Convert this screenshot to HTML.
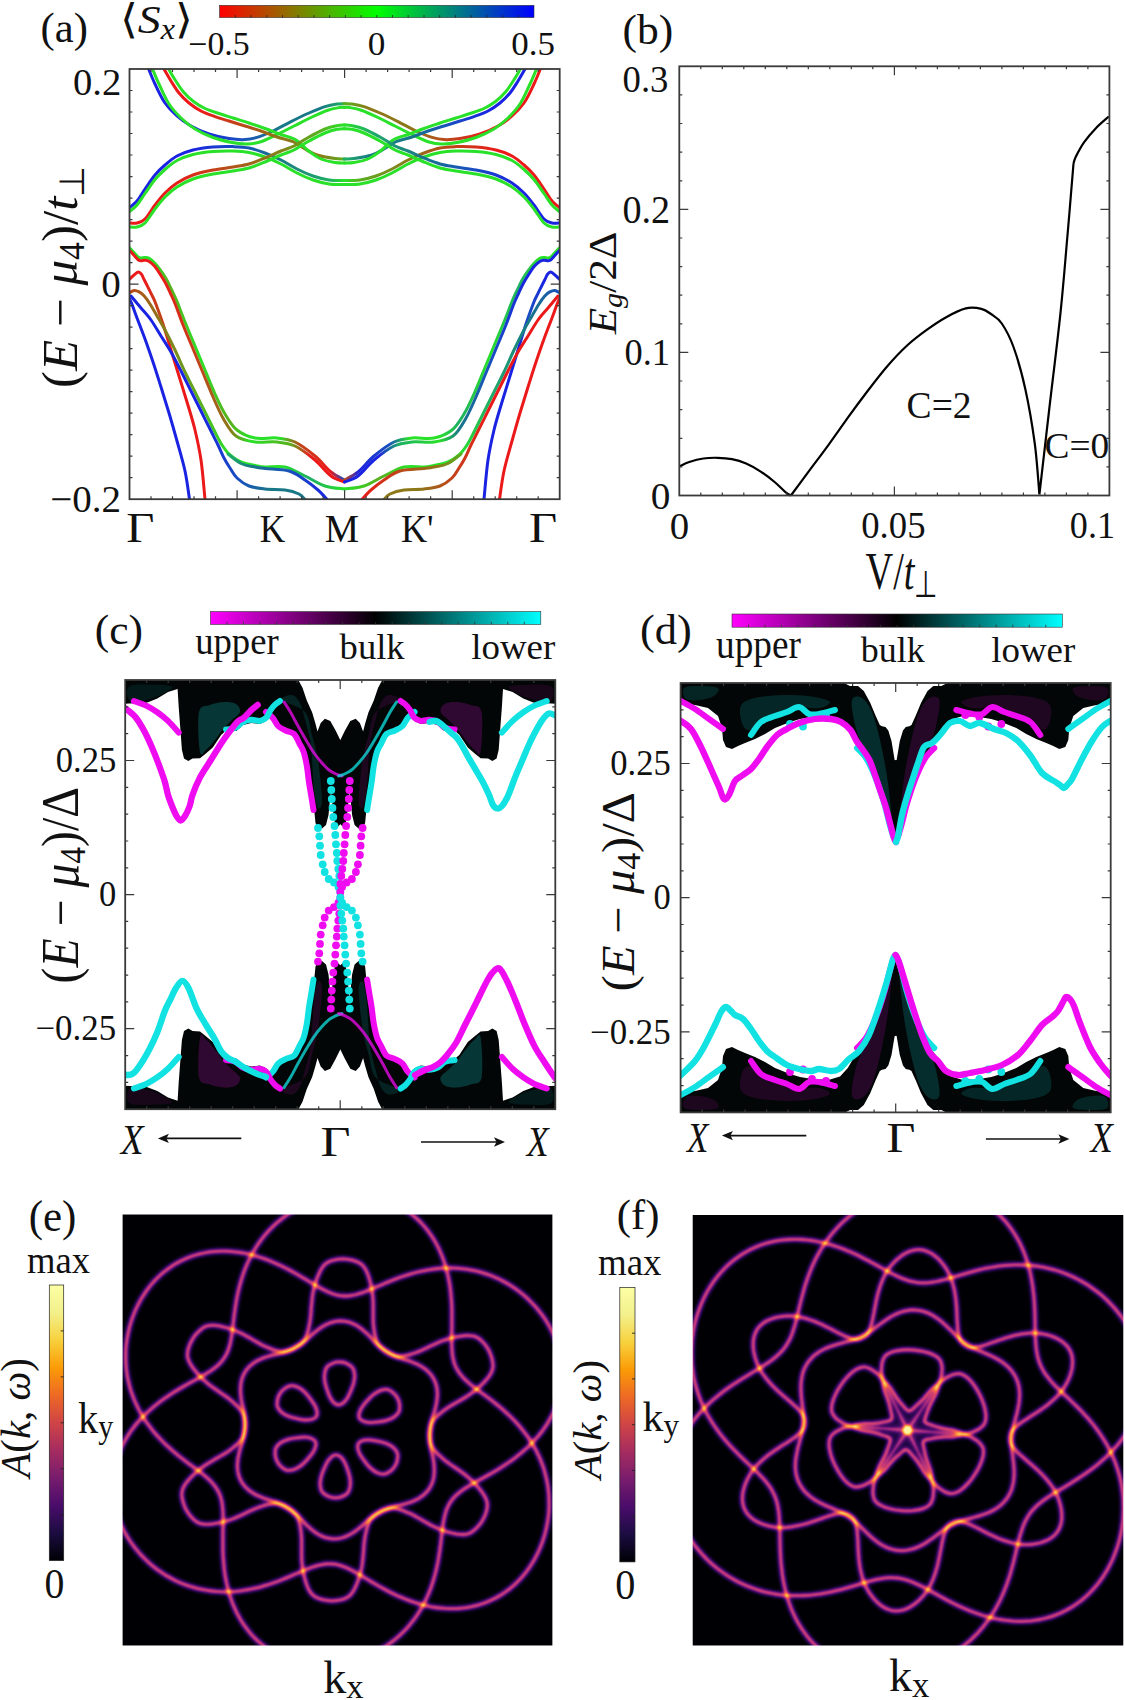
<!DOCTYPE html><html><head><meta charset="utf-8"><style>html,body{margin:0;padding:0;background:#fff;}svg{display:block}</style></head><body><svg width="1125" height="1700" viewBox="0 0 1125 1700" font-family="Liberation Serif, serif">
<defs>
<linearGradient id="cbA" x1="0" x2="1" y1="0" y2="0"><stop offset="0" stop-color="#ff0000"/><stop offset="0.5" stop-color="#00ff00"/><stop offset="1" stop-color="#0000ff"/></linearGradient>
<linearGradient id="cbC" x1="0" x2="1" y1="0" y2="0"><stop offset="0" stop-color="#ff00ff"/><stop offset="0.5" stop-color="#000000"/><stop offset="1" stop-color="#00ffff"/></linearGradient>
<linearGradient id="cbE" x1="0" x2="0" y1="1" y2="0">
<stop offset="0" stop-color="#000004"/><stop offset="0.1" stop-color="#1b0c41"/><stop offset="0.2" stop-color="#4a0c6b"/><stop offset="0.3" stop-color="#781c6d"/><stop offset="0.4" stop-color="#a52c60"/><stop offset="0.5" stop-color="#cf4446"/><stop offset="0.6" stop-color="#ed6925"/><stop offset="0.7" stop-color="#fb9b06"/><stop offset="0.8" stop-color="#f7d13d"/><stop offset="0.9" stop-color="#f3f08c"/><stop offset="1" stop-color="#fcffa4"/></linearGradient>
</defs>
<rect width="1125" height="1700" fill="#fff"/>
<clipPath id="clipA"><rect x="129.5" y="69" width="430" height="430"/></clipPath>
<defs><linearGradient id="ga0" gradientUnits="userSpaceOnUse" x1="147.6" y1="0" x2="346" y2="0"><stop offset="0.012" stop-color="#1923e1"/><stop offset="0.264" stop-color="#1923e1"/><stop offset="0.466" stop-color="#1950be"/><stop offset="0.667" stop-color="#197887"/><stop offset="0.869" stop-color="#197887"/><stop offset="0.990" stop-color="#1eaf64"/></linearGradient><linearGradient id="ga1" gradientUnits="userSpaceOnUse" x1="343.0" y1="0" x2="541.4" y2="0"><stop offset="0.010" stop-color="#5aaf1e"/><stop offset="0.131" stop-color="#8c7819"/><stop offset="0.333" stop-color="#8c7819"/><stop offset="0.534" stop-color="#be4619"/><stop offset="0.736" stop-color="#eb1919"/><stop offset="0.988" stop-color="#eb1919"/></linearGradient><linearGradient id="ga2" gradientUnits="userSpaceOnUse" x1="151.5" y1="0" x2="346" y2="0"><stop offset="0.000" stop-color="#28e128"/><stop offset="0.990" stop-color="#28e128"/></linearGradient><linearGradient id="ga3" gradientUnits="userSpaceOnUse" x1="343.0" y1="0" x2="537.5" y2="0"><stop offset="0.010" stop-color="#28e128"/><stop offset="1.000" stop-color="#28e128"/></linearGradient><linearGradient id="ga4" gradientUnits="userSpaceOnUse" x1="163" y1="0" x2="346" y2="0"><stop offset="0.000" stop-color="#eb1919"/><stop offset="0.202" stop-color="#eb1919"/><stop offset="0.421" stop-color="#be4619"/><stop offset="0.639" stop-color="#8c7819"/><stop offset="0.858" stop-color="#8c7819"/><stop offset="0.989" stop-color="#5aaf1e"/></linearGradient><linearGradient id="ga5" gradientUnits="userSpaceOnUse" x1="343.0" y1="0" x2="526.0" y2="0"><stop offset="0.011" stop-color="#1eaf64"/><stop offset="0.142" stop-color="#197887"/><stop offset="0.361" stop-color="#197887"/><stop offset="0.579" stop-color="#1950be"/><stop offset="0.798" stop-color="#1923e1"/><stop offset="1.000" stop-color="#1923e1"/></linearGradient><linearGradient id="ga6" gradientUnits="userSpaceOnUse" x1="167.5" y1="0" x2="346" y2="0"><stop offset="0.000" stop-color="#28e128"/><stop offset="0.989" stop-color="#28e128"/></linearGradient><linearGradient id="ga7" gradientUnits="userSpaceOnUse" x1="343.0" y1="0" x2="521.5" y2="0"><stop offset="0.011" stop-color="#28e128"/><stop offset="1.000" stop-color="#28e128"/></linearGradient><linearGradient id="ga8" gradientUnits="userSpaceOnUse" x1="128" y1="0" x2="346" y2="0"><stop offset="0.009" stop-color="#1923e1"/><stop offset="0.284" stop-color="#1923e1"/><stop offset="0.514" stop-color="#1950be"/><stop offset="0.697" stop-color="#197887"/><stop offset="0.927" stop-color="#1eaf64"/><stop offset="0.991" stop-color="#28e128"/></linearGradient><linearGradient id="ga9" gradientUnits="userSpaceOnUse" x1="343.0" y1="0" x2="561.0" y2="0"><stop offset="0.009" stop-color="#28e128"/><stop offset="0.073" stop-color="#5aaf1e"/><stop offset="0.303" stop-color="#8c7819"/><stop offset="0.486" stop-color="#be4619"/><stop offset="0.716" stop-color="#eb1919"/><stop offset="0.991" stop-color="#eb1919"/></linearGradient><linearGradient id="ga10" gradientUnits="userSpaceOnUse" x1="128" y1="0" x2="346" y2="0"><stop offset="0.009" stop-color="#28e128"/><stop offset="0.991" stop-color="#28e128"/></linearGradient><linearGradient id="ga11" gradientUnits="userSpaceOnUse" x1="343.0" y1="0" x2="561.0" y2="0"><stop offset="0.009" stop-color="#28e128"/><stop offset="0.991" stop-color="#28e128"/></linearGradient><linearGradient id="ga12" gradientUnits="userSpaceOnUse" x1="128" y1="0" x2="346" y2="0"><stop offset="0.009" stop-color="#eb1919"/><stop offset="0.193" stop-color="#eb1919"/><stop offset="0.422" stop-color="#be4619"/><stop offset="0.651" stop-color="#8c7819"/><stop offset="0.881" stop-color="#5aaf1e"/><stop offset="0.991" stop-color="#28e128"/></linearGradient><linearGradient id="ga13" gradientUnits="userSpaceOnUse" x1="343.0" y1="0" x2="561.0" y2="0"><stop offset="0.009" stop-color="#28e128"/><stop offset="0.119" stop-color="#1eaf64"/><stop offset="0.349" stop-color="#197887"/><stop offset="0.578" stop-color="#1950be"/><stop offset="0.807" stop-color="#1923e1"/><stop offset="0.991" stop-color="#1923e1"/></linearGradient><linearGradient id="ga14" gradientUnits="userSpaceOnUse" x1="128" y1="0" x2="346" y2="0"><stop offset="0.009" stop-color="#28e128"/><stop offset="0.991" stop-color="#28e128"/></linearGradient><linearGradient id="ga15" gradientUnits="userSpaceOnUse" x1="343.0" y1="0" x2="561.0" y2="0"><stop offset="0.009" stop-color="#28e128"/><stop offset="0.991" stop-color="#28e128"/></linearGradient><linearGradient id="ga16" gradientUnits="userSpaceOnUse" x1="128.6" y1="0" x2="345.5" y2="0"><stop offset="0.006" stop-color="#28e128"/><stop offset="0.099" stop-color="#28e128"/><stop offset="0.191" stop-color="#5aaf1e"/><stop offset="0.329" stop-color="#28e128"/><stop offset="0.467" stop-color="#5aaf1e"/><stop offset="0.560" stop-color="#28e128"/><stop offset="0.698" stop-color="#28e128"/><stop offset="0.790" stop-color="#be4619"/><stop offset="0.929" stop-color="#eb1919"/><stop offset="0.993" stop-color="#1950be"/></linearGradient><linearGradient id="ga17" gradientUnits="userSpaceOnUse" x1="343.5" y1="0" x2="560.4" y2="0"><stop offset="0.007" stop-color="#be4619"/><stop offset="0.071" stop-color="#1923e1"/><stop offset="0.210" stop-color="#1950be"/><stop offset="0.302" stop-color="#28e128"/><stop offset="0.440" stop-color="#28e128"/><stop offset="0.533" stop-color="#1eaf64"/><stop offset="0.671" stop-color="#28e128"/><stop offset="0.809" stop-color="#1eaf64"/><stop offset="0.901" stop-color="#28e128"/><stop offset="0.994" stop-color="#28e128"/></linearGradient><linearGradient id="ga18" gradientUnits="userSpaceOnUse" x1="128.6" y1="0" x2="345.5" y2="0"><stop offset="0.006" stop-color="#eb1919"/><stop offset="0.145" stop-color="#eb1919"/><stop offset="0.329" stop-color="#be4619"/><stop offset="0.467" stop-color="#8c7819"/><stop offset="0.560" stop-color="#28e128"/><stop offset="0.744" stop-color="#5aaf1e"/><stop offset="0.836" stop-color="#eb1919"/><stop offset="0.993" stop-color="#eb1919"/></linearGradient><linearGradient id="ga19" gradientUnits="userSpaceOnUse" x1="343.5" y1="0" x2="560.4" y2="0"><stop offset="0.007" stop-color="#1923e1"/><stop offset="0.164" stop-color="#1923e1"/><stop offset="0.256" stop-color="#1eaf64"/><stop offset="0.440" stop-color="#28e128"/><stop offset="0.533" stop-color="#197887"/><stop offset="0.671" stop-color="#1950be"/><stop offset="0.855" stop-color="#1923e1"/><stop offset="0.994" stop-color="#1923e1"/></linearGradient><linearGradient id="ga20" gradientUnits="userSpaceOnUse" x1="128.6" y1="0" x2="206" y2="0"><stop offset="0.018" stop-color="#eb1919"/><stop offset="0.212" stop-color="#eb1919"/><stop offset="0.406" stop-color="#be4619"/><stop offset="0.535" stop-color="#eb1919"/><stop offset="0.987" stop-color="#eb1919"/></linearGradient><linearGradient id="ga21" gradientUnits="userSpaceOnUse" x1="483.0" y1="0" x2="560.4" y2="0"><stop offset="0.013" stop-color="#1923e1"/><stop offset="0.465" stop-color="#1923e1"/><stop offset="0.594" stop-color="#1950be"/><stop offset="0.788" stop-color="#1923e1"/><stop offset="0.982" stop-color="#1923e1"/></linearGradient><linearGradient id="ga22" gradientUnits="userSpaceOnUse" x1="128.6" y1="0" x2="345.5" y2="0"><stop offset="0.006" stop-color="#be4619"/><stop offset="0.145" stop-color="#8c7819"/><stop offset="0.329" stop-color="#5aaf1e"/><stop offset="0.467" stop-color="#28e128"/><stop offset="0.698" stop-color="#28e128"/><stop offset="0.836" stop-color="#1eaf64"/><stop offset="0.993" stop-color="#28e128"/></linearGradient><linearGradient id="ga23" gradientUnits="userSpaceOnUse" x1="343.5" y1="0" x2="560.4" y2="0"><stop offset="0.007" stop-color="#28e128"/><stop offset="0.164" stop-color="#5aaf1e"/><stop offset="0.302" stop-color="#28e128"/><stop offset="0.533" stop-color="#28e128"/><stop offset="0.671" stop-color="#1eaf64"/><stop offset="0.855" stop-color="#197887"/><stop offset="0.994" stop-color="#1950be"/></linearGradient><linearGradient id="ga24" gradientUnits="userSpaceOnUse" x1="130" y1="0" x2="306" y2="0"><stop offset="0.000" stop-color="#1923e1"/><stop offset="0.398" stop-color="#1923e1"/><stop offset="0.625" stop-color="#1950be"/><stop offset="0.795" stop-color="#197887"/><stop offset="0.994" stop-color="#197887"/></linearGradient><linearGradient id="ga25" gradientUnits="userSpaceOnUse" x1="383.0" y1="0" x2="559.0" y2="0"><stop offset="0.006" stop-color="#8c7819"/><stop offset="0.205" stop-color="#8c7819"/><stop offset="0.375" stop-color="#be4619"/><stop offset="0.602" stop-color="#eb1919"/><stop offset="1.000" stop-color="#eb1919"/></linearGradient><linearGradient id="ga26" gradientUnits="userSpaceOnUse" x1="227" y1="0" x2="328" y2="0"><stop offset="0.010" stop-color="#1eaf64"/><stop offset="0.228" stop-color="#197887"/><stop offset="0.624" stop-color="#1950be"/><stop offset="0.990" stop-color="#1923e1"/></linearGradient><linearGradient id="ga27" gradientUnits="userSpaceOnUse" x1="361.0" y1="0" x2="462.0" y2="0"><stop offset="0.010" stop-color="#eb1919"/><stop offset="0.376" stop-color="#be4619"/><stop offset="0.772" stop-color="#8c7819"/><stop offset="0.990" stop-color="#5aaf1e"/></linearGradient><linearGradient id="ga28" gradientUnits="userSpaceOnUse" x1="128.6" y1="0" x2="190.5" y2="0"><stop offset="0.023" stop-color="#1923e1"/><stop offset="0.992" stop-color="#1923e1"/></linearGradient><linearGradient id="ga29" gradientUnits="userSpaceOnUse" x1="498.5" y1="0" x2="560.4" y2="0"><stop offset="0.008" stop-color="#eb1919"/><stop offset="0.977" stop-color="#eb1919"/></linearGradient></defs>
<g clip-path="url(#clipA)" fill="none" stroke-width="3" stroke-linecap="round" stroke-linejoin="round"><path d="M148.6 69.0C149.7 71.5 152.3 78.3 155.0 84.0C157.7 89.7 161.3 97.7 165.0 103.0C168.7 108.3 172.7 112.2 177.0 116.0C181.3 119.8 185.7 123.0 191.0 126.0C196.3 129.0 202.7 131.9 209.0 134.0C215.3 136.1 223.0 137.7 229.0 138.6C235.0 139.5 240.3 139.8 245.0 139.6C249.7 139.4 252.3 138.8 257.0 137.4C261.7 136.0 267.3 133.6 273.0 131.0C278.7 128.4 285.0 124.6 291.0 121.6C297.0 118.6 303.3 115.5 309.0 113.0C314.7 110.5 320.3 108.1 325.0 106.6C329.7 105.1 333.7 104.5 337.0 104.0C340.3 103.5 343.7 103.7 345.0 103.6" stroke="url(#ga0)"/><path d="M540.4 69.0C539.3 71.5 536.7 78.3 534.0 84.0C531.3 89.7 527.7 97.7 524.0 103.0C520.3 108.3 516.3 112.2 512.0 116.0C507.7 119.8 503.3 123.0 498.0 126.0C492.7 129.0 486.3 131.9 480.0 134.0C473.7 136.1 466.0 137.7 460.0 138.6C454.0 139.5 448.7 139.8 444.0 139.6C439.3 139.4 436.7 138.8 432.0 137.4C427.3 136.0 421.7 133.6 416.0 131.0C410.3 128.4 404.0 124.6 398.0 121.6C392.0 118.6 385.7 115.5 380.0 113.0C374.3 110.5 368.7 108.1 364.0 106.6C359.3 105.1 355.3 104.5 352.0 104.0C348.7 103.5 345.3 103.7 344.0 103.6" stroke="url(#ga1)"/><path d="M152.5 69.0C153.6 71.5 156.2 78.2 159.0 84.0C161.8 89.8 165.3 98.3 169.0 104.0C172.7 109.7 176.7 113.8 181.0 118.0C185.3 122.2 189.7 125.8 195.0 129.0C200.3 132.2 206.8 135.2 213.0 137.5C219.2 139.8 226.3 141.4 232.0 142.5C237.7 143.6 242.3 144.1 247.0 144.0C251.7 143.9 255.2 143.5 260.0 142.0C264.8 140.5 270.3 137.7 276.0 135.0C281.7 132.3 288.2 128.9 294.0 126.0C299.8 123.1 305.5 120.1 311.0 117.5C316.5 114.9 322.3 112.2 327.0 110.5C331.7 108.8 336.0 108.1 339.0 107.6C342.0 107.1 344.0 107.4 345.0 107.4" stroke="url(#ga2)"/><path d="M536.5 69.0C535.4 71.5 532.8 78.2 530.0 84.0C527.2 89.8 523.7 98.3 520.0 104.0C516.3 109.7 512.3 113.8 508.0 118.0C503.7 122.2 499.3 125.8 494.0 129.0C488.7 132.2 482.2 135.2 476.0 137.5C469.8 139.8 462.7 141.4 457.0 142.5C451.3 143.6 446.7 144.1 442.0 144.0C437.3 143.9 433.8 143.5 429.0 142.0C424.2 140.5 418.7 137.7 413.0 135.0C407.3 132.3 400.8 128.9 395.0 126.0C389.2 123.1 383.5 120.1 378.0 117.5C372.5 114.9 366.7 112.2 362.0 110.5C357.3 108.8 353.0 108.1 350.0 107.6C347.0 107.1 345.0 107.4 344.0 107.4" stroke="url(#ga3)"/><path d="M164.0 69.0C165.2 71.0 168.5 77.0 171.0 81.0C173.5 85.0 176.0 89.3 179.0 93.0C182.0 96.7 185.3 100.0 189.0 103.0C192.7 106.0 196.7 108.7 201.0 111.0C205.3 113.3 210.3 114.9 215.0 116.6C219.7 118.3 224.0 119.4 229.0 121.0C234.0 122.6 239.7 124.3 245.0 126.0C250.3 127.7 255.7 129.2 261.0 131.0C266.3 132.8 271.7 135.2 277.0 137.0C282.3 138.8 288.3 139.6 293.0 141.6C297.7 143.6 301.0 146.8 305.0 149.0C309.0 151.2 312.0 153.4 317.0 155.0C322.0 156.6 330.3 157.9 335.0 158.6C339.7 159.3 343.3 158.9 345.0 159.0" stroke="url(#ga4)"/><path d="M525.0 69.0C523.8 71.0 520.5 77.0 518.0 81.0C515.5 85.0 513.0 89.3 510.0 93.0C507.0 96.7 503.7 100.0 500.0 103.0C496.3 106.0 492.3 108.7 488.0 111.0C483.7 113.3 478.7 114.9 474.0 116.6C469.3 118.3 465.0 119.4 460.0 121.0C455.0 122.6 449.3 124.3 444.0 126.0C438.7 127.7 433.3 129.2 428.0 131.0C422.7 132.8 417.3 135.2 412.0 137.0C406.7 138.8 400.7 139.6 396.0 141.6C391.3 143.6 388.0 146.8 384.0 149.0C380.0 151.2 377.0 153.4 372.0 155.0C367.0 156.6 358.7 157.9 354.0 158.6C349.3 159.3 345.7 158.9 344.0 159.0" stroke="url(#ga5)"/><path d="M168.5 69.0C169.7 70.9 173.0 76.7 175.5 80.5C178.0 84.3 180.5 88.5 183.5 92.0C186.5 95.5 189.9 98.8 193.5 101.5C197.1 104.2 200.8 106.5 205.0 108.5C209.2 110.5 214.3 111.9 219.0 113.5C223.7 115.1 228.0 116.4 233.0 118.0C238.0 119.6 243.7 121.2 249.0 123.0C254.3 124.8 259.7 126.6 265.0 128.5C270.3 130.4 275.8 132.6 281.0 134.5C286.2 136.4 291.5 137.3 296.0 140.0C300.5 142.7 304.0 147.4 308.0 150.5C312.0 153.6 315.5 156.5 320.0 158.5C324.5 160.5 330.8 161.8 335.0 162.5C339.2 163.2 343.3 162.9 345.0 163.0" stroke="url(#ga6)"/><path d="M520.5 69.0C519.3 70.9 516.0 76.7 513.5 80.5C511.0 84.3 508.5 88.5 505.5 92.0C502.5 95.5 499.1 98.8 495.5 101.5C491.9 104.2 488.2 106.5 484.0 108.5C479.8 110.5 474.7 111.9 470.0 113.5C465.3 115.1 461.0 116.4 456.0 118.0C451.0 119.6 445.3 121.2 440.0 123.0C434.7 124.8 429.3 126.6 424.0 128.5C418.7 130.4 413.2 132.6 408.0 134.5C402.8 136.4 397.5 137.3 393.0 140.0C388.5 142.7 385.0 147.4 381.0 150.5C377.0 153.6 373.5 156.5 369.0 158.5C364.5 160.5 358.2 161.8 354.0 162.5C349.8 163.2 345.7 162.9 344.0 163.0" stroke="url(#ga7)"/><path d="M129.0 208.0C130.3 206.8 134.3 204.2 137.0 201.0C139.7 197.8 142.0 193.3 145.0 189.0C148.0 184.7 151.7 179.0 155.0 175.0C158.3 171.0 161.3 168.2 165.0 165.0C168.7 161.8 172.3 158.5 177.0 156.0C181.7 153.5 187.0 151.5 193.0 150.0C199.0 148.5 206.3 147.6 213.0 147.0C219.7 146.4 227.0 146.4 233.0 146.6C239.0 146.8 243.7 146.9 249.0 148.0C254.3 149.1 259.7 151.0 265.0 153.0C270.3 155.0 275.7 157.3 281.0 160.0C286.3 162.7 291.7 166.3 297.0 169.0C302.3 171.7 307.7 174.2 313.0 176.0C318.3 177.8 323.7 179.2 329.0 180.0C334.3 180.8 342.3 180.5 345.0 180.6" stroke="url(#ga8)"/><path d="M560.0 208.0C558.7 206.8 554.7 204.2 552.0 201.0C549.3 197.8 547.0 193.3 544.0 189.0C541.0 184.7 537.3 179.0 534.0 175.0C530.7 171.0 527.7 168.2 524.0 165.0C520.3 161.8 516.7 158.5 512.0 156.0C507.3 153.5 502.0 151.5 496.0 150.0C490.0 148.5 482.7 147.6 476.0 147.0C469.3 146.4 462.0 146.4 456.0 146.6C450.0 146.8 445.3 146.9 440.0 148.0C434.7 149.1 429.3 151.0 424.0 153.0C418.7 155.0 413.3 157.3 408.0 160.0C402.7 162.7 397.3 166.3 392.0 169.0C386.7 171.7 381.3 174.2 376.0 176.0C370.7 177.8 365.3 179.2 360.0 180.0C354.7 180.8 346.7 180.5 344.0 180.6" stroke="url(#ga9)"/><path d="M129.0 212.0C130.3 210.8 134.3 208.1 137.0 205.0C139.7 201.9 142.0 197.8 145.0 193.5C148.0 189.2 151.7 183.5 155.0 179.5C158.3 175.5 161.3 172.7 165.0 169.5C168.7 166.3 172.3 163.0 177.0 160.5C181.7 158.0 187.0 156.0 193.0 154.5C199.0 153.0 206.3 152.1 213.0 151.5C219.7 150.9 227.0 150.8 233.0 151.0C239.0 151.2 243.7 151.5 249.0 152.5C254.3 153.5 259.7 155.1 265.0 157.0C270.3 158.9 275.7 161.3 281.0 164.0C286.3 166.7 291.7 170.3 297.0 173.0C302.3 175.7 307.7 178.2 313.0 180.0C318.3 181.8 323.7 183.2 329.0 184.0C334.3 184.8 342.3 184.4 345.0 184.5" stroke="url(#ga10)"/><path d="M560.0 212.0C558.7 210.8 554.7 208.1 552.0 205.0C549.3 201.9 547.0 197.8 544.0 193.5C541.0 189.2 537.3 183.5 534.0 179.5C530.7 175.5 527.7 172.7 524.0 169.5C520.3 166.3 516.7 163.0 512.0 160.5C507.3 158.0 502.0 156.0 496.0 154.5C490.0 153.0 482.7 152.1 476.0 151.5C469.3 150.9 462.0 150.8 456.0 151.0C450.0 151.2 445.3 151.5 440.0 152.5C434.7 153.5 429.3 155.1 424.0 157.0C418.7 158.9 413.3 161.3 408.0 164.0C402.7 166.7 397.3 170.3 392.0 173.0C386.7 175.7 381.3 178.2 376.0 180.0C370.7 181.8 365.3 183.2 360.0 184.0C354.7 184.8 346.7 184.4 344.0 184.5" stroke="url(#ga11)"/><path d="M129.0 223.0C130.3 223.0 134.3 223.7 137.0 223.0C139.7 222.3 142.0 222.0 145.0 219.0C148.0 216.0 151.7 209.3 155.0 205.0C158.3 200.7 161.3 196.7 165.0 193.0C168.7 189.3 172.3 186.0 177.0 183.0C181.7 180.0 187.0 177.2 193.0 175.0C199.0 172.8 206.3 171.3 213.0 170.0C219.7 168.7 227.0 168.0 233.0 167.0C239.0 166.0 243.7 165.5 249.0 164.0C254.3 162.5 259.7 160.2 265.0 158.0C270.3 155.8 276.2 153.0 281.0 151.0C285.8 149.0 289.3 148.3 294.0 146.0C298.7 143.7 303.8 139.8 309.0 137.0C314.2 134.2 320.3 130.9 325.0 129.0C329.7 127.1 333.7 126.3 337.0 125.6C340.3 124.9 343.7 125.1 345.0 125.0" stroke="url(#ga12)"/><path d="M560.0 223.0C558.7 223.0 554.7 223.7 552.0 223.0C549.3 222.3 547.0 222.0 544.0 219.0C541.0 216.0 537.3 209.3 534.0 205.0C530.7 200.7 527.7 196.7 524.0 193.0C520.3 189.3 516.7 186.0 512.0 183.0C507.3 180.0 502.0 177.2 496.0 175.0C490.0 172.8 482.7 171.3 476.0 170.0C469.3 168.7 462.0 168.0 456.0 167.0C450.0 166.0 445.3 165.5 440.0 164.0C434.7 162.5 429.3 160.2 424.0 158.0C418.7 155.8 412.8 153.0 408.0 151.0C403.2 149.0 399.7 148.3 395.0 146.0C390.3 143.7 385.2 139.8 380.0 137.0C374.8 134.2 368.7 130.9 364.0 129.0C359.3 127.1 355.3 126.3 352.0 125.6C348.7 124.9 345.3 125.1 344.0 125.0" stroke="url(#ga13)"/><path d="M129.0 227.0C130.3 227.0 134.3 227.7 137.0 227.0C139.7 226.3 142.0 226.0 145.0 223.0C148.0 220.0 151.7 213.3 155.0 209.0C158.3 204.7 161.3 200.7 165.0 197.0C168.7 193.3 172.3 190.0 177.0 187.0C181.7 184.0 187.0 181.2 193.0 179.0C199.0 176.8 206.3 175.3 213.0 174.0C219.7 172.7 227.0 172.0 233.0 171.0C239.0 170.0 243.7 169.5 249.0 168.0C254.3 166.5 259.7 164.2 265.0 162.0C270.3 159.8 276.2 157.0 281.0 155.0C285.8 153.0 289.3 152.3 294.0 150.0C298.7 147.7 303.8 143.8 309.0 141.0C314.2 138.2 320.3 134.9 325.0 133.0C329.7 131.1 333.7 130.0 337.0 129.3C340.3 128.6 343.7 128.8 345.0 128.7" stroke="url(#ga14)"/><path d="M560.0 227.0C558.7 227.0 554.7 227.7 552.0 227.0C549.3 226.3 547.0 226.0 544.0 223.0C541.0 220.0 537.3 213.3 534.0 209.0C530.7 204.7 527.7 200.7 524.0 197.0C520.3 193.3 516.7 190.0 512.0 187.0C507.3 184.0 502.0 181.2 496.0 179.0C490.0 176.8 482.7 175.3 476.0 174.0C469.3 172.7 462.0 172.0 456.0 171.0C450.0 170.0 445.3 169.5 440.0 168.0C434.7 166.5 429.3 164.2 424.0 162.0C418.7 159.8 412.8 157.0 408.0 155.0C403.2 153.0 399.7 152.3 395.0 150.0C390.3 147.7 385.2 143.8 380.0 141.0C374.8 138.2 368.7 134.9 364.0 133.0C359.3 131.1 355.3 130.0 352.0 129.3C348.7 128.6 345.3 128.8 344.0 128.7" stroke="url(#ga15)"/><path d="M129.6 247.8C130.4 248.6 132.6 251.2 134.2 252.8C135.8 254.5 137.4 256.9 139.2 257.7C141.0 258.5 143.2 257.3 144.9 257.4C146.6 257.5 147.5 257.4 149.2 258.4C150.9 259.4 153.0 261.4 154.9 263.4C156.8 265.4 158.7 267.9 160.6 270.5C162.5 273.1 164.5 276.0 166.3 279.1C168.1 282.2 169.5 285.6 171.2 289.0C172.8 292.4 173.9 294.2 176.2 299.7C178.5 305.2 181.9 314.3 185.0 322.0C188.1 329.7 191.7 338.0 195.0 346.0C198.3 354.0 201.7 362.0 205.0 370.0C208.3 378.0 211.7 386.7 215.0 394.0C218.3 401.3 221.3 408.0 225.0 414.0C228.7 420.0 232.0 426.0 237.0 430.0C242.0 434.0 248.3 436.7 255.0 438.0C261.7 439.3 270.3 437.3 277.0 438.0C283.7 438.7 288.7 439.0 295.0 442.0C301.3 445.0 309.0 451.0 315.0 456.0C321.0 461.0 326.1 468.0 331.0 472.0C335.9 476.0 342.2 478.7 344.5 480.0" stroke="url(#ga16)"/><path d="M559.4 247.8C558.6 248.6 556.4 251.2 554.8 252.8C553.2 254.5 551.6 256.9 549.8 257.7C548.0 258.5 545.8 257.3 544.1 257.4C542.4 257.5 541.5 257.4 539.8 258.4C538.1 259.4 536.0 261.4 534.1 263.4C532.2 265.4 530.3 267.9 528.4 270.5C526.5 273.1 524.5 276.0 522.7 279.1C520.9 282.2 519.4 285.6 517.8 289.0C516.1 292.4 515.1 294.2 512.8 299.7C510.5 305.2 507.1 314.3 504.0 322.0C500.9 329.7 497.3 338.0 494.0 346.0C490.7 354.0 487.3 362.0 484.0 370.0C480.7 378.0 477.3 386.7 474.0 394.0C470.7 401.3 467.7 408.0 464.0 414.0C460.3 420.0 457.0 426.0 452.0 430.0C447.0 434.0 440.7 436.7 434.0 438.0C427.3 439.3 418.7 437.3 412.0 438.0C405.3 438.7 400.3 439.0 394.0 442.0C387.7 445.0 380.0 451.0 374.0 456.0C368.0 461.0 362.9 468.0 358.0 472.0C353.1 476.0 346.8 478.7 344.5 480.0" stroke="url(#ga17)"/><path d="M129.6 250.5C130.4 251.3 132.6 253.8 134.2 255.5C135.8 257.1 137.4 259.6 139.2 260.4C141.0 261.2 143.2 260.1 144.9 260.3C146.6 260.5 147.5 260.5 149.2 261.5C150.9 262.5 153.1 264.4 154.9 266.5C156.7 268.6 158.2 271.2 160.0 274.0C161.8 276.8 163.8 279.8 165.5 283.0C167.2 286.2 168.7 289.6 170.3 293.0C171.9 296.4 172.8 298.0 175.0 303.5C177.2 309.0 180.4 318.2 183.5 326.0C186.6 333.8 190.2 342.0 193.5 350.0C196.8 358.0 200.2 366.0 203.5 374.0C206.8 382.0 210.2 390.5 213.5 398.0C216.8 405.5 219.8 412.7 223.5 419.0C227.2 425.3 230.8 432.2 236.0 436.0C241.2 439.8 248.2 441.0 255.0 442.0C261.8 443.0 270.3 441.3 277.0 442.0C283.7 442.7 288.7 443.0 295.0 446.0C301.3 449.0 309.0 455.0 315.0 460.0C321.0 465.0 326.1 472.3 331.0 476.0C335.9 479.7 342.2 481.0 344.5 482.0" stroke="url(#ga18)"/><path d="M559.4 250.5C558.6 251.3 556.4 253.8 554.8 255.5C553.2 257.1 551.6 259.6 549.8 260.4C548.0 261.2 545.8 260.1 544.1 260.3C542.4 260.5 541.5 260.5 539.8 261.5C538.1 262.5 535.9 264.4 534.1 266.5C532.3 268.6 530.8 271.2 529.0 274.0C527.2 276.8 525.2 279.8 523.5 283.0C521.8 286.2 520.3 289.6 518.7 293.0C517.1 296.4 516.2 298.0 514.0 303.5C511.8 309.0 508.6 318.2 505.5 326.0C502.4 333.8 498.8 342.0 495.5 350.0C492.2 358.0 488.8 366.0 485.5 374.0C482.2 382.0 478.8 390.5 475.5 398.0C472.2 405.5 469.2 412.7 465.5 419.0C461.8 425.3 458.2 432.2 453.0 436.0C447.8 439.8 440.8 441.0 434.0 442.0C427.2 443.0 418.7 441.3 412.0 442.0C405.3 442.7 400.3 443.0 394.0 446.0C387.7 449.0 380.0 455.0 374.0 460.0C368.0 465.0 362.9 472.3 358.0 476.0C353.1 479.7 346.8 481.0 344.5 482.0" stroke="url(#ga19)"/><path d="M129.6 279.1C130.4 278.4 132.8 276.0 134.2 274.8C135.6 273.6 137.0 272.1 138.2 272.0C139.4 271.9 140.4 272.8 141.4 274.1C142.4 275.4 143.1 277.7 144.2 279.8C145.3 281.9 146.5 284.3 147.8 286.9C149.1 289.5 150.7 292.7 152.0 295.4C153.3 298.1 153.8 298.5 155.6 303.3C157.4 308.1 160.4 316.2 163.0 324.0C165.6 331.8 168.3 341.3 171.0 350.0C173.7 358.7 176.3 367.3 179.0 376.0C181.7 384.7 184.3 393.0 187.0 402.0C189.7 411.0 192.7 420.3 195.0 430.0C197.3 439.7 199.3 448.5 201.0 460.0C202.7 471.5 204.3 492.5 205.0 499.0" stroke="url(#ga20)"/><path d="M559.4 279.1C558.6 278.4 556.2 276.0 554.8 274.8C553.4 273.6 552.0 272.1 550.8 272.0C549.6 271.9 548.6 272.8 547.6 274.1C546.6 275.4 545.9 277.7 544.8 279.8C543.7 281.9 542.5 284.3 541.2 286.9C539.9 289.5 538.3 292.7 537.0 295.4C535.7 298.1 535.2 298.5 533.4 303.3C531.6 308.1 528.6 316.2 526.0 324.0C523.4 331.8 520.7 341.3 518.0 350.0C515.3 358.7 512.7 367.3 510.0 376.0C507.3 384.7 504.7 393.0 502.0 402.0C499.3 411.0 496.3 420.3 494.0 430.0C491.7 439.7 489.7 448.5 488.0 460.0C486.3 471.5 484.7 492.5 484.0 499.0" stroke="url(#ga21)"/><path d="M129.6 292.6C130.4 292.2 132.6 290.6 134.2 290.5C135.8 290.4 137.5 291.0 139.2 291.9C140.9 292.8 142.4 294.1 144.2 296.1C146.0 298.1 147.9 300.7 150.0 304.0C152.1 307.3 154.5 311.7 157.0 316.0C159.5 320.3 162.0 324.3 165.0 330.0C168.0 335.7 171.7 343.0 175.0 350.0C178.3 357.0 182.0 365.7 185.0 372.0C188.0 378.3 190.5 383.0 193.0 388.0C195.5 393.0 197.5 397.0 200.0 402.0C202.5 407.0 205.5 413.0 208.0 418.0C210.5 423.0 212.7 427.5 215.0 432.0C217.3 436.5 219.5 441.2 222.0 445.0C224.5 448.8 226.8 452.2 230.0 455.0C233.2 457.8 236.8 460.2 241.0 462.0C245.2 463.8 251.0 464.7 255.0 465.5C259.0 466.3 260.0 466.8 265.0 467.0C270.0 467.2 278.3 465.5 285.0 467.0C291.7 468.5 298.3 472.8 305.0 476.0C311.7 479.2 318.4 483.8 325.0 486.0C331.6 488.2 341.2 488.5 344.5 489.0" stroke="url(#ga22)"/><path d="M559.4 292.6C558.6 292.2 556.4 290.6 554.8 290.5C553.2 290.4 551.5 291.0 549.8 291.9C548.1 292.8 546.6 294.1 544.8 296.1C543.0 298.1 541.1 300.7 539.0 304.0C536.9 307.3 534.5 311.7 532.0 316.0C529.5 320.3 527.0 324.3 524.0 330.0C521.0 335.7 517.3 343.0 514.0 350.0C510.7 357.0 507.0 365.7 504.0 372.0C501.0 378.3 498.5 383.0 496.0 388.0C493.5 393.0 491.5 397.0 489.0 402.0C486.5 407.0 483.5 413.0 481.0 418.0C478.5 423.0 476.3 427.5 474.0 432.0C471.7 436.5 469.5 441.2 467.0 445.0C464.5 448.8 462.2 452.2 459.0 455.0C455.8 457.8 452.2 460.2 448.0 462.0C443.8 463.8 438.0 464.7 434.0 465.5C430.0 466.3 429.0 466.8 424.0 467.0C419.0 467.2 410.7 465.5 404.0 467.0C397.3 468.5 390.7 472.8 384.0 476.0C377.3 479.2 370.6 483.8 364.0 486.0C357.4 488.2 347.8 488.5 344.5 489.0" stroke="url(#ga23)"/><path d="M131.0 296.0C131.8 297.0 134.3 300.0 136.0 302.0C137.7 304.0 138.5 305.0 141.0 308.0C143.5 311.0 147.7 315.3 151.0 320.0C154.3 324.7 157.7 330.7 161.0 336.0C164.3 341.3 167.7 346.2 171.0 352.0C174.3 357.8 177.7 364.5 181.0 371.0C184.3 377.5 187.7 384.3 191.0 391.0C194.3 397.7 197.7 404.3 201.0 411.0C204.3 417.7 208.2 425.3 211.0 431.0C213.8 436.7 215.8 440.5 218.0 445.0C220.2 449.5 222.0 454.2 224.0 458.0C226.0 461.8 227.8 464.7 230.0 468.0C232.2 471.3 233.8 475.0 237.0 478.0C240.2 481.0 244.3 484.2 249.0 486.0C253.7 487.8 259.0 488.3 265.0 489.0C271.0 489.7 279.3 489.2 285.0 490.0C290.7 490.8 295.7 492.4 299.0 494.0C302.3 495.6 304.0 498.6 305.0 499.5" stroke="url(#ga24)"/><path d="M558.0 296.0C557.2 297.0 554.7 300.0 553.0 302.0C551.3 304.0 550.5 305.0 548.0 308.0C545.5 311.0 541.3 315.3 538.0 320.0C534.7 324.7 531.3 330.7 528.0 336.0C524.7 341.3 521.3 346.2 518.0 352.0C514.7 357.8 511.3 364.5 508.0 371.0C504.7 377.5 501.3 384.3 498.0 391.0C494.7 397.7 491.3 404.3 488.0 411.0C484.7 417.7 480.8 425.3 478.0 431.0C475.2 436.7 473.2 440.5 471.0 445.0C468.8 449.5 467.0 454.2 465.0 458.0C463.0 461.8 461.2 464.7 459.0 468.0C456.8 471.3 455.2 475.0 452.0 478.0C448.8 481.0 444.7 484.2 440.0 486.0C435.3 487.8 430.0 488.3 424.0 489.0C418.0 489.7 409.7 489.2 404.0 490.0C398.3 490.8 393.3 492.4 390.0 494.0C386.7 495.6 385.0 498.6 384.0 499.5" stroke="url(#ga25)"/><path d="M228.0 454.0C230.2 455.6 236.5 461.3 241.0 463.5C245.5 465.7 251.0 466.2 255.0 467.0C259.0 467.8 259.3 467.8 265.0 468.5C270.7 469.2 282.3 469.1 289.0 471.0C295.7 472.9 300.2 476.8 305.0 480.0C309.8 483.2 314.3 486.8 318.0 490.0C321.7 493.2 325.5 497.9 327.0 499.5" stroke="url(#ga26)"/><path d="M461.0 454.0C458.8 455.6 452.5 461.3 448.0 463.5C443.5 465.7 438.0 466.2 434.0 467.0C430.0 467.8 429.7 467.8 424.0 468.5C418.3 469.2 406.7 469.1 400.0 471.0C393.3 472.9 388.8 476.8 384.0 480.0C379.2 483.2 374.7 486.8 371.0 490.0C367.3 493.2 363.5 497.9 362.0 499.5" stroke="url(#ga27)"/><path d="M129.6 299.0C130.2 300.3 131.8 303.8 133.0 307.0C134.2 310.2 135.0 312.7 137.0 318.0C139.0 323.3 142.3 331.7 145.0 339.0C147.7 346.3 150.3 354.0 153.0 362.0C155.7 370.0 158.3 378.5 161.0 387.0C163.7 395.5 166.3 404.0 169.0 413.0C171.7 422.0 174.3 431.3 177.0 441.0C179.7 450.7 182.9 461.2 185.0 471.0C187.1 480.8 188.8 494.8 189.5 499.5" stroke="url(#ga28)"/><path d="M559.4 299.0C558.8 300.3 557.2 303.8 556.0 307.0C554.8 310.2 554.0 312.7 552.0 318.0C550.0 323.3 546.7 331.7 544.0 339.0C541.3 346.3 538.7 354.0 536.0 362.0C533.3 370.0 530.7 378.5 528.0 387.0C525.3 395.5 522.7 404.0 520.0 413.0C517.3 422.0 514.7 431.3 512.0 441.0C509.3 450.7 506.1 461.2 504.0 471.0C501.9 480.8 500.2 494.8 499.5 499.5" stroke="url(#ga29)"/></g>
<rect x="219.6" y="5.3" width="314.4" height="12.3" fill="url(#cbA)" stroke="#333" stroke-width="0.6"/>
<path d="M235.3 17.6v-2.5M251.0 17.6v-2.5M266.8 17.6v-2.5M282.5 17.6v-2.5M298.2 17.6v-2.5M313.9 17.6v-2.5M329.6 17.6v-2.5M345.4 17.6v-2.5M361.1 17.6v-2.5M376.8 17.6v-2.5M392.5 17.6v-2.5M408.2 17.6v-2.5M424.0 17.6v-2.5M439.7 17.6v-2.5M455.4 17.6v-2.5M471.1 17.6v-2.5M486.8 17.6v-2.5M502.6 17.6v-2.5M518.3 17.6v-2.5" stroke="#222" stroke-width="0.8"/>
<path d="M679.6 466.3C681.2 465.6 685.2 463.3 689.2 462.0C693.2 460.7 698.6 459.2 703.4 458.5C708.1 457.8 713.0 457.7 717.7 457.8C722.5 457.9 727.2 458.2 731.9 459.2C736.6 460.1 741.4 461.5 746.1 463.5C750.8 465.5 755.5 468.2 760.3 471.3C765.0 474.4 770.3 478.4 774.6 482.0C778.9 485.6 783.3 490.4 786.0 492.6C788.7 494.9 790.1 495.0 790.9 495.5M790.9 495.5C794.0 491.4 803.0 479.2 809.3 470.7C815.6 462.2 822.4 453.3 828.9 444.3C835.4 435.3 841.9 425.9 848.4 416.9C854.9 407.9 861.5 399.0 868.0 390.5C874.5 382.0 881.0 373.5 887.5 366.0C894.0 358.5 900.6 351.5 907.1 345.5C913.6 339.5 920.2 334.6 926.7 329.9C933.2 325.2 939.7 320.8 946.2 317.2C952.7 313.6 959.9 309.8 965.8 308.4C971.7 307.0 977.2 307.9 981.4 308.9C985.6 309.9 987.8 311.8 991.2 314.2C994.6 316.6 998.1 318.0 1001.8 323.5C1005.5 329.0 1009.6 336.1 1013.5 347.0C1017.4 357.9 1021.8 373.0 1025.3 389.0C1028.8 405.0 1032.3 425.4 1034.7 443.0C1037.1 460.6 1038.6 485.9 1039.4 494.5M1039.4 494.5C1041.0 480.9 1045.3 443.4 1048.8 413.0C1052.3 382.6 1057.5 341.6 1060.6 311.8C1063.7 282.0 1065.4 258.7 1067.6 234.0C1069.8 209.3 1072.5 175.2 1073.5 163.5M1073.5 163.5C1073.9 162.3 1074.2 160.0 1075.9 156.5C1077.7 153.0 1080.7 147.1 1084.0 142.4C1087.3 137.7 1091.8 132.5 1095.9 128.2C1100.0 123.9 1106.7 118.5 1108.8 116.5" fill="none" stroke="#000" stroke-width="2.2" stroke-linejoin="round"/>
<clipPath id="clipC"><rect x="125.2" y="680" width="430.1" height="429.2"/></clipPath><g clip-path="url(#clipC)">
<path d="M125.0 680.0L298.3 680.0L302.5 687.8L306.8 700.6L312.1 712.3L315.3 723.0L317.5 731.5L320.7 723.0L324.9 718.7L330.3 720.9L335.6 730.5L340.5 740.5L342.0 741.0L342.0 824.0L340.5 824.0L338.0 826.5L335.0 824.0L333.5 815.0L332.0 800.0L331.0 792.0L330.0 800.0L328.5 815.0L326.0 825.0L322.0 828.5L318.0 828.0L315.5 823.0L314.0 808.0L311.0 795.0L308.9 781.7L306.8 765.7L303.6 751.8L299.3 743.3L294.0 735.8L285.5 730.5L276.9 724.1L270.5 714.0L266.3 721.0L259.9 724.0L251.3 723.0L242.8 725.0L236.4 731.0L226.7 730.0L221.3 734.7L212.8 747.5L205.3 753.9L200.0 758.2L192.5 758.5L188.3 761.0L184.0 758.5L181.9 749.7L180.3 728.3L178.7 707.0L177.6 688.9L168.0 692.1L157.3 698.5L146.7 702.7L133.9 703.3L125.0 703.8Z" fill="#030606"/>
<path d="M555.6 680.0L382.3 680.0L378.1 687.8L373.8 700.6L368.5 712.3L365.3 723.0L363.1 731.5L359.9 723.0L355.7 718.7L350.3 720.9L345.0 730.5L340.1 740.5L338.6 741.0L338.6 824.0L340.1 824.0L342.6 826.5L345.6 824.0L347.1 815.0L348.6 800.0L349.6 792.0L350.6 800.0L352.1 815.0L354.6 825.0L358.6 828.5L362.6 828.0L365.1 823.0L366.6 808.0L369.6 795.0L371.7 781.7L373.8 765.7L377.0 751.8L381.3 743.3L386.6 735.8L395.1 730.5L403.7 724.1L410.1 714.0L414.3 721.0L420.7 724.0L429.3 723.0L437.8 725.0L444.2 731.0L453.9 730.0L459.3 734.7L467.8 747.5L475.3 753.9L480.6 758.2L488.1 758.5L492.3 761.0L496.6 758.5L498.7 749.7L500.3 728.3L501.9 707.0L503.0 688.9L512.6 692.1L523.3 698.5L533.9 702.7L546.7 703.3L555.6 703.8Z" fill="#030606"/>
<path d="M125.0 1109.6L298.3 1109.6L302.5 1101.8L306.8 1089.0L312.1 1077.3L315.3 1066.6L317.5 1058.1L320.7 1066.6L324.9 1070.9L330.3 1068.7L335.6 1059.1L340.5 1049.1L342.0 1048.6L342.0 965.6L340.5 965.6L338.0 963.1L335.0 965.6L333.5 974.6L332.0 989.6L331.0 997.6L330.0 989.6L328.5 974.6L326.0 964.6L322.0 961.1L318.0 961.6L315.5 966.6L314.0 981.6L311.0 994.6L308.9 1007.9L306.8 1023.9L303.6 1037.8L299.3 1046.3L294.0 1053.8L285.5 1059.1L276.9 1065.5L270.5 1075.6L266.3 1068.6L259.9 1065.6L251.3 1066.6L242.8 1064.6L236.4 1058.6L226.7 1059.6L221.3 1054.9L212.8 1042.1L205.3 1035.7L200.0 1031.4L192.5 1031.1L188.3 1028.6L184.0 1031.1L181.9 1039.9L180.3 1061.3L178.7 1082.6L177.6 1100.7L168.0 1097.5L157.3 1091.1L146.7 1086.9L133.9 1086.3L125.0 1085.8Z" fill="#030606"/>
<path d="M555.6 1109.6L382.3 1109.6L378.1 1101.8L373.8 1089.0L368.5 1077.3L365.3 1066.6L363.1 1058.1L359.9 1066.6L355.7 1070.9L350.3 1068.7L345.0 1059.1L340.1 1049.1L338.6 1048.6L338.6 965.6L340.1 965.6L342.6 963.1L345.6 965.6L347.1 974.6L348.6 989.6L349.6 997.6L350.6 989.6L352.1 974.6L354.6 964.6L358.6 961.1L362.6 961.6L365.1 966.6L366.6 981.6L369.6 994.6L371.7 1007.9L373.8 1023.9L377.0 1037.8L381.3 1046.3L386.6 1053.8L395.1 1059.1L403.7 1065.5L410.1 1075.6L414.3 1068.6L420.7 1065.6L429.3 1066.6L437.8 1064.6L444.2 1058.6L453.9 1059.6L459.3 1054.9L467.8 1042.1L475.3 1035.7L480.6 1031.4L488.1 1031.1L492.3 1028.6L496.6 1031.1L498.7 1039.9L500.3 1061.3L501.9 1082.6L503.0 1100.7L512.6 1097.5L523.3 1091.1L533.9 1086.9L546.7 1086.3L555.6 1085.8Z" fill="#030606"/>
<path d="M199.0 712.0C200.7 704.2 205.8 706.7 210.0 705.0C214.2 703.3 219.7 702.2 224.0 702.0C228.3 701.8 233.3 702.3 236.0 704.0C238.7 705.7 240.7 709.3 240.0 712.0C239.3 714.7 234.7 717.3 232.0 720.0C229.3 722.7 226.8 724.7 224.0 728.0C221.2 731.3 218.0 736.3 215.0 740.0C212.0 743.7 208.5 748.0 206.0 750.0C203.5 752.0 201.2 758.3 200.0 752.0C198.8 745.7 197.3 719.8 199.0 712.0Z" fill="#0b6666" fill-opacity="0.5"/>
<path d="M130.0 686.0C135.0 683.3 153.0 684.8 160.0 685.0C167.0 685.2 171.0 685.8 172.0 687.0C173.0 688.2 169.7 690.0 166.0 692.0C162.3 694.0 156.0 697.5 150.0 699.0C144.0 700.5 133.3 703.2 130.0 701.0C126.7 698.8 125.0 688.7 130.0 686.0Z" fill="#0b6666" fill-opacity="0.22"/>
<path d="M282.0 700.0C279.8 697.2 289.0 694.5 292.0 695.0C295.0 695.5 297.8 698.8 300.0 703.0C302.2 707.2 303.3 713.8 305.0 720.0C306.7 726.2 308.8 733.3 310.0 740.0C311.2 746.7 311.3 751.7 312.0 760.0C312.7 768.3 313.0 782.0 314.0 790.0C315.0 798.0 316.7 806.3 318.0 808.0C319.3 809.7 322.0 808.0 322.0 800.0C322.0 792.0 319.7 770.8 318.0 760.0C316.3 749.2 314.2 743.0 312.0 735.0C309.8 727.0 310.0 717.8 305.0 712.0C300.0 706.2 284.2 702.8 282.0 700.0Z" fill="#0b6666" fill-opacity="0.3"/>
<path d="M481.6 712.0C479.9 704.2 474.8 706.7 470.6 705.0C466.4 703.3 460.9 702.2 456.6 702.0C452.3 701.8 447.3 702.3 444.6 704.0C441.9 705.7 439.9 709.3 440.6 712.0C441.3 714.7 445.9 717.3 448.6 720.0C451.3 722.7 453.8 724.7 456.6 728.0C459.4 731.3 462.6 736.3 465.6 740.0C468.6 743.7 472.1 748.0 474.6 750.0C477.1 752.0 479.4 758.3 480.6 752.0C481.8 745.7 483.3 719.8 481.6 712.0Z" fill="#5e0c5e" fill-opacity="0.5"/>
<path d="M550.6 686.0C545.6 683.3 527.6 684.8 520.6 685.0C513.6 685.2 509.6 685.8 508.6 687.0C507.6 688.2 510.9 690.0 514.6 692.0C518.3 694.0 524.6 697.5 530.6 699.0C536.6 700.5 547.3 703.2 550.6 701.0C553.9 698.8 555.6 688.7 550.6 686.0Z" fill="#5e0c5e" fill-opacity="0.22"/>
<path d="M398.6 700.0C400.8 697.2 391.6 694.5 388.6 695.0C385.6 695.5 382.8 698.8 380.6 703.0C378.4 707.2 377.3 713.8 375.6 720.0C373.9 726.2 371.8 733.3 370.6 740.0C369.4 746.7 369.3 751.7 368.6 760.0C367.9 768.3 367.6 782.0 366.6 790.0C365.6 798.0 363.9 806.3 362.6 808.0C361.3 809.7 358.6 808.0 358.6 800.0C358.6 792.0 360.9 770.8 362.6 760.0C364.3 749.2 366.4 743.0 368.6 735.0C370.8 727.0 370.6 717.8 375.6 712.0C380.6 706.2 396.4 702.8 398.6 700.0Z" fill="#5e0c5e" fill-opacity="0.3"/>
<path d="M199.0 1077.6C200.7 1085.4 205.8 1082.9 210.0 1084.6C214.2 1086.3 219.7 1087.4 224.0 1087.6C228.3 1087.8 233.3 1087.3 236.0 1085.6C238.7 1083.9 240.7 1080.3 240.0 1077.6C239.3 1074.9 234.7 1072.3 232.0 1069.6C229.3 1066.9 226.8 1064.9 224.0 1061.6C221.2 1058.3 218.0 1053.3 215.0 1049.6C212.0 1045.9 208.5 1041.6 206.0 1039.6C203.5 1037.6 201.2 1031.3 200.0 1037.6C198.8 1043.9 197.3 1069.8 199.0 1077.6Z" fill="#5e0c5e" fill-opacity="0.5"/>
<path d="M130.0 1103.6C135.0 1106.3 153.0 1104.8 160.0 1104.6C167.0 1104.4 171.0 1103.8 172.0 1102.6C173.0 1101.4 169.7 1099.6 166.0 1097.6C162.3 1095.6 156.0 1092.1 150.0 1090.6C144.0 1089.1 133.3 1086.4 130.0 1088.6C126.7 1090.8 125.0 1100.9 130.0 1103.6Z" fill="#5e0c5e" fill-opacity="0.22"/>
<path d="M282.0 1089.6C279.8 1092.4 289.0 1095.1 292.0 1094.6C295.0 1094.1 297.8 1090.8 300.0 1086.6C302.2 1082.4 303.3 1075.8 305.0 1069.6C306.7 1063.4 308.8 1056.3 310.0 1049.6C311.2 1042.9 311.3 1037.9 312.0 1029.6C312.7 1021.3 313.0 1007.6 314.0 999.6C315.0 991.6 316.7 983.3 318.0 981.6C319.3 979.9 322.0 981.6 322.0 989.6C322.0 997.6 319.7 1018.8 318.0 1029.6C316.3 1040.4 314.2 1046.6 312.0 1054.6C309.8 1062.6 310.0 1071.8 305.0 1077.6C300.0 1083.4 284.2 1086.8 282.0 1089.6Z" fill="#5e0c5e" fill-opacity="0.3"/>
<path d="M481.6 1077.6C479.9 1085.4 474.8 1082.9 470.6 1084.6C466.4 1086.3 460.9 1087.4 456.6 1087.6C452.3 1087.8 447.3 1087.3 444.6 1085.6C441.9 1083.9 439.9 1080.3 440.6 1077.6C441.3 1074.9 445.9 1072.3 448.6 1069.6C451.3 1066.9 453.8 1064.9 456.6 1061.6C459.4 1058.3 462.6 1053.3 465.6 1049.6C468.6 1045.9 472.1 1041.6 474.6 1039.6C477.1 1037.6 479.4 1031.3 480.6 1037.6C481.8 1043.9 483.3 1069.8 481.6 1077.6Z" fill="#0b6666" fill-opacity="0.5"/>
<path d="M550.6 1103.6C545.6 1106.3 527.6 1104.8 520.6 1104.6C513.6 1104.4 509.6 1103.8 508.6 1102.6C507.6 1101.4 510.9 1099.6 514.6 1097.6C518.3 1095.6 524.6 1092.1 530.6 1090.6C536.6 1089.1 547.3 1086.4 550.6 1088.6C553.9 1090.8 555.6 1100.9 550.6 1103.6Z" fill="#0b6666" fill-opacity="0.22"/>
<path d="M398.6 1089.6C400.8 1092.4 391.6 1095.1 388.6 1094.6C385.6 1094.1 382.8 1090.8 380.6 1086.6C378.4 1082.4 377.3 1075.8 375.6 1069.6C373.9 1063.4 371.8 1056.3 370.6 1049.6C369.4 1042.9 369.3 1037.9 368.6 1029.6C367.9 1021.3 367.6 1007.6 366.6 999.6C365.6 991.6 363.9 983.3 362.6 981.6C361.3 979.9 358.6 981.6 358.6 989.6C358.6 997.6 360.9 1018.8 362.6 1029.6C364.3 1040.4 366.4 1046.6 368.6 1054.6C370.8 1062.6 370.6 1071.8 375.6 1077.6C380.6 1083.4 396.4 1086.8 398.6 1089.6Z" fill="#0b6666" fill-opacity="0.3"/>
<path d="M133.9 701.1C136.0 701.9 142.8 704.0 146.7 705.9C150.6 707.8 153.8 709.8 157.3 712.3C160.9 714.8 164.4 717.5 168.0 720.9C171.6 724.3 176.9 730.6 178.7 732.6" fill="none" stroke="#f00cf0" stroke-width="6" stroke-linecap="round" stroke-linejoin="round"/>
<path d="M266.0 712.0C267.1 713.0 270.7 715.4 272.7 717.7C274.7 720.0 276.0 723.9 278.1 726.0C280.2 728.1 282.8 729.2 285.5 730.5C288.2 731.8 291.8 731.9 294.1 734.0C296.4 736.1 297.7 740.3 299.3 743.3C300.9 746.3 302.4 748.1 303.6 751.8C304.9 755.5 305.9 760.7 306.8 765.7C307.7 770.7 308.2 776.8 308.9 781.7C309.6 786.6 310.3 790.3 311.1 795.0C311.9 799.7 313.1 807.5 313.5 810.0" fill="none" stroke="#f00cf0" stroke-width="6" stroke-linecap="round" stroke-linejoin="round"/>
<path d="M226.0 729.5C226.8 729.4 229.3 729.4 231.0 729.0C232.7 728.6 234.4 728.5 236.4 727.3C238.4 726.1 240.3 723.2 242.8 722.0C245.3 720.8 248.5 720.0 251.3 719.8C254.2 719.6 257.4 721.2 259.9 720.9C262.4 720.5 264.5 719.5 266.3 717.7C268.1 715.9 269.1 712.3 270.5 710.2C271.9 708.1 273.2 706.4 274.8 704.9C276.4 703.4 279.1 701.6 280.0 701.0" fill="none" stroke="#12e2e2" stroke-width="6" stroke-linecap="round" stroke-linejoin="round"/>
<circle cx="318.0" cy="828.0" r="3.9" fill="#12e2e2"/>
<circle cx="319.3" cy="836.3" r="3.9" fill="#12e2e2"/>
<circle cx="320.0" cy="845.7" r="3.9" fill="#12e2e2"/>
<circle cx="320.7" cy="855.0" r="3.9" fill="#12e2e2"/>
<circle cx="322.7" cy="864.3" r="3.9" fill="#12e2e2"/>
<circle cx="324.7" cy="872.0" r="3.9" fill="#12e2e2"/>
<circle cx="328.7" cy="879.0" r="3.9" fill="#12e2e2"/>
<circle cx="334.0" cy="882.5" r="3.9" fill="#12e2e2"/>
<circle cx="338.5" cy="887.0" r="3.9" fill="#12e2e2"/>
<circle cx="340.3" cy="892.0" r="3.9" fill="#12e2e2"/>
<circle cx="330.8" cy="781.0" r="3.9" fill="#12e2e2"/>
<circle cx="331.3" cy="790.0" r="3.9" fill="#12e2e2"/>
<circle cx="331.8" cy="799.0" r="3.9" fill="#12e2e2"/>
<circle cx="332.5" cy="808.0" r="3.9" fill="#12e2e2"/>
<circle cx="333.3" cy="817.0" r="3.9" fill="#12e2e2"/>
<circle cx="334.5" cy="826.0" r="3.9" fill="#12e2e2"/>
<circle cx="335.3" cy="835.0" r="3.9" fill="#12e2e2"/>
<circle cx="336.0" cy="844.3" r="3.9" fill="#12e2e2"/>
<circle cx="336.8" cy="853.0" r="3.9" fill="#12e2e2"/>
<circle cx="337.3" cy="861.0" r="3.9" fill="#12e2e2"/>
<circle cx="338.3" cy="869.0" r="3.9" fill="#12e2e2"/>
<circle cx="339.3" cy="876.0" r="3.9" fill="#12e2e2"/>
<circle cx="340.2" cy="884.0" r="3.9" fill="#12e2e2"/>
<path d="M546.7 701.1C544.6 701.9 537.8 704.0 533.9 705.9C530.0 707.8 526.8 709.8 523.3 712.3C519.8 714.8 516.2 717.5 512.6 720.9C509.0 724.3 503.7 730.6 501.9 732.6" fill="none" stroke="#12e2e2" stroke-width="6" stroke-linecap="round" stroke-linejoin="round"/>
<path d="M414.6 712.0C413.5 713.0 409.9 715.4 407.9 717.7C405.9 720.0 404.6 723.9 402.5 726.0C400.4 728.1 397.8 729.2 395.1 730.5C392.4 731.8 388.8 731.9 386.5 734.0C384.2 736.1 382.9 740.3 381.3 743.3C379.7 746.3 378.2 748.1 377.0 751.8C375.8 755.5 374.7 760.7 373.8 765.7C372.9 770.7 372.4 776.8 371.7 781.7C371.0 786.6 370.3 790.3 369.5 795.0C368.7 799.7 367.5 807.5 367.1 810.0" fill="none" stroke="#12e2e2" stroke-width="6" stroke-linecap="round" stroke-linejoin="round"/>
<path d="M454.6 729.5C453.8 729.4 451.3 729.4 449.6 729.0C447.9 728.6 446.2 728.5 444.2 727.3C442.2 726.1 440.3 723.2 437.8 722.0C435.3 720.8 432.1 720.0 429.3 719.8C426.5 719.6 423.2 721.2 420.7 720.9C418.2 720.5 416.1 719.5 414.3 717.7C412.5 715.9 411.5 712.3 410.1 710.2C408.7 708.1 407.4 706.4 405.8 704.9C404.2 703.4 401.5 701.6 400.6 701.0" fill="none" stroke="#f00cf0" stroke-width="6" stroke-linecap="round" stroke-linejoin="round"/>
<circle cx="362.6" cy="828.0" r="3.9" fill="#f00cf0"/>
<circle cx="361.3" cy="836.3" r="3.9" fill="#f00cf0"/>
<circle cx="360.6" cy="845.7" r="3.9" fill="#f00cf0"/>
<circle cx="359.9" cy="855.0" r="3.9" fill="#f00cf0"/>
<circle cx="357.9" cy="864.3" r="3.9" fill="#f00cf0"/>
<circle cx="355.9" cy="872.0" r="3.9" fill="#f00cf0"/>
<circle cx="351.9" cy="879.0" r="3.9" fill="#f00cf0"/>
<circle cx="346.6" cy="882.5" r="3.9" fill="#f00cf0"/>
<circle cx="342.1" cy="887.0" r="3.9" fill="#f00cf0"/>
<circle cx="340.3" cy="892.0" r="3.9" fill="#f00cf0"/>
<circle cx="349.8" cy="781.0" r="3.9" fill="#f00cf0"/>
<circle cx="349.3" cy="790.0" r="3.9" fill="#f00cf0"/>
<circle cx="348.8" cy="799.0" r="3.9" fill="#f00cf0"/>
<circle cx="348.1" cy="808.0" r="3.9" fill="#f00cf0"/>
<circle cx="347.3" cy="817.0" r="3.9" fill="#f00cf0"/>
<circle cx="346.1" cy="826.0" r="3.9" fill="#f00cf0"/>
<circle cx="345.3" cy="835.0" r="3.9" fill="#f00cf0"/>
<circle cx="344.6" cy="844.3" r="3.9" fill="#f00cf0"/>
<circle cx="343.8" cy="853.0" r="3.9" fill="#f00cf0"/>
<circle cx="343.3" cy="861.0" r="3.9" fill="#f00cf0"/>
<circle cx="342.3" cy="869.0" r="3.9" fill="#f00cf0"/>
<circle cx="341.3" cy="876.0" r="3.9" fill="#f00cf0"/>
<circle cx="340.4" cy="884.0" r="3.9" fill="#f00cf0"/>
<path d="M133.9 1088.5C136.0 1087.7 142.8 1085.6 146.7 1083.7C150.6 1081.8 153.8 1079.8 157.3 1077.3C160.9 1074.8 164.4 1072.1 168.0 1068.7C171.6 1065.3 176.9 1059.0 178.7 1057.0" fill="none" stroke="#12e2e2" stroke-width="6" stroke-linecap="round" stroke-linejoin="round"/>
<path d="M266.0 1077.6C267.1 1076.6 270.7 1074.2 272.7 1071.9C274.7 1069.6 276.0 1065.7 278.1 1063.6C280.2 1061.5 282.8 1060.4 285.5 1059.1C288.2 1057.8 291.8 1057.7 294.1 1055.6C296.4 1053.5 297.7 1049.3 299.3 1046.3C300.9 1043.3 302.4 1041.5 303.6 1037.8C304.9 1034.1 305.9 1028.9 306.8 1023.9C307.7 1018.9 308.2 1012.8 308.9 1007.9C309.6 1003.0 310.3 999.3 311.1 994.6C311.9 989.9 313.1 982.1 313.5 979.6" fill="none" stroke="#12e2e2" stroke-width="6" stroke-linecap="round" stroke-linejoin="round"/>
<path d="M226.0 1060.1C226.8 1060.2 229.3 1060.2 231.0 1060.6C232.7 1061.0 234.4 1061.1 236.4 1062.3C238.4 1063.5 240.3 1066.3 242.8 1067.6C245.3 1068.8 248.5 1069.6 251.3 1069.8C254.2 1070.0 257.4 1068.3 259.9 1068.7C262.4 1069.0 264.5 1070.1 266.3 1071.9C268.1 1073.7 269.1 1077.3 270.5 1079.4C271.9 1081.5 273.2 1083.2 274.8 1084.7C276.4 1086.2 279.1 1087.9 280.0 1088.6" fill="none" stroke="#f00cf0" stroke-width="6" stroke-linecap="round" stroke-linejoin="round"/>
<circle cx="318.0" cy="961.6" r="3.9" fill="#f00cf0"/>
<circle cx="319.3" cy="953.3" r="3.9" fill="#f00cf0"/>
<circle cx="320.0" cy="943.9" r="3.9" fill="#f00cf0"/>
<circle cx="320.7" cy="934.6" r="3.9" fill="#f00cf0"/>
<circle cx="322.7" cy="925.3" r="3.9" fill="#f00cf0"/>
<circle cx="324.7" cy="917.6" r="3.9" fill="#f00cf0"/>
<circle cx="328.7" cy="910.6" r="3.9" fill="#f00cf0"/>
<circle cx="334.0" cy="907.1" r="3.9" fill="#f00cf0"/>
<circle cx="338.5" cy="902.6" r="3.9" fill="#f00cf0"/>
<circle cx="340.3" cy="897.6" r="3.9" fill="#f00cf0"/>
<circle cx="330.8" cy="1008.6" r="3.9" fill="#f00cf0"/>
<circle cx="331.3" cy="999.6" r="3.9" fill="#f00cf0"/>
<circle cx="331.8" cy="990.6" r="3.9" fill="#f00cf0"/>
<circle cx="332.5" cy="981.6" r="3.9" fill="#f00cf0"/>
<circle cx="333.3" cy="972.6" r="3.9" fill="#f00cf0"/>
<circle cx="334.5" cy="963.6" r="3.9" fill="#f00cf0"/>
<circle cx="335.3" cy="954.6" r="3.9" fill="#f00cf0"/>
<circle cx="336.0" cy="945.3" r="3.9" fill="#f00cf0"/>
<circle cx="336.8" cy="936.6" r="3.9" fill="#f00cf0"/>
<circle cx="337.3" cy="928.6" r="3.9" fill="#f00cf0"/>
<circle cx="338.3" cy="920.6" r="3.9" fill="#f00cf0"/>
<circle cx="339.3" cy="913.6" r="3.9" fill="#f00cf0"/>
<circle cx="340.2" cy="905.6" r="3.9" fill="#f00cf0"/>
<path d="M546.7 1088.5C544.6 1087.7 537.8 1085.6 533.9 1083.7C530.0 1081.8 526.8 1079.8 523.3 1077.3C519.8 1074.8 516.2 1072.1 512.6 1068.7C509.0 1065.3 503.7 1059.0 501.9 1057.0" fill="none" stroke="#f00cf0" stroke-width="6" stroke-linecap="round" stroke-linejoin="round"/>
<path d="M414.6 1077.6C413.5 1076.6 409.9 1074.2 407.9 1071.9C405.9 1069.6 404.6 1065.7 402.5 1063.6C400.4 1061.5 397.8 1060.4 395.1 1059.1C392.4 1057.8 388.8 1057.7 386.5 1055.6C384.2 1053.5 382.9 1049.3 381.3 1046.3C379.7 1043.3 378.2 1041.5 377.0 1037.8C375.8 1034.1 374.7 1028.9 373.8 1023.9C372.9 1018.9 372.4 1012.8 371.7 1007.9C371.0 1003.0 370.3 999.3 369.5 994.6C368.7 989.9 367.5 982.1 367.1 979.6" fill="none" stroke="#f00cf0" stroke-width="6" stroke-linecap="round" stroke-linejoin="round"/>
<path d="M454.6 1060.1C453.8 1060.2 451.3 1060.2 449.6 1060.6C447.9 1061.0 446.2 1061.1 444.2 1062.3C442.2 1063.5 440.3 1066.3 437.8 1067.6C435.3 1068.8 432.1 1069.6 429.3 1069.8C426.5 1070.0 423.2 1068.3 420.7 1068.7C418.2 1069.0 416.1 1070.1 414.3 1071.9C412.5 1073.7 411.5 1077.3 410.1 1079.4C408.7 1081.5 407.4 1083.2 405.8 1084.7C404.2 1086.2 401.5 1087.9 400.6 1088.6" fill="none" stroke="#12e2e2" stroke-width="6" stroke-linecap="round" stroke-linejoin="round"/>
<circle cx="362.6" cy="961.6" r="3.9" fill="#12e2e2"/>
<circle cx="361.3" cy="953.3" r="3.9" fill="#12e2e2"/>
<circle cx="360.6" cy="943.9" r="3.9" fill="#12e2e2"/>
<circle cx="359.9" cy="934.6" r="3.9" fill="#12e2e2"/>
<circle cx="357.9" cy="925.3" r="3.9" fill="#12e2e2"/>
<circle cx="355.9" cy="917.6" r="3.9" fill="#12e2e2"/>
<circle cx="351.9" cy="910.6" r="3.9" fill="#12e2e2"/>
<circle cx="346.6" cy="907.1" r="3.9" fill="#12e2e2"/>
<circle cx="342.1" cy="902.6" r="3.9" fill="#12e2e2"/>
<circle cx="340.3" cy="897.6" r="3.9" fill="#12e2e2"/>
<circle cx="349.8" cy="1008.6" r="3.9" fill="#12e2e2"/>
<circle cx="349.3" cy="999.6" r="3.9" fill="#12e2e2"/>
<circle cx="348.8" cy="990.6" r="3.9" fill="#12e2e2"/>
<circle cx="348.1" cy="981.6" r="3.9" fill="#12e2e2"/>
<circle cx="347.3" cy="972.6" r="3.9" fill="#12e2e2"/>
<circle cx="346.1" cy="963.6" r="3.9" fill="#12e2e2"/>
<circle cx="345.3" cy="954.6" r="3.9" fill="#12e2e2"/>
<circle cx="344.6" cy="945.3" r="3.9" fill="#12e2e2"/>
<circle cx="343.8" cy="936.6" r="3.9" fill="#12e2e2"/>
<circle cx="343.3" cy="928.6" r="3.9" fill="#12e2e2"/>
<circle cx="342.3" cy="920.6" r="3.9" fill="#12e2e2"/>
<circle cx="341.3" cy="913.6" r="3.9" fill="#12e2e2"/>
<circle cx="340.4" cy="905.6" r="3.9" fill="#12e2e2"/>
<path d="M284.0 702.0C285.2 703.8 288.7 709.0 291.0 713.0C293.3 717.0 295.5 721.5 298.0 726.0C300.5 730.5 303.3 735.5 306.0 740.0C308.7 744.5 311.3 749.2 314.0 753.0C316.7 756.8 319.5 760.2 322.0 763.0C324.5 765.8 326.7 768.2 329.0 770.0C331.3 771.8 333.8 773.0 336.0 774.0C338.2 775.0 341.0 775.7 342.0 776.0" fill="none" stroke="#f00cf0" stroke-width="3" stroke-opacity="0.75" stroke-linecap="round"/>
<path d="M396.6 702.0C395.4 703.8 391.9 709.0 389.6 713.0C387.3 717.0 385.1 721.5 382.6 726.0C380.1 730.5 377.3 735.5 374.6 740.0C371.9 744.5 369.3 749.2 366.6 753.0C363.9 756.8 361.1 760.2 358.6 763.0C356.1 765.8 353.9 768.2 351.6 770.0C349.3 771.8 346.8 773.0 344.6 774.0C342.4 775.0 339.6 775.7 338.6 776.0" fill="none" stroke="#12e2e2" stroke-width="3" stroke-opacity="0.75" stroke-linecap="round"/>
<path d="M284.0 1087.6C285.2 1085.8 288.7 1080.6 291.0 1076.6C293.3 1072.6 295.5 1068.1 298.0 1063.6C300.5 1059.1 303.3 1054.1 306.0 1049.6C308.7 1045.1 311.3 1040.4 314.0 1036.6C316.7 1032.8 319.5 1029.4 322.0 1026.6C324.5 1023.8 326.7 1021.4 329.0 1019.6C331.3 1017.8 333.8 1016.6 336.0 1015.6C338.2 1014.6 341.0 1013.9 342.0 1013.6" fill="none" stroke="#12e2e2" stroke-width="3" stroke-opacity="0.75" stroke-linecap="round"/>
<path d="M396.6 1087.6C395.4 1085.8 391.9 1080.6 389.6 1076.6C387.3 1072.6 385.1 1068.1 382.6 1063.6C380.1 1059.1 377.3 1054.1 374.6 1049.6C371.9 1045.1 369.3 1040.4 366.6 1036.6C363.9 1032.8 361.1 1029.4 358.6 1026.6C356.1 1023.8 353.9 1021.4 351.6 1019.6C349.3 1017.8 346.8 1016.6 344.6 1015.6C342.4 1014.6 339.6 1013.9 338.6 1013.6" fill="none" stroke="#f00cf0" stroke-width="3" stroke-opacity="0.75" stroke-linecap="round"/>
<path d="M124.0 707.5C124.4 707.8 124.4 707.4 126.4 709.1C128.4 710.8 133.0 714.0 136.0 717.7C139.0 721.4 141.8 726.5 144.5 731.5C147.2 736.5 149.7 742.2 152.0 747.5C154.3 752.8 156.3 757.8 158.4 763.5C160.5 769.2 163.2 776.5 164.8 781.7C166.4 787.0 166.8 791.0 168.0 795.0C169.2 799.0 170.6 802.5 172.0 806.0C173.4 809.5 175.1 813.6 176.5 816.0C177.9 818.4 179.2 820.5 180.6 820.5C182.0 820.5 183.5 818.3 185.0 816.0C186.5 813.7 188.2 810.0 189.5 806.5C190.8 803.0 190.8 799.9 192.5 795.0C194.2 790.1 197.0 783.2 200.0 777.4C203.0 771.6 207.1 766.0 210.7 760.3C214.2 754.6 218.3 747.9 221.3 743.3C224.3 738.7 226.1 736.2 228.8 732.6C231.5 729.0 234.8 724.4 237.3 721.9C239.8 719.4 241.6 719.7 243.9 717.7C246.2 715.8 249.0 712.3 251.3 710.2C253.6 708.1 256.6 705.8 257.7 704.9" fill="none" stroke="#f00cf0" stroke-width="6.3" stroke-linecap="round" stroke-linejoin="round"/>
<path d="M557.0 715.0C556.8 715.1 557.1 715.8 555.7 715.5C554.3 715.2 551.0 712.7 548.8 713.4C546.6 714.1 544.5 716.9 542.4 719.8C540.3 722.6 538.1 726.6 536.0 730.5C533.9 734.4 531.7 738.7 529.6 743.3C527.5 747.9 525.3 753.2 523.2 758.2C521.1 763.2 518.8 768.3 516.8 773.1C514.8 777.9 513.1 782.9 511.5 787.0C509.9 791.1 508.6 794.8 507.0 798.0C505.4 801.2 503.6 804.2 502.0 806.0C500.4 807.8 499.0 808.7 497.5 808.5C496.0 808.3 494.4 807.2 493.0 805.0C491.6 802.8 490.8 798.9 489.1 795.0C487.4 791.1 485.0 786.1 482.7 781.7C480.4 777.4 477.7 773.2 475.2 768.9C472.7 764.6 470.0 760.2 467.7 756.1C465.4 752.0 463.2 747.5 461.3 744.3C459.4 741.1 457.7 738.8 456.0 736.9C454.3 735.0 453.2 734.6 450.9 732.6C448.6 730.6 444.9 727.1 442.4 725.1C439.9 723.1 438.1 721.4 436.0 720.9C433.9 720.4 430.7 721.7 429.6 721.9" fill="none" stroke="#12e2e2" stroke-width="6.3" stroke-linecap="round" stroke-linejoin="round"/>
<path d="M123.0 1073.0C123.8 1073.3 125.7 1075.0 127.5 1075.0C129.3 1075.0 131.6 1074.9 133.9 1072.9C136.2 1071.0 138.6 1067.4 141.3 1063.3C144.0 1059.2 147.2 1053.5 149.9 1048.3C152.6 1043.1 154.8 1038.5 157.3 1032.3C159.8 1026.1 162.7 1016.4 164.8 1011.0C166.9 1005.6 168.2 1003.8 170.1 1000.0C172.0 996.2 173.9 991.2 176.0 988.0C178.1 984.8 180.3 980.8 182.4 980.8C184.5 980.8 186.1 983.3 188.5 988.0C190.9 992.7 194.0 1002.9 196.8 1008.9C199.6 1014.9 202.5 1019.0 205.3 1023.8C208.2 1028.6 211.2 1033.1 213.9 1037.7C216.6 1042.3 219.0 1048.1 221.3 1051.5C223.7 1054.9 225.6 1056.2 228.0 1058.0C230.4 1059.8 233.2 1060.3 236.0 1062.0C238.8 1063.7 241.6 1066.0 245.1 1068.0C248.6 1070.0 253.4 1072.3 256.9 1073.8C260.4 1075.3 264.5 1076.5 266.0 1077.0" fill="none" stroke="#12e2e2" stroke-width="6.3" stroke-linecap="round" stroke-linejoin="round"/>
<path d="M557.0 1079.0C556.6 1078.8 556.9 1080.4 554.9 1077.7C552.9 1075.0 548.4 1068.2 545.0 1063.0C541.6 1057.8 537.9 1052.7 534.6 1046.4C531.3 1040.1 528.3 1032.8 525.0 1025.0C521.7 1017.2 518.0 1006.8 515.0 999.5C512.0 992.2 509.6 986.2 507.0 981.0C504.4 975.8 501.7 970.0 499.4 968.5C497.1 967.0 495.0 970.1 493.0 972.0C491.0 973.9 489.8 976.2 487.6 980.0C485.4 983.8 482.6 989.8 480.0 995.0C477.4 1000.2 474.7 1005.9 472.0 1011.2C469.3 1016.5 466.6 1021.8 464.0 1027.0C461.4 1032.2 459.0 1038.0 456.3 1042.5C453.6 1047.0 450.6 1050.8 448.0 1054.0C445.4 1057.2 443.2 1059.8 440.7 1062.0C438.2 1064.2 435.6 1065.7 433.0 1067.0C430.4 1068.3 428.0 1068.7 425.0 1070.0C422.0 1071.3 416.7 1074.2 415.0 1075.0" fill="none" stroke="#f00cf0" stroke-width="6.3" stroke-linecap="round" stroke-linejoin="round"/>
</g>
<rect x="210.5" y="611.6" width="330.3" height="12.8" fill="url(#cbC)" stroke="#333" stroke-width="0.6"/>
<path d="M227.0 624.4v-2.5M243.5 624.4v-2.5M260.0 624.4v-2.5M276.6 624.4v-2.5M293.1 624.4v-2.5M309.6 624.4v-2.5M326.1 624.4v-2.5M342.6 624.4v-2.5M359.1 624.4v-2.5M375.6 624.4v-2.5M392.2 624.4v-2.5M408.7 624.4v-2.5M425.2 624.4v-2.5M441.7 624.4v-2.5M458.2 624.4v-2.5M474.7 624.4v-2.5M491.3 624.4v-2.5M507.8 624.4v-2.5M524.3 624.4v-2.5" stroke="#333" stroke-width="0.8"/>
<clipPath id="clipD"><rect x="680.6" y="683" width="430.1" height="429.4"/></clipPath><g clip-path="url(#clipD)">
<path d="M680.0 683.0L844.0 683.0L850.0 686.0L858.0 686.0L863.8 691.0L870.2 702.7L875.5 715.5L879.8 725.1L882.0 726.2L885.5 727.0L888.3 730.5L891.5 741.1L894.7 760.3L897.0 760.3L897.0 842.0L895.3 842.5L892.6 837.1L888.3 824.3L883.0 803.0L877.7 787.0L872.3 771.0L867.0 755.0L860.6 747.5L854.2 739.0L847.8 728.0L840.0 719.5L830.0 716.5L815.0 716.5L800.0 719.0L790.0 722.0L780.0 726.0L775.0 728.0L765.0 734.0L755.0 739.0L745.0 743.0L738.0 746.0L732.0 749.0L726.0 747.0L723.0 740.0L722.0 728.0L718.0 716.0L708.0 708.0L695.0 705.0L680.0 703.5Z" fill="#030606"/>
<path d="M1111.3 683.0L947.3 683.0L941.3 686.0L933.3 686.0L927.5 691.0L921.1 702.7L915.8 715.5L911.5 725.1L909.3 726.2L905.8 727.0L903.0 730.5L899.8 741.1L896.6 760.3L894.3 760.3L894.3 842.0L896.0 842.5L898.7 837.1L903.0 824.3L908.3 803.0L913.6 787.0L919.0 771.0L924.3 755.0L930.7 747.5L937.1 739.0L943.5 728.0L951.3 719.5L961.3 716.5L976.3 716.5L991.3 719.0L1001.3 722.0L1011.3 726.0L1016.3 728.0L1026.3 734.0L1036.3 739.0L1046.3 743.0L1053.3 746.0L1059.3 749.0L1065.3 747.0L1068.3 740.0L1069.3 728.0L1073.3 716.0L1083.3 708.0L1096.3 705.0L1111.3 703.5Z" fill="#030606"/>
<path d="M680.0 1113.0L844.0 1113.0L850.0 1110.0L858.0 1110.0L863.8 1105.0L870.2 1093.3L875.5 1080.5L879.8 1070.9L882.0 1069.8L885.5 1069.0L888.3 1065.5L891.5 1054.9L894.7 1035.7L897.0 1035.7L897.0 954.0L895.3 953.5L892.6 958.9L888.3 971.7L883.0 993.0L877.7 1009.0L872.3 1025.0L867.0 1041.0L860.6 1048.5L854.2 1057.0L847.8 1068.0L840.0 1076.5L830.0 1079.5L815.0 1079.5L800.0 1077.0L790.0 1074.0L780.0 1070.0L775.0 1068.0L765.0 1062.0L755.0 1057.0L745.0 1053.0L738.0 1050.0L732.0 1047.0L726.0 1049.0L723.0 1056.0L722.0 1068.0L718.0 1080.0L708.0 1088.0L695.0 1091.0L680.0 1092.5Z" fill="#030606"/>
<path d="M1111.3 1113.0L947.3 1113.0L941.3 1110.0L933.3 1110.0L927.5 1105.0L921.1 1093.3L915.8 1080.5L911.5 1070.9L909.3 1069.8L905.8 1069.0L903.0 1065.5L899.8 1054.9L896.6 1035.7L894.3 1035.7L894.3 954.0L896.0 953.5L898.7 958.9L903.0 971.7L908.3 993.0L913.6 1009.0L919.0 1025.0L924.3 1041.0L930.7 1048.5L937.1 1057.0L943.5 1068.0L951.3 1076.5L961.3 1079.5L976.3 1079.5L991.3 1077.0L1001.3 1074.0L1011.3 1070.0L1016.3 1068.0L1026.3 1062.0L1036.3 1057.0L1046.3 1053.0L1053.3 1050.0L1059.3 1047.0L1065.3 1049.0L1068.3 1056.0L1069.3 1068.0L1073.3 1080.0L1083.3 1088.0L1096.3 1091.0L1111.3 1092.5Z" fill="#030606"/>
<path d="M742.0 704.0C745.2 700.2 752.0 698.5 760.0 697.0C768.0 695.5 780.8 695.0 790.0 695.0C799.2 695.0 808.3 695.8 815.0 697.0C821.7 698.2 829.2 700.2 830.0 702.0C830.8 703.8 825.0 707.0 820.0 708.0C815.0 709.0 806.7 707.2 800.0 708.0C793.3 708.8 786.3 710.7 780.0 713.0C773.7 715.3 767.3 719.2 762.0 722.0C756.7 724.8 751.5 730.3 748.0 730.0C744.5 729.7 742.0 724.3 741.0 720.0C740.0 715.7 738.8 707.8 742.0 704.0Z" fill="#0a6a6a" fill-opacity="0.32"/>
<path d="M852.0 700.0C853.2 695.5 858.7 696.0 862.0 698.0C865.3 700.0 869.0 705.0 872.0 712.0C875.0 719.0 877.7 730.3 880.0 740.0C882.3 749.7 884.3 760.0 886.0 770.0C887.7 780.0 889.0 790.8 890.0 800.0C891.0 809.2 892.5 821.7 892.0 825.0C891.5 828.3 889.0 825.0 887.0 820.0C885.0 815.0 882.5 803.3 880.0 795.0C877.5 786.7 875.0 778.3 872.0 770.0C869.0 761.7 864.8 752.5 862.0 745.0C859.2 737.5 856.7 732.5 855.0 725.0C853.3 717.5 850.8 704.5 852.0 700.0Z" fill="#0a6a6a" fill-opacity="0.4"/>
<path d="M684.0 688.0C686.3 685.8 694.3 686.0 700.0 686.0C705.7 686.0 715.7 686.3 718.0 688.0C720.3 689.7 717.0 694.0 714.0 696.0C711.0 698.0 704.7 699.5 700.0 700.0C695.3 700.5 688.7 701.0 686.0 699.0C683.3 697.0 681.7 690.2 684.0 688.0Z" fill="#0a6a6a" fill-opacity="0.3"/>
<path d="M1049.3 704.0C1046.1 700.2 1039.3 698.5 1031.3 697.0C1023.3 695.5 1010.5 695.0 1001.3 695.0C992.1 695.0 983.0 695.8 976.3 697.0C969.6 698.2 962.1 700.2 961.3 702.0C960.5 703.8 966.3 707.0 971.3 708.0C976.3 709.0 984.6 707.2 991.3 708.0C998.0 708.8 1005.0 710.7 1011.3 713.0C1017.6 715.3 1024.0 719.2 1029.3 722.0C1034.6 724.8 1039.8 730.3 1043.3 730.0C1046.8 729.7 1049.3 724.3 1050.3 720.0C1051.3 715.7 1052.5 707.8 1049.3 704.0Z" fill="#5a0a5a" fill-opacity="0.32"/>
<path d="M939.3 700.0C938.1 695.5 932.6 696.0 929.3 698.0C926.0 700.0 922.3 705.0 919.3 712.0C916.3 719.0 913.6 730.3 911.3 740.0C909.0 749.7 907.0 760.0 905.3 770.0C903.6 780.0 902.3 790.8 901.3 800.0C900.3 809.2 898.8 821.7 899.3 825.0C899.8 828.3 902.3 825.0 904.3 820.0C906.3 815.0 908.8 803.3 911.3 795.0C913.8 786.7 916.3 778.3 919.3 770.0C922.3 761.7 926.5 752.5 929.3 745.0C932.1 737.5 934.6 732.5 936.3 725.0C938.0 717.5 940.5 704.5 939.3 700.0Z" fill="#5a0a5a" fill-opacity="0.4"/>
<path d="M1107.3 688.0C1105.0 685.8 1097.0 686.0 1091.3 686.0C1085.6 686.0 1075.6 686.3 1073.3 688.0C1071.0 689.7 1074.3 694.0 1077.3 696.0C1080.3 698.0 1086.6 699.5 1091.3 700.0C1096.0 700.5 1102.6 701.0 1105.3 699.0C1108.0 697.0 1109.6 690.2 1107.3 688.0Z" fill="#5a0a5a" fill-opacity="0.3"/>
<path d="M742.0 1092.0C745.2 1095.8 752.0 1097.5 760.0 1099.0C768.0 1100.5 780.8 1101.0 790.0 1101.0C799.2 1101.0 808.3 1100.2 815.0 1099.0C821.7 1097.8 829.2 1095.8 830.0 1094.0C830.8 1092.2 825.0 1089.0 820.0 1088.0C815.0 1087.0 806.7 1088.8 800.0 1088.0C793.3 1087.2 786.3 1085.3 780.0 1083.0C773.7 1080.7 767.3 1076.8 762.0 1074.0C756.7 1071.2 751.5 1065.7 748.0 1066.0C744.5 1066.3 742.0 1071.7 741.0 1076.0C740.0 1080.3 738.8 1088.2 742.0 1092.0Z" fill="#5a0a5a" fill-opacity="0.32"/>
<path d="M852.0 1096.0C853.2 1100.5 858.7 1100.0 862.0 1098.0C865.3 1096.0 869.0 1091.0 872.0 1084.0C875.0 1077.0 877.7 1065.7 880.0 1056.0C882.3 1046.3 884.3 1036.0 886.0 1026.0C887.7 1016.0 889.0 1005.2 890.0 996.0C891.0 986.8 892.5 974.3 892.0 971.0C891.5 967.7 889.0 971.0 887.0 976.0C885.0 981.0 882.5 992.7 880.0 1001.0C877.5 1009.3 875.0 1017.7 872.0 1026.0C869.0 1034.3 864.8 1043.5 862.0 1051.0C859.2 1058.5 856.7 1063.5 855.0 1071.0C853.3 1078.5 850.8 1091.5 852.0 1096.0Z" fill="#5a0a5a" fill-opacity="0.4"/>
<path d="M684.0 1108.0C686.3 1110.2 694.3 1110.0 700.0 1110.0C705.7 1110.0 715.7 1109.7 718.0 1108.0C720.3 1106.3 717.0 1102.0 714.0 1100.0C711.0 1098.0 704.7 1096.5 700.0 1096.0C695.3 1095.5 688.7 1095.0 686.0 1097.0C683.3 1099.0 681.7 1105.8 684.0 1108.0Z" fill="#5a0a5a" fill-opacity="0.3"/>
<path d="M1049.3 1092.0C1046.1 1095.8 1039.3 1097.5 1031.3 1099.0C1023.3 1100.5 1010.5 1101.0 1001.3 1101.0C992.1 1101.0 983.0 1100.2 976.3 1099.0C969.6 1097.8 962.1 1095.8 961.3 1094.0C960.5 1092.2 966.3 1089.0 971.3 1088.0C976.3 1087.0 984.6 1088.8 991.3 1088.0C998.0 1087.2 1005.0 1085.3 1011.3 1083.0C1017.6 1080.7 1024.0 1076.8 1029.3 1074.0C1034.6 1071.2 1039.8 1065.7 1043.3 1066.0C1046.8 1066.3 1049.3 1071.7 1050.3 1076.0C1051.3 1080.3 1052.5 1088.2 1049.3 1092.0Z" fill="#0a6a6a" fill-opacity="0.32"/>
<path d="M939.3 1096.0C938.1 1100.5 932.6 1100.0 929.3 1098.0C926.0 1096.0 922.3 1091.0 919.3 1084.0C916.3 1077.0 913.6 1065.7 911.3 1056.0C909.0 1046.3 907.0 1036.0 905.3 1026.0C903.6 1016.0 902.3 1005.2 901.3 996.0C900.3 986.8 898.8 974.3 899.3 971.0C899.8 967.7 902.3 971.0 904.3 976.0C906.3 981.0 908.8 992.7 911.3 1001.0C913.8 1009.3 916.3 1017.7 919.3 1026.0C922.3 1034.3 926.5 1043.5 929.3 1051.0C932.1 1058.5 934.6 1063.5 936.3 1071.0C938.0 1078.5 940.5 1091.5 939.3 1096.0Z" fill="#0a6a6a" fill-opacity="0.4"/>
<path d="M1107.3 1108.0C1105.0 1110.2 1097.0 1110.0 1091.3 1110.0C1085.6 1110.0 1075.6 1109.7 1073.3 1108.0C1071.0 1106.3 1074.3 1102.0 1077.3 1100.0C1080.3 1098.0 1086.6 1096.5 1091.3 1096.0C1096.0 1095.5 1102.6 1095.0 1105.3 1097.0C1108.0 1099.0 1109.6 1105.8 1107.3 1108.0Z" fill="#0a6a6a" fill-opacity="0.3"/>
<path d="M681.0 701.0C683.3 702.3 690.3 706.0 695.0 709.0C699.7 712.0 704.3 715.7 709.0 719.0C713.7 722.3 720.7 727.3 723.0 729.0" fill="none" stroke="#f00cf0" stroke-width="6" stroke-linecap="round" stroke-linejoin="round"/>
<path d="M751.0 735.0C752.7 732.8 757.0 725.2 761.0 722.0C765.0 718.8 770.7 717.7 775.0 716.0C779.3 714.3 783.0 713.5 787.0 712.0C791.0 710.5 795.3 706.7 799.0 707.0C802.7 707.3 805.7 712.8 809.0 714.0C812.3 715.2 814.7 714.7 819.0 714.0C823.3 713.3 832.3 710.7 835.0 710.0" fill="none" stroke="#12e2e2" stroke-width="6" stroke-linecap="round" stroke-linejoin="round"/>
<path d="M857.0 748.0C858.5 749.7 863.2 753.7 866.0 758.0C868.8 762.3 871.7 768.7 874.0 774.0C876.3 779.3 878.2 784.7 880.0 790.0C881.8 795.3 883.5 800.7 885.0 806.0C886.5 811.3 887.7 817.0 889.0 822.0C890.3 827.0 892.3 833.7 893.0 836.0" fill="none" stroke="#12e2e2" stroke-width="6" stroke-linecap="round" stroke-linejoin="round"/>
<circle cx="790.0" cy="724.0" r="3.9" fill="#12e2e2"/>
<circle cx="803.0" cy="726.5" r="3.9" fill="#12e2e2"/>
<circle cx="812.0" cy="717.0" r="3.9" fill="#12e2e2"/>
<circle cx="826.0" cy="715.0" r="3.9" fill="#12e2e2"/>
<path d="M1110.3 701.0C1108.0 702.3 1101.0 706.0 1096.3 709.0C1091.6 712.0 1087.0 715.7 1082.3 719.0C1077.6 722.3 1070.6 727.3 1068.3 729.0" fill="none" stroke="#12e2e2" stroke-width="6" stroke-linecap="round" stroke-linejoin="round"/>
<path d="M1040.3 735.0C1038.6 732.8 1034.3 725.2 1030.3 722.0C1026.3 718.8 1020.6 717.7 1016.3 716.0C1012.0 714.3 1008.3 713.5 1004.3 712.0C1000.3 710.5 996.0 706.7 992.3 707.0C988.6 707.3 985.6 712.8 982.3 714.0C979.0 715.2 976.6 714.7 972.3 714.0C968.0 713.3 959.0 710.7 956.3 710.0" fill="none" stroke="#f00cf0" stroke-width="6" stroke-linecap="round" stroke-linejoin="round"/>
<path d="M934.3 748.0C932.8 749.7 928.1 753.7 925.3 758.0C922.5 762.3 919.6 768.7 917.3 774.0C915.0 779.3 913.1 784.7 911.3 790.0C909.5 795.3 907.8 800.7 906.3 806.0C904.8 811.3 903.6 817.0 902.3 822.0C901.0 827.0 899.0 833.7 898.3 836.0" fill="none" stroke="#f00cf0" stroke-width="6" stroke-linecap="round" stroke-linejoin="round"/>
<circle cx="1001.3" cy="724.0" r="3.9" fill="#f00cf0"/>
<circle cx="988.3" cy="726.5" r="3.9" fill="#f00cf0"/>
<circle cx="979.3" cy="717.0" r="3.9" fill="#f00cf0"/>
<circle cx="965.3" cy="715.0" r="3.9" fill="#f00cf0"/>
<path d="M681.0 1095.0C683.3 1093.7 690.3 1090.0 695.0 1087.0C699.7 1084.0 704.3 1080.3 709.0 1077.0C713.7 1073.7 720.7 1068.7 723.0 1067.0" fill="none" stroke="#12e2e2" stroke-width="6" stroke-linecap="round" stroke-linejoin="round"/>
<path d="M751.0 1061.0C752.7 1063.2 757.0 1070.8 761.0 1074.0C765.0 1077.2 770.7 1078.3 775.0 1080.0C779.3 1081.7 783.0 1082.5 787.0 1084.0C791.0 1085.5 795.3 1089.3 799.0 1089.0C802.7 1088.7 805.7 1083.2 809.0 1082.0C812.3 1080.8 814.7 1081.3 819.0 1082.0C823.3 1082.7 832.3 1085.3 835.0 1086.0" fill="none" stroke="#f00cf0" stroke-width="6" stroke-linecap="round" stroke-linejoin="round"/>
<path d="M857.0 1048.0C858.5 1046.3 863.2 1042.3 866.0 1038.0C868.8 1033.7 871.7 1027.3 874.0 1022.0C876.3 1016.7 878.2 1011.3 880.0 1006.0C881.8 1000.7 883.5 995.3 885.0 990.0C886.5 984.7 887.7 979.0 889.0 974.0C890.3 969.0 892.3 962.3 893.0 960.0" fill="none" stroke="#f00cf0" stroke-width="6" stroke-linecap="round" stroke-linejoin="round"/>
<circle cx="790.0" cy="1072.0" r="3.9" fill="#f00cf0"/>
<circle cx="803.0" cy="1069.5" r="3.9" fill="#f00cf0"/>
<circle cx="812.0" cy="1079.0" r="3.9" fill="#f00cf0"/>
<circle cx="826.0" cy="1081.0" r="3.9" fill="#f00cf0"/>
<path d="M1110.3 1095.0C1108.0 1093.7 1101.0 1090.0 1096.3 1087.0C1091.6 1084.0 1087.0 1080.3 1082.3 1077.0C1077.6 1073.7 1070.6 1068.7 1068.3 1067.0" fill="none" stroke="#f00cf0" stroke-width="6" stroke-linecap="round" stroke-linejoin="round"/>
<path d="M1040.3 1061.0C1038.6 1063.2 1034.3 1070.8 1030.3 1074.0C1026.3 1077.2 1020.6 1078.3 1016.3 1080.0C1012.0 1081.7 1008.3 1082.5 1004.3 1084.0C1000.3 1085.5 996.0 1089.3 992.3 1089.0C988.6 1088.7 985.6 1083.2 982.3 1082.0C979.0 1080.8 976.6 1081.3 972.3 1082.0C968.0 1082.7 959.0 1085.3 956.3 1086.0" fill="none" stroke="#12e2e2" stroke-width="6" stroke-linecap="round" stroke-linejoin="round"/>
<path d="M934.3 1048.0C932.8 1046.3 928.1 1042.3 925.3 1038.0C922.5 1033.7 919.6 1027.3 917.3 1022.0C915.0 1016.7 913.1 1011.3 911.3 1006.0C909.5 1000.7 907.8 995.3 906.3 990.0C904.8 984.7 903.6 979.0 902.3 974.0C901.0 969.0 899.0 962.3 898.3 960.0" fill="none" stroke="#12e2e2" stroke-width="6" stroke-linecap="round" stroke-linejoin="round"/>
<circle cx="1001.3" cy="1072.0" r="3.9" fill="#12e2e2"/>
<circle cx="988.3" cy="1069.5" r="3.9" fill="#12e2e2"/>
<circle cx="979.3" cy="1079.0" r="3.9" fill="#12e2e2"/>
<circle cx="965.3" cy="1081.0" r="3.9" fill="#12e2e2"/>
<path d="M678.0 719.5C678.5 719.8 678.8 719.4 681.0 721.0C683.2 722.6 687.7 724.7 691.0 729.0C694.3 733.3 697.7 740.3 701.0 747.0C704.3 753.7 708.0 762.3 711.0 769.0C714.0 775.7 716.8 782.0 719.0 787.0C721.2 792.0 722.3 797.7 724.0 799.0C725.7 800.3 727.2 798.0 729.0 795.0C730.8 792.0 732.7 784.3 735.0 781.0C737.3 777.7 740.3 777.0 743.0 775.0C745.7 773.0 748.3 771.7 751.0 769.0C753.7 766.3 756.3 762.7 759.0 759.0C761.7 755.3 764.0 751.0 767.0 747.0C770.0 743.0 773.7 738.0 777.0 735.0C780.3 732.0 783.3 731.0 787.0 729.0C790.7 727.0 794.3 724.7 799.0 723.0C803.7 721.3 809.7 719.7 815.0 719.0C820.3 718.3 826.7 718.5 831.0 719.0C835.3 719.5 837.8 720.2 841.0 722.0C844.2 723.8 847.9 726.8 850.5 730.0C853.1 733.2 854.4 737.7 856.5 741.0C858.6 744.3 860.8 746.8 863.0 750.0C865.2 753.2 867.5 755.8 869.5 760.0C871.5 764.2 873.2 770.0 875.0 775.0C876.8 780.0 878.2 784.8 880.0 790.0C881.8 795.2 883.8 800.2 885.5 806.0C887.2 811.8 889.1 819.7 890.5 825.0C891.9 830.3 893.1 835.2 894.0 838.0C894.9 840.8 895.7 841.3 896.0 842.0" fill="none" stroke="#f00cf0" stroke-width="6.3" stroke-linecap="round" stroke-linejoin="round"/>
<path d="M896.0 842.0C896.3 841.0 897.0 840.5 898.0 836.0C899.0 831.5 900.7 821.0 902.0 815.0C903.3 809.0 904.7 804.7 906.0 800.0C907.3 795.3 908.7 791.2 910.0 787.0C911.3 782.8 912.7 779.0 914.0 775.0C915.3 771.0 916.3 767.7 918.0 763.0C919.7 758.3 921.7 750.3 924.0 747.0C926.3 743.7 929.3 745.0 932.0 743.0C934.7 741.0 937.0 738.3 940.0 735.0C943.0 731.7 946.7 725.3 950.0 723.0C953.3 720.7 956.7 720.5 960.0 721.0C963.3 721.5 966.7 725.7 970.0 726.0C973.3 726.3 976.0 722.5 980.0 723.0C984.0 723.5 989.7 727.3 994.0 729.0C998.3 730.7 1002.0 731.0 1006.0 733.0C1010.0 735.0 1014.0 737.3 1018.0 741.0C1022.0 744.7 1026.0 749.7 1030.0 755.0C1034.0 760.3 1038.0 768.7 1042.0 773.0C1046.0 777.3 1051.0 779.0 1054.0 781.0C1057.0 783.0 1058.3 783.8 1060.0 785.0C1061.7 786.2 1062.7 788.2 1064.0 788.0C1065.3 787.8 1066.7 785.5 1068.0 784.0C1069.3 782.5 1069.7 783.2 1072.0 779.0C1074.3 774.8 1078.7 765.3 1082.0 759.0C1085.3 752.7 1088.7 746.3 1092.0 741.0C1095.3 735.7 1099.0 730.3 1102.0 727.0C1105.0 723.7 1108.2 722.2 1110.0 721.0C1111.8 719.8 1112.5 720.2 1113.0 720.0" fill="none" stroke="#12e2e2" stroke-width="6.3" stroke-linecap="round" stroke-linejoin="round"/>
<path d="M678.0 1077.0C678.5 1076.7 678.2 1077.7 681.0 1075.0C683.8 1072.3 691.0 1066.0 695.0 1061.0C699.0 1056.0 701.7 1051.0 705.0 1045.0C708.3 1039.0 712.3 1030.5 715.0 1025.0C717.7 1019.5 719.2 1015.0 721.0 1012.0C722.8 1009.0 724.3 1007.2 726.0 1007.0C727.7 1006.8 729.5 1009.7 731.0 1011.0C732.5 1012.3 733.0 1013.7 735.0 1015.0C737.0 1016.3 740.3 1016.7 743.0 1019.0C745.7 1021.3 748.3 1025.3 751.0 1029.0C753.7 1032.7 756.3 1037.3 759.0 1041.0C761.7 1044.7 764.3 1048.3 767.0 1051.0C769.7 1053.7 771.7 1054.7 775.0 1057.0C778.3 1059.3 783.0 1063.0 787.0 1065.0C791.0 1067.0 795.0 1068.0 799.0 1069.0C803.0 1070.0 807.7 1071.0 811.0 1071.0C814.3 1071.0 815.7 1069.0 819.0 1069.0C822.3 1069.0 827.7 1071.0 831.0 1071.0C834.3 1071.0 836.0 1071.0 839.0 1069.0C842.0 1067.0 845.7 1062.0 849.0 1059.0C852.3 1056.0 855.7 1055.0 859.0 1051.0C862.3 1047.0 865.7 1042.3 869.0 1035.0C872.3 1027.7 876.0 1016.0 879.0 1007.0C882.0 998.0 884.7 989.0 887.0 981.0C889.3 973.0 891.6 963.3 893.0 959.0C894.4 954.7 895.1 955.7 895.5 955.0" fill="none" stroke="#12e2e2" stroke-width="6.3" stroke-linecap="round" stroke-linejoin="round"/>
<path d="M895.5 955.0C895.8 955.3 896.2 955.3 897.0 957.0C897.8 958.7 898.5 960.3 900.0 965.0C901.5 969.7 903.7 977.3 906.0 985.0C908.3 992.7 911.3 1002.7 914.0 1011.0C916.7 1019.3 919.3 1028.0 922.0 1035.0C924.7 1042.0 927.3 1048.7 930.0 1053.0C932.7 1057.3 935.3 1058.0 938.0 1061.0C940.7 1064.0 942.7 1068.7 946.0 1071.0C949.3 1073.3 954.0 1074.7 958.0 1075.0C962.0 1075.3 965.5 1073.8 970.0 1073.0C974.5 1072.2 979.7 1071.3 985.0 1070.0C990.3 1068.7 996.5 1067.5 1002.0 1065.0C1007.5 1062.5 1013.3 1059.0 1018.0 1055.0C1022.7 1051.0 1026.0 1046.0 1030.0 1041.0C1034.0 1036.0 1038.3 1029.0 1042.0 1025.0C1045.7 1021.0 1049.3 1019.3 1052.0 1017.0C1054.7 1014.7 1056.2 1013.5 1058.0 1011.0C1059.8 1008.5 1061.7 1004.3 1063.0 1002.0C1064.3 999.7 1064.8 997.5 1066.0 997.0C1067.2 996.5 1068.7 997.5 1070.0 999.0C1071.3 1000.5 1072.3 1002.0 1074.0 1006.0C1075.7 1010.0 1077.3 1016.2 1080.0 1023.0C1082.7 1029.8 1086.7 1040.3 1090.0 1047.0C1093.3 1053.7 1096.7 1058.3 1100.0 1063.0C1103.3 1067.7 1107.8 1072.7 1110.0 1075.0C1112.2 1077.3 1112.5 1076.7 1113.0 1077.0" fill="none" stroke="#f00cf0" stroke-width="6.3" stroke-linecap="round" stroke-linejoin="round"/>
</g>
<rect x="732" y="614" width="330.3" height="13.2" fill="url(#cbC)" stroke="#333" stroke-width="0.6"/>
<path d="M748.5 627.2v-2.5M765.0 627.2v-2.5M781.5 627.2v-2.5M798.1 627.2v-2.5M814.6 627.2v-2.5M831.1 627.2v-2.5M847.6 627.2v-2.5M864.1 627.2v-2.5M880.6 627.2v-2.5M897.1 627.2v-2.5M913.7 627.2v-2.5M930.2 627.2v-2.5M946.7 627.2v-2.5M963.2 627.2v-2.5M979.7 627.2v-2.5M996.2 627.2v-2.5M1012.8 627.2v-2.5M1029.3 627.2v-2.5M1045.8 627.2v-2.5" stroke="#333" stroke-width="0.8"/>
<filter id="cmap" x="0" y="0" width="1" height="1" color-interpolation-filters="sRGB">
<feGaussianBlur stdDeviation="1.3"/>
<feComponentTransfer><feFuncR type="table" tableValues="0.000 0.157 0.333 0.529 0.706 0.824 0.922 0.973 0.980 0.980 0.988"/><feFuncG type="table" tableValues="0.000 0.031 0.059 0.118 0.196 0.255 0.353 0.490 0.647 0.784 0.961"/><feFuncB type="table" tableValues="0.016 0.314 0.431 0.490 0.490 0.431 0.333 0.235 0.275 0.392 0.627"/></feComponentTransfer>
</filter>
<clipPath id="clipE"><rect x="122.6" y="1214.6" width="429.79999999999995" height="430.9000000000001"/></clipPath>
<g clip-path="url(#clipE)"><g filter="url(#cmap)">
<rect x="120.6" y="1212.6" width="433.79999999999995" height="434.9000000000001" fill="#000"/>
<g fill="none" stroke-linejoin="round">
<path d="M338.4 1404.9C336.9 1404.9 335.4 1404.0 334.0 1402.7C332.6 1401.5 331.4 1399.8 330.2 1397.6C329.0 1395.4 327.9 1392.2 327.0 1389.5C326.1 1386.7 325.2 1384.0 324.8 1381.4C324.4 1378.7 324.2 1375.8 324.7 1373.3C325.1 1370.9 325.9 1368.2 327.4 1366.4C329.0 1364.7 332.0 1363.5 334.1 1362.7C336.2 1362.0 338.1 1361.9 340.1 1362.0C342.1 1362.0 344.0 1362.3 346.1 1363.2C348.1 1364.1 351.0 1365.6 352.4 1367.5C353.8 1369.3 354.4 1372.0 354.6 1374.5C354.9 1377.1 354.4 1379.9 353.8 1382.5C353.2 1385.2 352.1 1387.8 351.0 1390.4C349.9 1393.0 348.5 1396.2 347.2 1398.3C345.8 1400.4 344.4 1402.0 343.0 1403.1C341.5 1404.2 339.9 1405.0 338.4 1404.9Z" stroke="rgb(22,22,22)" stroke-width="8.5" style="mix-blend-mode:plus-lighter"/>
<path d="M338.4 1404.9C336.9 1404.9 335.4 1404.0 334.0 1402.7C332.6 1401.5 331.4 1399.8 330.2 1397.6C329.0 1395.4 327.9 1392.2 327.0 1389.5C326.1 1386.7 325.2 1384.0 324.8 1381.4C324.4 1378.7 324.2 1375.8 324.7 1373.3C325.1 1370.9 325.9 1368.2 327.4 1366.4C329.0 1364.7 332.0 1363.5 334.1 1362.7C336.2 1362.0 338.1 1361.9 340.1 1362.0C342.1 1362.0 344.0 1362.3 346.1 1363.2C348.1 1364.1 351.0 1365.6 352.4 1367.5C353.8 1369.3 354.4 1372.0 354.6 1374.5C354.9 1377.1 354.4 1379.9 353.8 1382.5C353.2 1385.2 352.1 1387.8 351.0 1390.4C349.9 1393.0 348.5 1396.2 347.2 1398.3C345.8 1400.4 344.4 1402.0 343.0 1403.1C341.5 1404.2 339.9 1405.0 338.4 1404.9Z" stroke="rgb(108,108,108)" stroke-width="3.3" style="mix-blend-mode:plus-lighter"/>
<path d="M316.3 1416.5C315.5 1417.8 313.9 1418.7 312.2 1419.3C310.4 1419.9 308.3 1420.1 305.8 1420.0C303.3 1419.9 300.0 1419.2 297.2 1418.7C294.4 1418.1 291.6 1417.5 289.1 1416.5C286.6 1415.5 284.0 1414.3 282.1 1412.7C280.1 1411.0 278.2 1409.0 277.5 1406.8C276.7 1404.6 277.2 1401.4 277.6 1399.2C278.0 1397.0 278.9 1395.3 279.9 1393.6C281.0 1391.9 282.2 1390.3 284.0 1389.0C285.8 1387.7 288.5 1386.0 290.8 1385.7C293.2 1385.4 295.8 1386.2 298.1 1387.3C300.4 1388.4 302.6 1390.1 304.6 1392.0C306.6 1393.8 308.3 1396.1 310.0 1398.4C311.7 1400.7 313.7 1403.4 314.9 1405.6C316.1 1407.8 316.8 1409.8 317.0 1411.7C317.2 1413.5 317.1 1415.3 316.3 1416.5Z" stroke="rgb(22,22,22)" stroke-width="8.5" style="mix-blend-mode:plus-lighter"/>
<path d="M316.3 1416.5C315.5 1417.8 313.9 1418.7 312.2 1419.3C310.4 1419.9 308.3 1420.1 305.8 1420.0C303.3 1419.9 300.0 1419.2 297.2 1418.7C294.4 1418.1 291.6 1417.5 289.1 1416.5C286.6 1415.5 284.0 1414.3 282.1 1412.7C280.1 1411.0 278.2 1409.0 277.5 1406.8C276.7 1404.6 277.2 1401.4 277.6 1399.2C278.0 1397.0 278.9 1395.3 279.9 1393.6C281.0 1391.9 282.2 1390.3 284.0 1389.0C285.8 1387.7 288.5 1386.0 290.8 1385.7C293.2 1385.4 295.8 1386.2 298.1 1387.3C300.4 1388.4 302.6 1390.1 304.6 1392.0C306.6 1393.8 308.3 1396.1 310.0 1398.4C311.7 1400.7 313.7 1403.4 314.9 1405.6C316.1 1407.8 316.8 1409.8 317.0 1411.7C317.2 1413.5 317.1 1415.3 316.3 1416.5Z" stroke="rgb(108,108,108)" stroke-width="3.3" style="mix-blend-mode:plus-lighter"/>
<path d="M315.3 1441.5C316.0 1442.8 316.0 1444.6 315.6 1446.4C315.2 1448.2 314.4 1450.2 313.0 1452.3C311.7 1454.4 309.5 1457.0 307.6 1459.1C305.7 1461.2 303.8 1463.4 301.6 1465.1C299.5 1466.7 297.2 1468.3 294.8 1469.2C292.4 1470.1 289.8 1470.7 287.4 1470.3C285.1 1469.8 282.6 1467.8 280.9 1466.4C279.2 1464.9 278.1 1463.3 277.2 1461.5C276.3 1459.7 275.5 1458.0 275.3 1455.7C275.1 1453.5 274.9 1450.3 275.8 1448.1C276.7 1445.9 278.8 1444.1 280.8 1442.7C282.9 1441.2 285.6 1440.2 288.2 1439.4C290.8 1438.6 293.6 1438.2 296.4 1437.9C299.2 1437.5 302.6 1437.1 305.1 1437.2C307.6 1437.3 309.7 1437.8 311.4 1438.5C313.1 1439.2 314.6 1440.2 315.3 1441.5Z" stroke="rgb(22,22,22)" stroke-width="8.5" style="mix-blend-mode:plus-lighter"/>
<path d="M315.3 1441.5C316.0 1442.8 316.0 1444.6 315.6 1446.4C315.2 1448.2 314.4 1450.2 313.0 1452.3C311.7 1454.4 309.5 1457.0 307.6 1459.1C305.7 1461.2 303.8 1463.4 301.6 1465.1C299.5 1466.7 297.2 1468.3 294.8 1469.2C292.4 1470.1 289.8 1470.7 287.4 1470.3C285.1 1469.8 282.6 1467.8 280.9 1466.4C279.2 1464.9 278.1 1463.3 277.2 1461.5C276.3 1459.7 275.5 1458.0 275.3 1455.7C275.1 1453.5 274.9 1450.3 275.8 1448.1C276.7 1445.9 278.8 1444.1 280.8 1442.7C282.9 1441.2 285.6 1440.2 288.2 1439.4C290.8 1438.6 293.6 1438.2 296.4 1437.9C299.2 1437.5 302.6 1437.1 305.1 1437.2C307.6 1437.3 309.7 1437.8 311.4 1438.5C313.1 1439.2 314.6 1440.2 315.3 1441.5Z" stroke="rgb(108,108,108)" stroke-width="3.3" style="mix-blend-mode:plus-lighter"/>
<path d="M336.4 1454.9C337.9 1454.9 339.4 1455.8 340.8 1457.1C342.2 1458.3 343.4 1460.0 344.6 1462.2C345.8 1464.4 346.9 1467.6 347.8 1470.3C348.7 1473.1 349.6 1475.8 350.0 1478.4C350.4 1481.1 350.6 1484.0 350.1 1486.5C349.7 1488.9 348.9 1491.6 347.4 1493.4C345.8 1495.1 342.8 1496.3 340.7 1497.1C338.6 1497.8 336.7 1497.9 334.7 1497.8C332.7 1497.8 330.8 1497.5 328.7 1496.6C326.7 1495.7 323.8 1494.2 322.4 1492.3C321.0 1490.5 320.4 1487.8 320.2 1485.3C319.9 1482.7 320.4 1479.9 321.0 1477.3C321.6 1474.6 322.7 1472.0 323.8 1469.4C324.9 1466.8 326.3 1463.6 327.6 1461.5C329.0 1459.4 330.4 1457.8 331.8 1456.7C333.3 1455.6 334.9 1454.8 336.4 1454.9Z" stroke="rgb(22,22,22)" stroke-width="8.5" style="mix-blend-mode:plus-lighter"/>
<path d="M336.4 1454.9C337.9 1454.9 339.4 1455.8 340.8 1457.1C342.2 1458.3 343.4 1460.0 344.6 1462.2C345.8 1464.4 346.9 1467.6 347.8 1470.3C348.7 1473.1 349.6 1475.8 350.0 1478.4C350.4 1481.1 350.6 1484.0 350.1 1486.5C349.7 1488.9 348.9 1491.6 347.4 1493.4C345.8 1495.1 342.8 1496.3 340.7 1497.1C338.6 1497.8 336.7 1497.9 334.7 1497.8C332.7 1497.8 330.8 1497.5 328.7 1496.6C326.7 1495.7 323.8 1494.2 322.4 1492.3C321.0 1490.5 320.4 1487.8 320.2 1485.3C319.9 1482.7 320.4 1479.9 321.0 1477.3C321.6 1474.6 322.7 1472.0 323.8 1469.4C324.9 1466.8 326.3 1463.6 327.6 1461.5C329.0 1459.4 330.4 1457.8 331.8 1456.7C333.3 1455.6 334.9 1454.8 336.4 1454.9Z" stroke="rgb(108,108,108)" stroke-width="3.3" style="mix-blend-mode:plus-lighter"/>
<path d="M358.5 1443.3C359.3 1442.0 360.9 1441.1 362.6 1440.5C364.4 1439.9 366.5 1439.7 369.0 1439.8C371.5 1439.9 374.8 1440.6 377.6 1441.1C380.4 1441.7 383.2 1442.3 385.7 1443.3C388.2 1444.3 390.8 1445.5 392.7 1447.1C394.7 1448.8 396.6 1450.8 397.3 1453.0C398.1 1455.2 397.6 1458.4 397.2 1460.6C396.8 1462.8 395.9 1464.5 394.9 1466.2C393.8 1467.9 392.6 1469.5 390.8 1470.8C389.0 1472.1 386.3 1473.8 384.0 1474.1C381.6 1474.4 379.0 1473.6 376.7 1472.5C374.4 1471.4 372.2 1469.7 370.2 1467.8C368.2 1466.0 366.5 1463.7 364.8 1461.4C363.1 1459.1 361.1 1456.4 359.9 1454.2C358.7 1452.0 358.0 1450.0 357.8 1448.1C357.6 1446.3 357.7 1444.5 358.5 1443.3Z" stroke="rgb(22,22,22)" stroke-width="8.5" style="mix-blend-mode:plus-lighter"/>
<path d="M358.5 1443.3C359.3 1442.0 360.9 1441.1 362.6 1440.5C364.4 1439.9 366.5 1439.7 369.0 1439.8C371.5 1439.9 374.8 1440.6 377.6 1441.1C380.4 1441.7 383.2 1442.3 385.7 1443.3C388.2 1444.3 390.8 1445.5 392.7 1447.1C394.7 1448.8 396.6 1450.8 397.3 1453.0C398.1 1455.2 397.6 1458.4 397.2 1460.6C396.8 1462.8 395.9 1464.5 394.9 1466.2C393.8 1467.9 392.6 1469.5 390.8 1470.8C389.0 1472.1 386.3 1473.8 384.0 1474.1C381.6 1474.4 379.0 1473.6 376.7 1472.5C374.4 1471.4 372.2 1469.7 370.2 1467.8C368.2 1466.0 366.5 1463.7 364.8 1461.4C363.1 1459.1 361.1 1456.4 359.9 1454.2C358.7 1452.0 358.0 1450.0 357.8 1448.1C357.6 1446.3 357.7 1444.5 358.5 1443.3Z" stroke="rgb(108,108,108)" stroke-width="3.3" style="mix-blend-mode:plus-lighter"/>
<path d="M359.5 1418.3C358.8 1417.0 358.8 1415.2 359.2 1413.4C359.6 1411.6 360.4 1409.6 361.8 1407.5C363.1 1405.4 365.3 1402.8 367.2 1400.7C369.1 1398.6 371.0 1396.4 373.2 1394.7C375.3 1393.1 377.6 1391.5 380.0 1390.6C382.4 1389.7 385.0 1389.1 387.4 1389.5C389.7 1390.0 392.2 1392.0 393.9 1393.4C395.6 1394.9 396.7 1396.5 397.6 1398.3C398.5 1400.1 399.3 1401.8 399.5 1404.1C399.7 1406.3 399.9 1409.5 399.0 1411.7C398.1 1413.9 396.0 1415.7 394.0 1417.1C391.9 1418.6 389.2 1419.6 386.6 1420.4C384.0 1421.2 381.2 1421.6 378.4 1421.9C375.6 1422.3 372.2 1422.7 369.7 1422.6C367.2 1422.5 365.1 1422.0 363.4 1421.3C361.7 1420.6 360.2 1419.6 359.5 1418.3Z" stroke="rgb(22,22,22)" stroke-width="8.5" style="mix-blend-mode:plus-lighter"/>
<path d="M359.5 1418.3C358.8 1417.0 358.8 1415.2 359.2 1413.4C359.6 1411.6 360.4 1409.6 361.8 1407.5C363.1 1405.4 365.3 1402.8 367.2 1400.7C369.1 1398.6 371.0 1396.4 373.2 1394.7C375.3 1393.1 377.6 1391.5 380.0 1390.6C382.4 1389.7 385.0 1389.1 387.4 1389.5C389.7 1390.0 392.2 1392.0 393.9 1393.4C395.6 1394.9 396.7 1396.5 397.6 1398.3C398.5 1400.1 399.3 1401.8 399.5 1404.1C399.7 1406.3 399.9 1409.5 399.0 1411.7C398.1 1413.9 396.0 1415.7 394.0 1417.1C391.9 1418.6 389.2 1419.6 386.6 1420.4C384.0 1421.2 381.2 1421.6 378.4 1421.9C375.6 1422.3 372.2 1422.7 369.7 1422.6C367.2 1422.5 365.1 1422.0 363.4 1421.3C361.7 1420.6 360.2 1419.6 359.5 1418.3Z" stroke="rgb(108,108,108)" stroke-width="3.3" style="mix-blend-mode:plus-lighter"/>
<path d="M429.6 1429.9L429.9 1428.3L430.2 1426.7L430.5 1425.0L431.0 1423.4L431.4 1421.7L431.9 1420.0L432.4 1418.2L432.9 1416.5L433.5 1414.7L434.0 1412.9L434.6 1411.0L435.1 1409.1L435.6 1407.2L436.0 1405.3L436.4 1403.4L436.8 1401.4L437.0 1399.4L437.2 1397.5L437.4 1395.5L437.4 1393.5L437.3 1391.6L437.1 1389.6L436.8 1387.7L436.4 1385.8L435.9 1384.0L435.2 1382.2L434.5 1380.4L433.6 1378.7L432.7 1377.1L431.6 1375.5L430.4 1374.0L429.1 1372.6L427.7 1371.2L426.3 1369.9L424.8 1368.7L423.1 1367.6L421.5 1366.5L419.8 1365.6L418.0 1364.6L416.2 1363.8L414.4 1363.0L412.5 1362.2L410.7 1361.5L408.9 1360.9L407.0 1360.3L405.2 1359.7L403.4 1359.1L401.7 1358.5L399.9 1358.0L398.2 1357.4L396.6 1356.8L394.9 1356.2L393.4 1355.6L391.8 1355.0L390.4 1354.3L388.9 1353.5L387.5 1352.7L386.2 1351.9L384.8 1351.0L383.5 1350.0L382.2 1349.0L381.0 1347.9L379.7 1346.8L378.5 1345.6L377.3 1344.4L376.0 1343.1L374.8 1341.8L373.5 1340.4L372.3 1339.1L371.0 1337.7L369.6 1336.3L368.3 1334.9L366.9 1333.5L365.4 1332.2L363.9 1330.9L362.4 1329.6L360.8 1328.4L359.2 1327.2L357.6 1326.1L355.9 1325.1L354.1 1324.2L352.4 1323.4L350.6 1322.7L348.7 1322.1L346.9 1321.7L345.0 1321.3L343.1 1321.1L341.2 1321.0L339.3 1321.0L337.4 1321.1L335.5 1321.4L333.6 1321.8L331.8 1322.3L329.9 1322.9L328.1 1323.7L326.3 1324.5L324.6 1325.4L322.9 1326.4L321.2 1327.5L319.5 1328.6L317.9 1329.8L316.4 1331.0L314.9 1332.2L313.4 1333.5L311.9 1334.8L310.5 1336.1L309.1 1337.3L307.7 1338.6L306.4 1339.8L305.0 1341.0L303.7 1342.1L302.4 1343.2L301.1 1344.3L299.7 1345.3L298.4 1346.2L297.0 1347.1L295.6 1347.9L294.2 1348.7L292.8 1349.4L291.3 1350.0L289.8 1350.6L288.2 1351.2L286.6 1351.7L285.0 1352.1L283.3 1352.6L281.6 1353.0L279.8 1353.5L278.0 1353.9L276.2 1354.3L274.3 1354.7L272.5 1355.2L270.6 1355.7L268.7 1356.2L266.8 1356.8L264.9 1357.4L263.0 1358.1L261.2 1358.8L259.4 1359.7L257.6 1360.5L255.9 1361.5L254.3 1362.6L252.7 1363.7L251.2 1364.9L249.7 1366.2L248.4 1367.6L247.1 1369.0L246.0 1370.5L245.0 1372.1L244.0 1373.8L243.2 1375.5L242.5 1377.3L241.9 1379.1L241.4 1381.0L241.0 1382.9L240.8 1384.8L240.6 1386.8L240.5 1388.8L240.5 1390.7L240.6 1392.7L240.7 1394.7L241.0 1396.7L241.2 1398.7L241.5 1400.6L241.9 1402.5L242.3 1404.4L242.7 1406.3L243.1 1408.1L243.5 1409.9L243.9 1411.7L244.2 1413.5L244.5 1415.2L244.8 1416.9L245.1 1418.6L245.3 1420.2L245.4 1421.9L245.5 1423.5L245.5 1425.1L245.5 1426.7L245.3 1428.3L245.2 1429.9L244.9 1431.5L244.6 1433.1L244.3 1434.8L243.8 1436.4L243.4 1438.1L242.9 1439.8L242.4 1441.6L241.9 1443.3L241.3 1445.1L240.8 1446.9L240.2 1448.8L239.7 1450.7L239.2 1452.6L238.8 1454.5L238.4 1456.4L238.0 1458.4L237.8 1460.4L237.6 1462.3L237.4 1464.3L237.4 1466.3L237.5 1468.2L237.7 1470.2L238.0 1472.1L238.4 1474.0L238.9 1475.8L239.6 1477.6L240.3 1479.4L241.2 1481.1L242.1 1482.7L243.2 1484.3L244.4 1485.8L245.7 1487.2L247.1 1488.6L248.5 1489.9L250.0 1491.1L251.7 1492.2L253.3 1493.3L255.0 1494.2L256.8 1495.2L258.6 1496.0L260.4 1496.8L262.3 1497.6L264.1 1498.3L265.9 1498.9L267.8 1499.5L269.6 1500.1L271.4 1500.7L273.1 1501.3L274.9 1501.8L276.6 1502.4L278.2 1503.0L279.9 1503.6L281.4 1504.2L283.0 1504.8L284.4 1505.5L285.9 1506.3L287.3 1507.1L288.6 1507.9L290.0 1508.8L291.3 1509.8L292.6 1510.8L293.8 1511.9L295.1 1513.0L296.3 1514.2L297.5 1515.4L298.8 1516.7L300.0 1518.0L301.3 1519.4L302.5 1520.7L303.8 1522.1L305.2 1523.5L306.5 1524.9L307.9 1526.3L309.4 1527.6L310.9 1528.9L312.4 1530.2L314.0 1531.4L315.6 1532.6L317.2 1533.7L318.9 1534.7L320.7 1535.6L322.4 1536.4L324.2 1537.1L326.1 1537.7L327.9 1538.1L329.8 1538.5L331.7 1538.7L333.6 1538.8L335.5 1538.8L337.4 1538.7L339.3 1538.4L341.2 1538.0L343.0 1537.5L344.9 1536.9L346.7 1536.1L348.5 1535.3L350.2 1534.4L351.9 1533.4L353.6 1532.3L355.3 1531.2L356.9 1530.0L358.4 1528.8L359.9 1527.6L361.4 1526.3L362.9 1525.0L364.3 1523.7L365.7 1522.5L367.1 1521.2L368.4 1520.0L369.8 1518.8L371.1 1517.7L372.4 1516.6L373.7 1515.5L375.1 1514.5L376.4 1513.6L377.8 1512.7L379.2 1511.9L380.6 1511.1L382.0 1510.4L383.5 1509.8L385.0 1509.2L386.6 1508.6L388.2 1508.1L389.8 1507.7L391.5 1507.2L393.2 1506.8L395.0 1506.3L396.8 1505.9L398.6 1505.5L400.5 1505.1L402.3 1504.6L404.2 1504.1L406.1 1503.6L408.0 1503.0L409.9 1502.4L411.8 1501.7L413.6 1501.0L415.4 1500.1L417.2 1499.3L418.9 1498.3L420.5 1497.2L422.1 1496.1L423.6 1494.9L425.1 1493.6L426.4 1492.2L427.7 1490.8L428.8 1489.3L429.8 1487.7L430.8 1486.0L431.6 1484.3L432.3 1482.5L432.9 1480.7L433.4 1478.8L433.8 1476.9L434.0 1475.0L434.2 1473.0L434.3 1471.0L434.3 1469.1L434.2 1467.1L434.1 1465.1L433.8 1463.1L433.6 1461.1L433.3 1459.2L432.9 1457.3L432.5 1455.4L432.1 1453.5L431.7 1451.7L431.3 1449.9L430.9 1448.1L430.6 1446.3L430.3 1444.6L430.0 1442.9L429.7 1441.2L429.5 1439.6L429.4 1437.9L429.3 1436.3L429.3 1434.7L429.3 1433.1L429.5 1431.5Z" stroke="rgb(22,22,22)" stroke-width="8.5" style="mix-blend-mode:plus-lighter"/>
<path d="M429.6 1429.9L429.9 1428.3L430.2 1426.7L430.5 1425.0L431.0 1423.4L431.4 1421.7L431.9 1420.0L432.4 1418.2L432.9 1416.5L433.5 1414.7L434.0 1412.9L434.6 1411.0L435.1 1409.1L435.6 1407.2L436.0 1405.3L436.4 1403.4L436.8 1401.4L437.0 1399.4L437.2 1397.5L437.4 1395.5L437.4 1393.5L437.3 1391.6L437.1 1389.6L436.8 1387.7L436.4 1385.8L435.9 1384.0L435.2 1382.2L434.5 1380.4L433.6 1378.7L432.7 1377.1L431.6 1375.5L430.4 1374.0L429.1 1372.6L427.7 1371.2L426.3 1369.9L424.8 1368.7L423.1 1367.6L421.5 1366.5L419.8 1365.6L418.0 1364.6L416.2 1363.8L414.4 1363.0L412.5 1362.2L410.7 1361.5L408.9 1360.9L407.0 1360.3L405.2 1359.7L403.4 1359.1L401.7 1358.5L399.9 1358.0L398.2 1357.4L396.6 1356.8L394.9 1356.2L393.4 1355.6L391.8 1355.0L390.4 1354.3L388.9 1353.5L387.5 1352.7L386.2 1351.9L384.8 1351.0L383.5 1350.0L382.2 1349.0L381.0 1347.9L379.7 1346.8L378.5 1345.6L377.3 1344.4L376.0 1343.1L374.8 1341.8L373.5 1340.4L372.3 1339.1L371.0 1337.7L369.6 1336.3L368.3 1334.9L366.9 1333.5L365.4 1332.2L363.9 1330.9L362.4 1329.6L360.8 1328.4L359.2 1327.2L357.6 1326.1L355.9 1325.1L354.1 1324.2L352.4 1323.4L350.6 1322.7L348.7 1322.1L346.9 1321.7L345.0 1321.3L343.1 1321.1L341.2 1321.0L339.3 1321.0L337.4 1321.1L335.5 1321.4L333.6 1321.8L331.8 1322.3L329.9 1322.9L328.1 1323.7L326.3 1324.5L324.6 1325.4L322.9 1326.4L321.2 1327.5L319.5 1328.6L317.9 1329.8L316.4 1331.0L314.9 1332.2L313.4 1333.5L311.9 1334.8L310.5 1336.1L309.1 1337.3L307.7 1338.6L306.4 1339.8L305.0 1341.0L303.7 1342.1L302.4 1343.2L301.1 1344.3L299.7 1345.3L298.4 1346.2L297.0 1347.1L295.6 1347.9L294.2 1348.7L292.8 1349.4L291.3 1350.0L289.8 1350.6L288.2 1351.2L286.6 1351.7L285.0 1352.1L283.3 1352.6L281.6 1353.0L279.8 1353.5L278.0 1353.9L276.2 1354.3L274.3 1354.7L272.5 1355.2L270.6 1355.7L268.7 1356.2L266.8 1356.8L264.9 1357.4L263.0 1358.1L261.2 1358.8L259.4 1359.7L257.6 1360.5L255.9 1361.5L254.3 1362.6L252.7 1363.7L251.2 1364.9L249.7 1366.2L248.4 1367.6L247.1 1369.0L246.0 1370.5L245.0 1372.1L244.0 1373.8L243.2 1375.5L242.5 1377.3L241.9 1379.1L241.4 1381.0L241.0 1382.9L240.8 1384.8L240.6 1386.8L240.5 1388.8L240.5 1390.7L240.6 1392.7L240.7 1394.7L241.0 1396.7L241.2 1398.7L241.5 1400.6L241.9 1402.5L242.3 1404.4L242.7 1406.3L243.1 1408.1L243.5 1409.9L243.9 1411.7L244.2 1413.5L244.5 1415.2L244.8 1416.9L245.1 1418.6L245.3 1420.2L245.4 1421.9L245.5 1423.5L245.5 1425.1L245.5 1426.7L245.3 1428.3L245.2 1429.9L244.9 1431.5L244.6 1433.1L244.3 1434.8L243.8 1436.4L243.4 1438.1L242.9 1439.8L242.4 1441.6L241.9 1443.3L241.3 1445.1L240.8 1446.9L240.2 1448.8L239.7 1450.7L239.2 1452.6L238.8 1454.5L238.4 1456.4L238.0 1458.4L237.8 1460.4L237.6 1462.3L237.4 1464.3L237.4 1466.3L237.5 1468.2L237.7 1470.2L238.0 1472.1L238.4 1474.0L238.9 1475.8L239.6 1477.6L240.3 1479.4L241.2 1481.1L242.1 1482.7L243.2 1484.3L244.4 1485.8L245.7 1487.2L247.1 1488.6L248.5 1489.9L250.0 1491.1L251.7 1492.2L253.3 1493.3L255.0 1494.2L256.8 1495.2L258.6 1496.0L260.4 1496.8L262.3 1497.6L264.1 1498.3L265.9 1498.9L267.8 1499.5L269.6 1500.1L271.4 1500.7L273.1 1501.3L274.9 1501.8L276.6 1502.4L278.2 1503.0L279.9 1503.6L281.4 1504.2L283.0 1504.8L284.4 1505.5L285.9 1506.3L287.3 1507.1L288.6 1507.9L290.0 1508.8L291.3 1509.8L292.6 1510.8L293.8 1511.9L295.1 1513.0L296.3 1514.2L297.5 1515.4L298.8 1516.7L300.0 1518.0L301.3 1519.4L302.5 1520.7L303.8 1522.1L305.2 1523.5L306.5 1524.9L307.9 1526.3L309.4 1527.6L310.9 1528.9L312.4 1530.2L314.0 1531.4L315.6 1532.6L317.2 1533.7L318.9 1534.7L320.7 1535.6L322.4 1536.4L324.2 1537.1L326.1 1537.7L327.9 1538.1L329.8 1538.5L331.7 1538.7L333.6 1538.8L335.5 1538.8L337.4 1538.7L339.3 1538.4L341.2 1538.0L343.0 1537.5L344.9 1536.9L346.7 1536.1L348.5 1535.3L350.2 1534.4L351.9 1533.4L353.6 1532.3L355.3 1531.2L356.9 1530.0L358.4 1528.8L359.9 1527.6L361.4 1526.3L362.9 1525.0L364.3 1523.7L365.7 1522.5L367.1 1521.2L368.4 1520.0L369.8 1518.8L371.1 1517.7L372.4 1516.6L373.7 1515.5L375.1 1514.5L376.4 1513.6L377.8 1512.7L379.2 1511.9L380.6 1511.1L382.0 1510.4L383.5 1509.8L385.0 1509.2L386.6 1508.6L388.2 1508.1L389.8 1507.7L391.5 1507.2L393.2 1506.8L395.0 1506.3L396.8 1505.9L398.6 1505.5L400.5 1505.1L402.3 1504.6L404.2 1504.1L406.1 1503.6L408.0 1503.0L409.9 1502.4L411.8 1501.7L413.6 1501.0L415.4 1500.1L417.2 1499.3L418.9 1498.3L420.5 1497.2L422.1 1496.1L423.6 1494.9L425.1 1493.6L426.4 1492.2L427.7 1490.8L428.8 1489.3L429.8 1487.7L430.8 1486.0L431.6 1484.3L432.3 1482.5L432.9 1480.7L433.4 1478.8L433.8 1476.9L434.0 1475.0L434.2 1473.0L434.3 1471.0L434.3 1469.1L434.2 1467.1L434.1 1465.1L433.8 1463.1L433.6 1461.1L433.3 1459.2L432.9 1457.3L432.5 1455.4L432.1 1453.5L431.7 1451.7L431.3 1449.9L430.9 1448.1L430.6 1446.3L430.3 1444.6L430.0 1442.9L429.7 1441.2L429.5 1439.6L429.4 1437.9L429.3 1436.3L429.3 1434.7L429.3 1433.1L429.5 1431.5Z" stroke="rgb(108,108,108)" stroke-width="3.3" style="mix-blend-mode:plus-lighter"/>
<path d="M430.6 1429.9L430.7 1429.1L430.8 1428.3L430.9 1427.5L431.1 1426.6L431.2 1425.8L431.4 1425.0L431.6 1424.1L431.9 1423.3L432.2 1422.4L432.6 1421.6L433.1 1420.7L433.7 1419.8L434.4 1418.8L435.3 1417.9L436.2 1416.9L437.3 1415.9L438.6 1414.8L439.9 1413.7L441.3 1412.5L442.8 1411.3L444.4 1410.1L446.2 1408.7L448.3 1407.3L450.7 1405.8L453.5 1404.2L456.6 1402.4L460.0 1400.5L463.4 1398.5L466.7 1396.5L469.8 1394.4L472.6 1392.4L475.2 1390.4L477.6 1388.4L479.8 1386.4L482.0 1384.3L484.0 1382.3L485.9 1380.2L487.6 1378.2L489.1 1376.2L490.4 1374.2L491.4 1372.3L492.2 1370.5L492.6 1368.7L492.9 1367.1L493.0 1365.5L492.9 1363.9L492.7 1362.4L492.4 1360.9L492.1 1359.4L491.8 1357.9L491.3 1356.5L490.8 1355.1L490.3 1353.7L489.7 1352.3L489.1 1350.9L488.4 1349.6L487.6 1348.3L486.8 1347.1L486.0 1345.8L485.1 1344.7L484.1 1343.5L483.1 1342.4L482.0 1341.3L480.9 1340.2L479.8 1339.2L478.5 1338.3L477.1 1337.4L475.6 1336.7L473.8 1336.1L471.8 1335.8L469.6 1335.6L467.3 1335.5L464.7 1335.7L462.1 1336.0L459.3 1336.4L456.4 1336.9L453.5 1337.5L450.6 1338.2L447.5 1339.1L444.4 1340.1L441.1 1341.3L437.7 1342.7L434.1 1344.4L430.5 1346.0L427.1 1347.7L423.9 1349.2L421.0 1350.6L418.4 1351.6L416.2 1352.5L414.1 1353.2L412.2 1353.8L410.4 1354.4L408.6 1354.9L407.0 1355.3L405.4 1355.7L404.0 1356.0L402.6 1356.2L401.3 1356.3L400.2 1356.4L399.1 1356.3L398.1 1356.2L397.2 1356.1L396.3 1355.8L395.5 1355.6L394.7 1355.3L393.9 1354.9L393.1 1354.6L392.4 1354.2L391.6 1353.9L390.9 1353.5L390.2 1353.1L389.5 1352.7L388.8 1352.3L388.1 1351.9L387.4 1351.5L386.7 1351.0L386.0 1350.6L385.3 1350.1L384.7 1349.7L384.0 1349.2L383.3 1348.7L382.7 1348.2L382.0 1347.7L381.4 1347.2L380.8 1346.6L380.1 1346.0L379.5 1345.4L378.9 1344.8L378.3 1344.1L377.8 1343.3L377.3 1342.4L376.8 1341.4L376.3 1340.4L375.9 1339.1L375.6 1337.8L375.2 1336.3L374.9 1334.7L374.6 1333.0L374.3 1331.2L374.0 1329.3L373.7 1327.3L373.5 1325.1L373.3 1322.6L373.2 1319.8L373.2 1316.5L373.2 1312.9L373.2 1309.0L373.2 1305.1L373.1 1301.2L372.9 1297.5L372.5 1294.1L372.1 1290.8L371.5 1287.7L370.9 1284.8L370.2 1281.9L369.4 1279.1L368.6 1276.5L367.7 1274.0L366.7 1271.7L365.7 1269.6L364.5 1267.7L363.3 1266.2L362.1 1264.9L360.7 1263.8L359.4 1262.9L358.0 1262.2L356.6 1261.6L355.1 1261.1L353.7 1260.6L352.2 1260.2L350.8 1259.9L349.3 1259.6L347.8 1259.4L346.3 1259.2L344.9 1259.1L343.4 1259.0L341.9 1259.0L340.4 1259.1L338.9 1259.2L337.4 1259.4L335.9 1259.6L334.4 1260.0L333.0 1260.3L331.5 1260.7L330.0 1261.2L328.6 1261.9L327.2 1262.7L325.8 1263.6L324.4 1264.9L323.1 1266.4L321.8 1268.2L320.6 1270.3L319.5 1272.5L318.4 1275.0L317.3 1277.6L316.4 1280.3L315.5 1283.1L314.6 1286.1L313.8 1289.1L313.1 1292.3L312.5 1295.8L312.1 1299.5L311.7 1303.4L311.3 1307.3L311.1 1311.1L310.8 1314.7L310.5 1317.8L310.1 1320.6L309.8 1323.0L309.3 1325.1L308.9 1327.1L308.5 1328.9L308.0 1330.7L307.6 1332.3L307.1 1333.9L306.7 1335.3L306.2 1336.6L305.7 1337.7L305.1 1338.8L304.6 1339.7L304.0 1340.5L303.3 1341.2L302.7 1341.8L302.1 1342.4L301.4 1343.0L300.7 1343.5L300.0 1344.0L299.4 1344.5L298.7 1344.9L298.0 1345.4L297.3 1345.8L296.6 1346.2L295.9 1346.6L295.2 1347.0L294.5 1347.4L293.7 1347.8L293.0 1348.2L292.3 1348.5L291.5 1348.9L290.8 1349.2L290.1 1349.5L289.3 1349.8L288.5 1350.1L287.7 1350.4L286.9 1350.7L286.1 1350.9L285.3 1351.2L284.4 1351.4L283.5 1351.5L282.6 1351.6L281.6 1351.6L280.5 1351.6L279.3 1351.4L278.1 1351.2L276.7 1350.8L275.3 1350.4L273.7 1349.8L272.1 1349.3L270.4 1348.6L268.6 1347.9L266.7 1347.1L264.7 1346.2L262.4 1345.2L259.9 1343.8L257.1 1342.2L253.9 1340.4L250.6 1338.4L247.2 1336.5L243.8 1334.6L240.5 1333.0L237.3 1331.6L234.3 1330.3L231.3 1329.3L228.5 1328.3L225.6 1327.5L222.9 1326.8L220.1 1326.2L217.5 1325.7L215.0 1325.4L212.7 1325.3L210.5 1325.3L208.6 1325.6L206.8 1326.0L205.2 1326.6L203.8 1327.4L202.5 1328.2L201.3 1329.2L200.1 1330.1L199.0 1331.2L197.9 1332.2L196.9 1333.3L195.9 1334.4L194.9 1335.6L194.0 1336.8L193.2 1338.0L192.4 1339.3L191.7 1340.6L191.0 1341.9L190.3 1343.3L189.7 1344.7L189.2 1346.1L188.7 1347.5L188.3 1349.0L187.9 1350.4L187.7 1351.9L187.5 1353.5L187.4 1355.1L187.6 1356.8L188.0 1358.6L188.7 1360.5L189.6 1362.5L190.8 1364.6L192.1 1366.7L193.7 1368.9L195.5 1371.1L197.3 1373.3L199.3 1375.5L201.4 1377.7L203.7 1379.9L206.1 1382.1L208.8 1384.4L211.8 1386.7L215.0 1388.9L218.2 1391.2L221.4 1393.3L224.3 1395.3L226.9 1397.2L229.1 1398.8L231.0 1400.4L232.6 1401.8L234.1 1403.2L235.5 1404.5L236.8 1405.7L238.0 1407.0L239.1 1408.1L240.1 1409.2L241.0 1410.3L241.7 1411.3L242.3 1412.3L242.8 1413.2L243.2 1414.1L243.5 1415.0L243.8 1415.9L244.0 1416.8L244.1 1417.6L244.2 1418.5L244.3 1419.3L244.4 1420.1L244.5 1421.0L244.5 1421.8L244.5 1422.6L244.5 1423.4L244.5 1424.2L244.5 1425.0L244.5 1425.8L244.5 1426.7L244.4 1427.5L244.4 1428.3L244.3 1429.1L244.2 1429.9L244.1 1430.7L244.0 1431.5L243.9 1432.3L243.7 1433.2L243.6 1434.0L243.4 1434.8L243.2 1435.7L242.9 1436.5L242.6 1437.4L242.2 1438.2L241.7 1439.1L241.1 1440.0L240.4 1441.0L239.5 1441.9L238.6 1442.9L237.5 1443.9L236.2 1445.0L234.9 1446.1L233.5 1447.3L232.0 1448.5L230.4 1449.7L228.6 1451.1L226.5 1452.5L224.1 1454.0L221.3 1455.6L218.2 1457.4L214.8 1459.3L211.4 1461.3L208.1 1463.3L205.0 1465.4L202.2 1467.4L199.6 1469.4L197.2 1471.4L195.0 1473.4L192.8 1475.5L190.8 1477.5L188.9 1479.6L187.2 1481.6L185.7 1483.6L184.4 1485.6L183.4 1487.5L182.6 1489.3L182.2 1491.1L181.9 1492.7L181.8 1494.3L181.9 1495.9L182.1 1497.4L182.4 1498.9L182.7 1500.4L183.0 1501.9L183.5 1503.3L184.0 1504.7L184.5 1506.1L185.1 1507.5L185.7 1508.9L186.4 1510.2L187.2 1511.5L188.0 1512.7L188.8 1514.0L189.7 1515.1L190.7 1516.3L191.7 1517.4L192.8 1518.5L193.9 1519.6L195.0 1520.6L196.3 1521.5L197.7 1522.4L199.2 1523.1L201.0 1523.7L203.0 1524.0L205.2 1524.2L207.5 1524.3L210.1 1524.1L212.7 1523.8L215.5 1523.4L218.4 1522.9L221.3 1522.3L224.2 1521.6L227.3 1520.7L230.4 1519.7L233.7 1518.5L237.1 1517.1L240.7 1515.4L244.3 1513.8L247.7 1512.1L250.9 1510.6L253.8 1509.2L256.4 1508.2L258.6 1507.3L260.7 1506.6L262.6 1506.0L264.4 1505.4L266.2 1504.9L267.8 1504.5L269.4 1504.1L270.8 1503.8L272.2 1503.6L273.5 1503.5L274.6 1503.4L275.7 1503.5L276.7 1503.6L277.6 1503.7L278.5 1504.0L279.3 1504.2L280.1 1504.5L280.9 1504.9L281.7 1505.2L282.4 1505.6L283.2 1505.9L283.9 1506.3L284.6 1506.7L285.3 1507.1L286.0 1507.5L286.7 1507.9L287.4 1508.3L288.1 1508.8L288.8 1509.2L289.5 1509.7L290.1 1510.1L290.8 1510.6L291.5 1511.1L292.1 1511.6L292.8 1512.1L293.4 1512.6L294.0 1513.2L294.7 1513.8L295.3 1514.4L295.9 1515.0L296.5 1515.7L297.0 1516.5L297.5 1517.4L298.0 1518.4L298.5 1519.4L298.9 1520.7L299.2 1522.0L299.6 1523.5L299.9 1525.1L300.2 1526.8L300.5 1528.6L300.8 1530.5L301.1 1532.5L301.3 1534.7L301.5 1537.2L301.6 1540.0L301.6 1543.3L301.6 1546.9L301.6 1550.8L301.6 1554.7L301.7 1558.6L301.9 1562.3L302.3 1565.7L302.7 1569.0L303.3 1572.1L303.9 1575.0L304.6 1577.9L305.4 1580.7L306.2 1583.3L307.1 1585.8L308.1 1588.1L309.1 1590.2L310.3 1592.1L311.5 1593.6L312.7 1594.9L314.1 1596.0L315.4 1596.9L316.8 1597.6L318.2 1598.2L319.7 1598.7L321.1 1599.2L322.6 1599.6L324.0 1599.9L325.5 1600.2L327.0 1600.4L328.5 1600.6L329.9 1600.7L331.4 1600.8L332.9 1600.8L334.4 1600.7L335.9 1600.6L337.4 1600.4L338.9 1600.2L340.4 1599.8L341.8 1599.5L343.3 1599.1L344.8 1598.6L346.2 1597.9L347.6 1597.1L349.0 1596.2L350.4 1594.9L351.7 1593.4L353.0 1591.6L354.2 1589.5L355.3 1587.3L356.4 1584.8L357.5 1582.2L358.4 1579.5L359.3 1576.7L360.2 1573.7L361.0 1570.7L361.7 1567.5L362.3 1564.0L362.7 1560.3L363.1 1556.4L363.5 1552.5L363.7 1548.7L364.0 1545.1L364.3 1542.0L364.7 1539.2L365.0 1536.8L365.5 1534.7L365.9 1532.7L366.3 1530.9L366.8 1529.1L367.2 1527.5L367.7 1525.9L368.1 1524.5L368.6 1523.2L369.1 1522.1L369.7 1521.0L370.2 1520.1L370.8 1519.3L371.5 1518.6L372.1 1518.0L372.7 1517.4L373.4 1516.8L374.1 1516.3L374.8 1515.8L375.4 1515.3L376.1 1514.9L376.8 1514.4L377.5 1514.0L378.2 1513.6L378.9 1513.2L379.6 1512.8L380.3 1512.4L381.1 1512.0L381.8 1511.6L382.5 1511.3L383.3 1510.9L384.0 1510.6L384.7 1510.3L385.5 1510.0L386.3 1509.7L387.1 1509.4L387.9 1509.1L388.7 1508.9L389.5 1508.6L390.4 1508.4L391.3 1508.3L392.2 1508.2L393.2 1508.2L394.3 1508.2L395.5 1508.4L396.7 1508.6L398.1 1509.0L399.5 1509.4L401.1 1510.0L402.7 1510.5L404.4 1511.2L406.2 1511.9L408.1 1512.7L410.1 1513.6L412.4 1514.6L414.9 1516.0L417.7 1517.6L420.9 1519.4L424.2 1521.4L427.6 1523.3L431.0 1525.2L434.3 1526.8L437.5 1528.2L440.5 1529.5L443.5 1530.5L446.3 1531.5L449.2 1532.3L451.9 1533.0L454.7 1533.6L457.3 1534.1L459.8 1534.4L462.1 1534.5L464.3 1534.5L466.2 1534.2L468.0 1533.8L469.6 1533.2L471.0 1532.4L472.3 1531.6L473.5 1530.6L474.7 1529.7L475.8 1528.6L476.9 1527.6L477.9 1526.5L478.9 1525.4L479.9 1524.2L480.8 1523.0L481.6 1521.8L482.4 1520.5L483.1 1519.2L483.8 1517.9L484.5 1516.5L485.1 1515.1L485.6 1513.7L486.1 1512.3L486.5 1510.8L486.9 1509.4L487.1 1507.9L487.3 1506.3L487.4 1504.7L487.2 1503.0L486.8 1501.2L486.1 1499.3L485.2 1497.3L484.0 1495.2L482.7 1493.1L481.1 1490.9L479.3 1488.7L477.5 1486.5L475.5 1484.3L473.4 1482.1L471.1 1479.9L468.7 1477.7L466.0 1475.4L463.0 1473.1L459.8 1470.9L456.6 1468.6L453.4 1466.5L450.5 1464.5L447.9 1462.6L445.7 1461.0L443.8 1459.4L442.2 1458.0L440.7 1456.6L439.3 1455.3L438.0 1454.1L436.8 1452.8L435.7 1451.7L434.7 1450.6L433.8 1449.5L433.1 1448.5L432.5 1447.5L432.0 1446.6L431.6 1445.7L431.3 1444.8L431.0 1443.9L430.8 1443.0L430.7 1442.2L430.6 1441.3L430.5 1440.5L430.4 1439.7L430.3 1438.8L430.3 1438.0L430.3 1437.2L430.3 1436.4L430.3 1435.6L430.3 1434.8L430.3 1434.0L430.3 1433.1L430.4 1432.3L430.4 1431.5L430.5 1430.7Z" stroke="rgb(22,22,22)" stroke-width="8.5" style="mix-blend-mode:plus-lighter"/>
<path d="M430.6 1429.9L430.7 1429.1L430.8 1428.3L430.9 1427.5L431.1 1426.6L431.2 1425.8L431.4 1425.0L431.6 1424.1L431.9 1423.3L432.2 1422.4L432.6 1421.6L433.1 1420.7L433.7 1419.8L434.4 1418.8L435.3 1417.9L436.2 1416.9L437.3 1415.9L438.6 1414.8L439.9 1413.7L441.3 1412.5L442.8 1411.3L444.4 1410.1L446.2 1408.7L448.3 1407.3L450.7 1405.8L453.5 1404.2L456.6 1402.4L460.0 1400.5L463.4 1398.5L466.7 1396.5L469.8 1394.4L472.6 1392.4L475.2 1390.4L477.6 1388.4L479.8 1386.4L482.0 1384.3L484.0 1382.3L485.9 1380.2L487.6 1378.2L489.1 1376.2L490.4 1374.2L491.4 1372.3L492.2 1370.5L492.6 1368.7L492.9 1367.1L493.0 1365.5L492.9 1363.9L492.7 1362.4L492.4 1360.9L492.1 1359.4L491.8 1357.9L491.3 1356.5L490.8 1355.1L490.3 1353.7L489.7 1352.3L489.1 1350.9L488.4 1349.6L487.6 1348.3L486.8 1347.1L486.0 1345.8L485.1 1344.7L484.1 1343.5L483.1 1342.4L482.0 1341.3L480.9 1340.2L479.8 1339.2L478.5 1338.3L477.1 1337.4L475.6 1336.7L473.8 1336.1L471.8 1335.8L469.6 1335.6L467.3 1335.5L464.7 1335.7L462.1 1336.0L459.3 1336.4L456.4 1336.9L453.5 1337.5L450.6 1338.2L447.5 1339.1L444.4 1340.1L441.1 1341.3L437.7 1342.7L434.1 1344.4L430.5 1346.0L427.1 1347.7L423.9 1349.2L421.0 1350.6L418.4 1351.6L416.2 1352.5L414.1 1353.2L412.2 1353.8L410.4 1354.4L408.6 1354.9L407.0 1355.3L405.4 1355.7L404.0 1356.0L402.6 1356.2L401.3 1356.3L400.2 1356.4L399.1 1356.3L398.1 1356.2L397.2 1356.1L396.3 1355.8L395.5 1355.6L394.7 1355.3L393.9 1354.9L393.1 1354.6L392.4 1354.2L391.6 1353.9L390.9 1353.5L390.2 1353.1L389.5 1352.7L388.8 1352.3L388.1 1351.9L387.4 1351.5L386.7 1351.0L386.0 1350.6L385.3 1350.1L384.7 1349.7L384.0 1349.2L383.3 1348.7L382.7 1348.2L382.0 1347.7L381.4 1347.2L380.8 1346.6L380.1 1346.0L379.5 1345.4L378.9 1344.8L378.3 1344.1L377.8 1343.3L377.3 1342.4L376.8 1341.4L376.3 1340.4L375.9 1339.1L375.6 1337.8L375.2 1336.3L374.9 1334.7L374.6 1333.0L374.3 1331.2L374.0 1329.3L373.7 1327.3L373.5 1325.1L373.3 1322.6L373.2 1319.8L373.2 1316.5L373.2 1312.9L373.2 1309.0L373.2 1305.1L373.1 1301.2L372.9 1297.5L372.5 1294.1L372.1 1290.8L371.5 1287.7L370.9 1284.8L370.2 1281.9L369.4 1279.1L368.6 1276.5L367.7 1274.0L366.7 1271.7L365.7 1269.6L364.5 1267.7L363.3 1266.2L362.1 1264.9L360.7 1263.8L359.4 1262.9L358.0 1262.2L356.6 1261.6L355.1 1261.1L353.7 1260.6L352.2 1260.2L350.8 1259.9L349.3 1259.6L347.8 1259.4L346.3 1259.2L344.9 1259.1L343.4 1259.0L341.9 1259.0L340.4 1259.1L338.9 1259.2L337.4 1259.4L335.9 1259.6L334.4 1260.0L333.0 1260.3L331.5 1260.7L330.0 1261.2L328.6 1261.9L327.2 1262.7L325.8 1263.6L324.4 1264.9L323.1 1266.4L321.8 1268.2L320.6 1270.3L319.5 1272.5L318.4 1275.0L317.3 1277.6L316.4 1280.3L315.5 1283.1L314.6 1286.1L313.8 1289.1L313.1 1292.3L312.5 1295.8L312.1 1299.5L311.7 1303.4L311.3 1307.3L311.1 1311.1L310.8 1314.7L310.5 1317.8L310.1 1320.6L309.8 1323.0L309.3 1325.1L308.9 1327.1L308.5 1328.9L308.0 1330.7L307.6 1332.3L307.1 1333.9L306.7 1335.3L306.2 1336.6L305.7 1337.7L305.1 1338.8L304.6 1339.7L304.0 1340.5L303.3 1341.2L302.7 1341.8L302.1 1342.4L301.4 1343.0L300.7 1343.5L300.0 1344.0L299.4 1344.5L298.7 1344.9L298.0 1345.4L297.3 1345.8L296.6 1346.2L295.9 1346.6L295.2 1347.0L294.5 1347.4L293.7 1347.8L293.0 1348.2L292.3 1348.5L291.5 1348.9L290.8 1349.2L290.1 1349.5L289.3 1349.8L288.5 1350.1L287.7 1350.4L286.9 1350.7L286.1 1350.9L285.3 1351.2L284.4 1351.4L283.5 1351.5L282.6 1351.6L281.6 1351.6L280.5 1351.6L279.3 1351.4L278.1 1351.2L276.7 1350.8L275.3 1350.4L273.7 1349.8L272.1 1349.3L270.4 1348.6L268.6 1347.9L266.7 1347.1L264.7 1346.2L262.4 1345.2L259.9 1343.8L257.1 1342.2L253.9 1340.4L250.6 1338.4L247.2 1336.5L243.8 1334.6L240.5 1333.0L237.3 1331.6L234.3 1330.3L231.3 1329.3L228.5 1328.3L225.6 1327.5L222.9 1326.8L220.1 1326.2L217.5 1325.7L215.0 1325.4L212.7 1325.3L210.5 1325.3L208.6 1325.6L206.8 1326.0L205.2 1326.6L203.8 1327.4L202.5 1328.2L201.3 1329.2L200.1 1330.1L199.0 1331.2L197.9 1332.2L196.9 1333.3L195.9 1334.4L194.9 1335.6L194.0 1336.8L193.2 1338.0L192.4 1339.3L191.7 1340.6L191.0 1341.9L190.3 1343.3L189.7 1344.7L189.2 1346.1L188.7 1347.5L188.3 1349.0L187.9 1350.4L187.7 1351.9L187.5 1353.5L187.4 1355.1L187.6 1356.8L188.0 1358.6L188.7 1360.5L189.6 1362.5L190.8 1364.6L192.1 1366.7L193.7 1368.9L195.5 1371.1L197.3 1373.3L199.3 1375.5L201.4 1377.7L203.7 1379.9L206.1 1382.1L208.8 1384.4L211.8 1386.7L215.0 1388.9L218.2 1391.2L221.4 1393.3L224.3 1395.3L226.9 1397.2L229.1 1398.8L231.0 1400.4L232.6 1401.8L234.1 1403.2L235.5 1404.5L236.8 1405.7L238.0 1407.0L239.1 1408.1L240.1 1409.2L241.0 1410.3L241.7 1411.3L242.3 1412.3L242.8 1413.2L243.2 1414.1L243.5 1415.0L243.8 1415.9L244.0 1416.8L244.1 1417.6L244.2 1418.5L244.3 1419.3L244.4 1420.1L244.5 1421.0L244.5 1421.8L244.5 1422.6L244.5 1423.4L244.5 1424.2L244.5 1425.0L244.5 1425.8L244.5 1426.7L244.4 1427.5L244.4 1428.3L244.3 1429.1L244.2 1429.9L244.1 1430.7L244.0 1431.5L243.9 1432.3L243.7 1433.2L243.6 1434.0L243.4 1434.8L243.2 1435.7L242.9 1436.5L242.6 1437.4L242.2 1438.2L241.7 1439.1L241.1 1440.0L240.4 1441.0L239.5 1441.9L238.6 1442.9L237.5 1443.9L236.2 1445.0L234.9 1446.1L233.5 1447.3L232.0 1448.5L230.4 1449.7L228.6 1451.1L226.5 1452.5L224.1 1454.0L221.3 1455.6L218.2 1457.4L214.8 1459.3L211.4 1461.3L208.1 1463.3L205.0 1465.4L202.2 1467.4L199.6 1469.4L197.2 1471.4L195.0 1473.4L192.8 1475.5L190.8 1477.5L188.9 1479.6L187.2 1481.6L185.7 1483.6L184.4 1485.6L183.4 1487.5L182.6 1489.3L182.2 1491.1L181.9 1492.7L181.8 1494.3L181.9 1495.9L182.1 1497.4L182.4 1498.9L182.7 1500.4L183.0 1501.9L183.5 1503.3L184.0 1504.7L184.5 1506.1L185.1 1507.5L185.7 1508.9L186.4 1510.2L187.2 1511.5L188.0 1512.7L188.8 1514.0L189.7 1515.1L190.7 1516.3L191.7 1517.4L192.8 1518.5L193.9 1519.6L195.0 1520.6L196.3 1521.5L197.7 1522.4L199.2 1523.1L201.0 1523.7L203.0 1524.0L205.2 1524.2L207.5 1524.3L210.1 1524.1L212.7 1523.8L215.5 1523.4L218.4 1522.9L221.3 1522.3L224.2 1521.6L227.3 1520.7L230.4 1519.7L233.7 1518.5L237.1 1517.1L240.7 1515.4L244.3 1513.8L247.7 1512.1L250.9 1510.6L253.8 1509.2L256.4 1508.2L258.6 1507.3L260.7 1506.6L262.6 1506.0L264.4 1505.4L266.2 1504.9L267.8 1504.5L269.4 1504.1L270.8 1503.8L272.2 1503.6L273.5 1503.5L274.6 1503.4L275.7 1503.5L276.7 1503.6L277.6 1503.7L278.5 1504.0L279.3 1504.2L280.1 1504.5L280.9 1504.9L281.7 1505.2L282.4 1505.6L283.2 1505.9L283.9 1506.3L284.6 1506.7L285.3 1507.1L286.0 1507.5L286.7 1507.9L287.4 1508.3L288.1 1508.8L288.8 1509.2L289.5 1509.7L290.1 1510.1L290.8 1510.6L291.5 1511.1L292.1 1511.6L292.8 1512.1L293.4 1512.6L294.0 1513.2L294.7 1513.8L295.3 1514.4L295.9 1515.0L296.5 1515.7L297.0 1516.5L297.5 1517.4L298.0 1518.4L298.5 1519.4L298.9 1520.7L299.2 1522.0L299.6 1523.5L299.9 1525.1L300.2 1526.8L300.5 1528.6L300.8 1530.5L301.1 1532.5L301.3 1534.7L301.5 1537.2L301.6 1540.0L301.6 1543.3L301.6 1546.9L301.6 1550.8L301.6 1554.7L301.7 1558.6L301.9 1562.3L302.3 1565.7L302.7 1569.0L303.3 1572.1L303.9 1575.0L304.6 1577.9L305.4 1580.7L306.2 1583.3L307.1 1585.8L308.1 1588.1L309.1 1590.2L310.3 1592.1L311.5 1593.6L312.7 1594.9L314.1 1596.0L315.4 1596.9L316.8 1597.6L318.2 1598.2L319.7 1598.7L321.1 1599.2L322.6 1599.6L324.0 1599.9L325.5 1600.2L327.0 1600.4L328.5 1600.6L329.9 1600.7L331.4 1600.8L332.9 1600.8L334.4 1600.7L335.9 1600.6L337.4 1600.4L338.9 1600.2L340.4 1599.8L341.8 1599.5L343.3 1599.1L344.8 1598.6L346.2 1597.9L347.6 1597.1L349.0 1596.2L350.4 1594.9L351.7 1593.4L353.0 1591.6L354.2 1589.5L355.3 1587.3L356.4 1584.8L357.5 1582.2L358.4 1579.5L359.3 1576.7L360.2 1573.7L361.0 1570.7L361.7 1567.5L362.3 1564.0L362.7 1560.3L363.1 1556.4L363.5 1552.5L363.7 1548.7L364.0 1545.1L364.3 1542.0L364.7 1539.2L365.0 1536.8L365.5 1534.7L365.9 1532.7L366.3 1530.9L366.8 1529.1L367.2 1527.5L367.7 1525.9L368.1 1524.5L368.6 1523.2L369.1 1522.1L369.7 1521.0L370.2 1520.1L370.8 1519.3L371.5 1518.6L372.1 1518.0L372.7 1517.4L373.4 1516.8L374.1 1516.3L374.8 1515.8L375.4 1515.3L376.1 1514.9L376.8 1514.4L377.5 1514.0L378.2 1513.6L378.9 1513.2L379.6 1512.8L380.3 1512.4L381.1 1512.0L381.8 1511.6L382.5 1511.3L383.3 1510.9L384.0 1510.6L384.7 1510.3L385.5 1510.0L386.3 1509.7L387.1 1509.4L387.9 1509.1L388.7 1508.9L389.5 1508.6L390.4 1508.4L391.3 1508.3L392.2 1508.2L393.2 1508.2L394.3 1508.2L395.5 1508.4L396.7 1508.6L398.1 1509.0L399.5 1509.4L401.1 1510.0L402.7 1510.5L404.4 1511.2L406.2 1511.9L408.1 1512.7L410.1 1513.6L412.4 1514.6L414.9 1516.0L417.7 1517.6L420.9 1519.4L424.2 1521.4L427.6 1523.3L431.0 1525.2L434.3 1526.8L437.5 1528.2L440.5 1529.5L443.5 1530.5L446.3 1531.5L449.2 1532.3L451.9 1533.0L454.7 1533.6L457.3 1534.1L459.8 1534.4L462.1 1534.5L464.3 1534.5L466.2 1534.2L468.0 1533.8L469.6 1533.2L471.0 1532.4L472.3 1531.6L473.5 1530.6L474.7 1529.7L475.8 1528.6L476.9 1527.6L477.9 1526.5L478.9 1525.4L479.9 1524.2L480.8 1523.0L481.6 1521.8L482.4 1520.5L483.1 1519.2L483.8 1517.9L484.5 1516.5L485.1 1515.1L485.6 1513.7L486.1 1512.3L486.5 1510.8L486.9 1509.4L487.1 1507.9L487.3 1506.3L487.4 1504.7L487.2 1503.0L486.8 1501.2L486.1 1499.3L485.2 1497.3L484.0 1495.2L482.7 1493.1L481.1 1490.9L479.3 1488.7L477.5 1486.5L475.5 1484.3L473.4 1482.1L471.1 1479.9L468.7 1477.7L466.0 1475.4L463.0 1473.1L459.8 1470.9L456.6 1468.6L453.4 1466.5L450.5 1464.5L447.9 1462.6L445.7 1461.0L443.8 1459.4L442.2 1458.0L440.7 1456.6L439.3 1455.3L438.0 1454.1L436.8 1452.8L435.7 1451.7L434.7 1450.6L433.8 1449.5L433.1 1448.5L432.5 1447.5L432.0 1446.6L431.6 1445.7L431.3 1444.8L431.0 1443.9L430.8 1443.0L430.7 1442.2L430.6 1441.3L430.5 1440.5L430.4 1439.7L430.3 1438.8L430.3 1438.0L430.3 1437.2L430.3 1436.4L430.3 1435.6L430.3 1434.8L430.3 1434.0L430.3 1433.1L430.4 1432.3L430.4 1431.5L430.5 1430.7Z" stroke="rgb(108,108,108)" stroke-width="3.3" style="mix-blend-mode:plus-lighter"/>
<path d="M543.1 1429.9L545.6 1426.3L548.0 1422.5L550.2 1418.7L552.3 1414.9L554.1 1410.9L555.8 1406.9L557.3 1402.9L558.6 1398.8L559.7 1394.7L560.5 1390.6L561.2 1386.4L561.7 1382.2L562.0 1378.0L562.1 1373.9L562.1 1369.7L561.8 1365.6L561.3 1361.4L560.7 1357.4L559.8 1353.3L558.8 1349.3L557.7 1345.3L556.3 1341.4L554.9 1337.6L553.2 1333.8L551.4 1330.1L549.5 1326.5L547.4 1322.9L545.2 1319.4L542.9 1316.0L540.4 1312.7L537.8 1309.5L535.1 1306.3L532.3 1303.3L529.4 1300.4L526.4 1297.5L523.3 1294.8L520.1 1292.2L516.8 1289.7L513.4 1287.4L510.0 1285.1L506.4 1283.0L502.8 1281.0L499.1 1279.1L495.3 1277.4L491.5 1275.8L487.6 1274.4L483.6 1273.1L479.6 1271.9L475.6 1270.9L471.5 1270.1L467.4 1269.4L463.3 1268.8L459.1 1268.4L454.9 1268.1L450.8 1268.0L446.6 1268.1L442.4 1268.2L438.2 1268.5L434.1 1269.0L430.0 1269.6L425.9 1270.3L421.9 1271.1L417.9 1272.0L413.9 1273.0L410.1 1274.1L406.2 1275.3L402.5 1276.5L398.8 1277.8L395.3 1279.1L391.8 1280.5L388.4 1281.9L385.0 1283.3L381.8 1284.7L378.7 1286.0L375.6 1287.3L372.6 1288.6L369.7 1289.8L366.9 1290.9L364.2 1292.0L361.6 1292.9L359.0 1293.7L356.4 1294.5L354.0 1295.0L351.5 1295.5L349.1 1295.8L346.8 1296.0L344.4 1296.0L342.1 1295.8L339.7 1295.6L337.4 1295.1L335.0 1294.5L332.6 1293.7L330.2 1292.8L327.7 1291.8L325.2 1290.6L322.6 1289.3L320.0 1287.8L317.2 1286.3L314.4 1284.6L311.5 1282.9L308.5 1281.1L305.4 1279.2L302.2 1277.3L298.9 1275.4L295.5 1273.4L292.0 1271.5L288.4 1269.5L284.7 1267.6L280.9 1265.7L277.0 1263.9L273.0 1262.2L269.0 1260.5L264.8 1258.9L260.6 1257.5L256.4 1256.2L252.1 1255.0L247.7 1253.9L243.4 1253.0L239.0 1252.3L234.6 1251.8L230.1 1251.4L225.7 1251.2L221.3 1251.2L217.0 1251.3L212.6 1251.7L208.3 1252.2L204.1 1253.0L199.9 1253.9L195.8 1255.0L191.8 1256.3L187.8 1257.8L183.9 1259.5L180.2 1261.3L176.5 1263.3L172.9 1265.4L169.5 1267.8L166.2 1270.2L162.9 1272.8L159.8 1275.6L156.9 1278.4L154.0 1281.4L151.3 1284.5L148.7 1287.7L146.3 1291.0L144.0 1294.5L141.8 1297.9L139.7 1301.5L137.8 1305.2L136.0 1308.9L134.4 1312.7L132.9 1316.5L131.5 1320.4L130.3 1324.4L129.2 1328.4L128.3 1332.4L127.5 1336.4L126.8 1340.5L126.3 1344.6L125.9 1348.7L125.7 1352.9L125.7 1357.0L125.8 1361.1L126.0 1365.3L126.4 1369.4L126.9 1373.5L127.6 1377.6L128.5 1381.7L129.5 1385.7L130.6 1389.7L131.9 1393.7L133.4 1397.6L134.9 1401.4L136.7 1405.3L138.5 1409.0L140.5 1412.7L142.7 1416.3L144.9 1419.8L147.2 1423.3L149.7 1426.6L152.3 1429.9L154.9 1433.1L157.6 1436.2L160.4 1439.2L163.3 1442.1L166.1 1444.9L169.1 1447.6L172.0 1450.2L175.0 1452.7L177.9 1455.2L180.8 1457.5L183.7 1459.8L186.6 1462.0L189.4 1464.1L192.2 1466.1L194.8 1468.1L197.4 1470.0L199.9 1471.9L202.3 1473.8L204.5 1475.6L206.7 1477.5L208.7 1479.3L210.6 1481.1L212.3 1483.0L213.9 1484.9L215.4 1486.8L216.7 1488.8L217.9 1490.8L219.0 1492.9L219.9 1495.0L220.7 1497.3L221.3 1499.7L221.9 1502.1L222.3 1504.7L222.6 1507.3L222.8 1510.1L223.0 1513.0L223.1 1516.0L223.1 1519.2L223.1 1522.4L223.1 1525.8L223.0 1529.3L222.9 1533.0L222.9 1536.7L222.9 1540.5L222.9 1544.4L222.9 1548.5L223.0 1552.6L223.2 1556.7L223.5 1560.9L223.9 1565.2L224.3 1569.5L224.9 1573.9L225.6 1578.2L226.5 1582.6L227.5 1586.9L228.6 1591.2L229.8 1595.5L231.3 1599.8L232.8 1603.9L234.6 1608.0L236.4 1612.1L238.5 1616.0L240.6 1619.8L243.0 1623.5L245.5 1627.1L248.1 1630.5L250.8 1633.8L253.7 1637.0L256.8 1640.0L259.9 1642.8L263.2 1645.5L266.5 1648.0L270.0 1650.4L273.6 1652.5L277.2 1654.6L280.9 1656.4L284.7 1658.0L288.6 1659.5L292.5 1660.8L296.5 1662.0L300.5 1662.9L304.5 1663.7L308.6 1664.4L312.7 1664.8L316.8 1665.2L320.9 1665.3L325.1 1665.3L329.2 1665.1L333.3 1664.8L337.4 1664.3L341.5 1663.7L345.5 1662.9L349.6 1662.0L353.6 1661.0L357.5 1659.8L361.4 1658.4L365.3 1657.0L369.1 1655.4L372.8 1653.6L376.5 1651.7L380.1 1649.7L383.7 1647.6L387.1 1645.3L390.5 1642.9L393.8 1640.4L397.0 1637.7L400.1 1635.0L403.1 1632.1L406.0 1629.1L408.8 1626.0L411.4 1622.8L414.0 1619.5L416.4 1616.1L418.7 1612.6L420.9 1609.0L423.0 1605.4L424.9 1601.7L426.7 1597.9L428.4 1594.1L430.0 1590.2L431.4 1586.4L432.7 1582.5L433.9 1578.5L435.0 1574.6L436.0 1570.7L436.9 1566.8L437.7 1563.0L438.4 1559.2L439.0 1555.4L439.6 1551.7L440.1 1548.0L440.6 1544.5L441.0 1541.0L441.4 1537.6L441.8 1534.3L442.2 1531.1L442.6 1528.0L443.0 1525.0L443.4 1522.1L444.0 1519.3L444.5 1516.7L445.2 1514.1L445.9 1511.7L446.7 1509.3L447.7 1507.1L448.7 1505.0L449.9 1502.9L451.2 1501.0L452.6 1499.1L454.1 1497.3L455.8 1495.6L457.7 1493.9L459.7 1492.2L461.8 1490.6L464.1 1489.0L466.6 1487.4L469.2 1485.8L471.9 1484.2L474.7 1482.6L477.6 1480.9L480.7 1479.2L483.9 1477.5L487.1 1475.7L490.5 1473.8L493.9 1471.8L497.3 1469.8L500.8 1467.6L504.3 1465.4L507.8 1463.0L511.4 1460.6L514.9 1458.0L518.3 1455.3L521.7 1452.5L525.1 1449.6L528.4 1446.6L531.5 1443.5L534.6 1440.2L537.6 1436.9L540.4 1433.4Z" stroke="rgb(22,22,22)" stroke-width="8.5" style="mix-blend-mode:plus-lighter"/>
<path d="M543.1 1429.9L545.6 1426.3L548.0 1422.5L550.2 1418.7L552.3 1414.9L554.1 1410.9L555.8 1406.9L557.3 1402.9L558.6 1398.8L559.7 1394.7L560.5 1390.6L561.2 1386.4L561.7 1382.2L562.0 1378.0L562.1 1373.9L562.1 1369.7L561.8 1365.6L561.3 1361.4L560.7 1357.4L559.8 1353.3L558.8 1349.3L557.7 1345.3L556.3 1341.4L554.9 1337.6L553.2 1333.8L551.4 1330.1L549.5 1326.5L547.4 1322.9L545.2 1319.4L542.9 1316.0L540.4 1312.7L537.8 1309.5L535.1 1306.3L532.3 1303.3L529.4 1300.4L526.4 1297.5L523.3 1294.8L520.1 1292.2L516.8 1289.7L513.4 1287.4L510.0 1285.1L506.4 1283.0L502.8 1281.0L499.1 1279.1L495.3 1277.4L491.5 1275.8L487.6 1274.4L483.6 1273.1L479.6 1271.9L475.6 1270.9L471.5 1270.1L467.4 1269.4L463.3 1268.8L459.1 1268.4L454.9 1268.1L450.8 1268.0L446.6 1268.1L442.4 1268.2L438.2 1268.5L434.1 1269.0L430.0 1269.6L425.9 1270.3L421.9 1271.1L417.9 1272.0L413.9 1273.0L410.1 1274.1L406.2 1275.3L402.5 1276.5L398.8 1277.8L395.3 1279.1L391.8 1280.5L388.4 1281.9L385.0 1283.3L381.8 1284.7L378.7 1286.0L375.6 1287.3L372.6 1288.6L369.7 1289.8L366.9 1290.9L364.2 1292.0L361.6 1292.9L359.0 1293.7L356.4 1294.5L354.0 1295.0L351.5 1295.5L349.1 1295.8L346.8 1296.0L344.4 1296.0L342.1 1295.8L339.7 1295.6L337.4 1295.1L335.0 1294.5L332.6 1293.7L330.2 1292.8L327.7 1291.8L325.2 1290.6L322.6 1289.3L320.0 1287.8L317.2 1286.3L314.4 1284.6L311.5 1282.9L308.5 1281.1L305.4 1279.2L302.2 1277.3L298.9 1275.4L295.5 1273.4L292.0 1271.5L288.4 1269.5L284.7 1267.6L280.9 1265.7L277.0 1263.9L273.0 1262.2L269.0 1260.5L264.8 1258.9L260.6 1257.5L256.4 1256.2L252.1 1255.0L247.7 1253.9L243.4 1253.0L239.0 1252.3L234.6 1251.8L230.1 1251.4L225.7 1251.2L221.3 1251.2L217.0 1251.3L212.6 1251.7L208.3 1252.2L204.1 1253.0L199.9 1253.9L195.8 1255.0L191.8 1256.3L187.8 1257.8L183.9 1259.5L180.2 1261.3L176.5 1263.3L172.9 1265.4L169.5 1267.8L166.2 1270.2L162.9 1272.8L159.8 1275.6L156.9 1278.4L154.0 1281.4L151.3 1284.5L148.7 1287.7L146.3 1291.0L144.0 1294.5L141.8 1297.9L139.7 1301.5L137.8 1305.2L136.0 1308.9L134.4 1312.7L132.9 1316.5L131.5 1320.4L130.3 1324.4L129.2 1328.4L128.3 1332.4L127.5 1336.4L126.8 1340.5L126.3 1344.6L125.9 1348.7L125.7 1352.9L125.7 1357.0L125.8 1361.1L126.0 1365.3L126.4 1369.4L126.9 1373.5L127.6 1377.6L128.5 1381.7L129.5 1385.7L130.6 1389.7L131.9 1393.7L133.4 1397.6L134.9 1401.4L136.7 1405.3L138.5 1409.0L140.5 1412.7L142.7 1416.3L144.9 1419.8L147.2 1423.3L149.7 1426.6L152.3 1429.9L154.9 1433.1L157.6 1436.2L160.4 1439.2L163.3 1442.1L166.1 1444.9L169.1 1447.6L172.0 1450.2L175.0 1452.7L177.9 1455.2L180.8 1457.5L183.7 1459.8L186.6 1462.0L189.4 1464.1L192.2 1466.1L194.8 1468.1L197.4 1470.0L199.9 1471.9L202.3 1473.8L204.5 1475.6L206.7 1477.5L208.7 1479.3L210.6 1481.1L212.3 1483.0L213.9 1484.9L215.4 1486.8L216.7 1488.8L217.9 1490.8L219.0 1492.9L219.9 1495.0L220.7 1497.3L221.3 1499.7L221.9 1502.1L222.3 1504.7L222.6 1507.3L222.8 1510.1L223.0 1513.0L223.1 1516.0L223.1 1519.2L223.1 1522.4L223.1 1525.8L223.0 1529.3L222.9 1533.0L222.9 1536.7L222.9 1540.5L222.9 1544.4L222.9 1548.5L223.0 1552.6L223.2 1556.7L223.5 1560.9L223.9 1565.2L224.3 1569.5L224.9 1573.9L225.6 1578.2L226.5 1582.6L227.5 1586.9L228.6 1591.2L229.8 1595.5L231.3 1599.8L232.8 1603.9L234.6 1608.0L236.4 1612.1L238.5 1616.0L240.6 1619.8L243.0 1623.5L245.5 1627.1L248.1 1630.5L250.8 1633.8L253.7 1637.0L256.8 1640.0L259.9 1642.8L263.2 1645.5L266.5 1648.0L270.0 1650.4L273.6 1652.5L277.2 1654.6L280.9 1656.4L284.7 1658.0L288.6 1659.5L292.5 1660.8L296.5 1662.0L300.5 1662.9L304.5 1663.7L308.6 1664.4L312.7 1664.8L316.8 1665.2L320.9 1665.3L325.1 1665.3L329.2 1665.1L333.3 1664.8L337.4 1664.3L341.5 1663.7L345.5 1662.9L349.6 1662.0L353.6 1661.0L357.5 1659.8L361.4 1658.4L365.3 1657.0L369.1 1655.4L372.8 1653.6L376.5 1651.7L380.1 1649.7L383.7 1647.6L387.1 1645.3L390.5 1642.9L393.8 1640.4L397.0 1637.7L400.1 1635.0L403.1 1632.1L406.0 1629.1L408.8 1626.0L411.4 1622.8L414.0 1619.5L416.4 1616.1L418.7 1612.6L420.9 1609.0L423.0 1605.4L424.9 1601.7L426.7 1597.9L428.4 1594.1L430.0 1590.2L431.4 1586.4L432.7 1582.5L433.9 1578.5L435.0 1574.6L436.0 1570.7L436.9 1566.8L437.7 1563.0L438.4 1559.2L439.0 1555.4L439.6 1551.7L440.1 1548.0L440.6 1544.5L441.0 1541.0L441.4 1537.6L441.8 1534.3L442.2 1531.1L442.6 1528.0L443.0 1525.0L443.4 1522.1L444.0 1519.3L444.5 1516.7L445.2 1514.1L445.9 1511.7L446.7 1509.3L447.7 1507.1L448.7 1505.0L449.9 1502.9L451.2 1501.0L452.6 1499.1L454.1 1497.3L455.8 1495.6L457.7 1493.9L459.7 1492.2L461.8 1490.6L464.1 1489.0L466.6 1487.4L469.2 1485.8L471.9 1484.2L474.7 1482.6L477.6 1480.9L480.7 1479.2L483.9 1477.5L487.1 1475.7L490.5 1473.8L493.9 1471.8L497.3 1469.8L500.8 1467.6L504.3 1465.4L507.8 1463.0L511.4 1460.6L514.9 1458.0L518.3 1455.3L521.7 1452.5L525.1 1449.6L528.4 1446.6L531.5 1443.5L534.6 1440.2L537.6 1436.9L540.4 1433.4Z" stroke="rgb(108,108,108)" stroke-width="3.3" style="mix-blend-mode:plus-lighter"/>
<path d="M522.5 1429.9L519.9 1426.7L517.2 1423.6L514.4 1420.6L511.5 1417.7L508.7 1414.9L505.7 1412.2L502.8 1409.6L499.8 1407.1L496.9 1404.6L494.0 1402.3L491.1 1400.0L488.2 1397.8L485.4 1395.7L482.6 1393.7L480.0 1391.7L477.4 1389.8L474.9 1387.9L472.5 1386.0L470.3 1384.2L468.1 1382.3L466.1 1380.5L464.2 1378.7L462.5 1376.8L460.9 1374.9L459.4 1373.0L458.1 1371.0L456.9 1369.0L455.8 1366.9L454.9 1364.8L454.1 1362.5L453.5 1360.1L452.9 1357.7L452.5 1355.1L452.2 1352.5L452.0 1349.7L451.8 1346.8L451.7 1343.8L451.7 1340.6L451.7 1337.4L451.7 1334.0L451.8 1330.5L451.9 1326.8L451.9 1323.1L451.9 1319.3L451.9 1315.4L451.9 1311.3L451.8 1307.2L451.6 1303.1L451.3 1298.9L450.9 1294.6L450.5 1290.3L449.9 1285.9L449.2 1281.6L448.3 1277.2L447.3 1272.9L446.2 1268.6L445.0 1264.3L443.5 1260.0L442.0 1255.9L440.2 1251.8L438.4 1247.7L436.3 1243.8L434.2 1240.0L431.8 1236.3L429.3 1232.7L426.7 1229.3L424.0 1226.0L421.1 1222.8L418.0 1219.8L414.9 1217.0L411.6 1214.3L408.3 1211.8L404.8 1209.4L401.2 1207.3L397.6 1205.2L393.9 1203.4L390.1 1201.8L386.2 1200.3L382.3 1199.0L378.3 1197.8L374.3 1196.9L370.3 1196.1L366.2 1195.4L362.1 1195.0L358.0 1194.6L353.9 1194.5L349.7 1194.5L345.6 1194.7L341.5 1195.0L337.4 1195.5L333.3 1196.1L329.3 1196.9L325.2 1197.8L321.2 1198.8L317.3 1200.0L313.4 1201.4L309.5 1202.8L305.7 1204.4L302.0 1206.2L298.3 1208.1L294.7 1210.1L291.1 1212.2L287.7 1214.5L284.3 1216.9L281.0 1219.4L277.8 1222.1L274.7 1224.8L271.7 1227.7L268.8 1230.7L266.0 1233.8L263.4 1237.0L260.8 1240.3L258.4 1243.7L256.1 1247.2L253.9 1250.8L251.8 1254.4L249.9 1258.1L248.1 1261.9L246.4 1265.7L244.8 1269.6L243.4 1273.4L242.1 1277.3L240.9 1281.3L239.8 1285.2L238.8 1289.1L237.9 1293.0L237.1 1296.8L236.4 1300.6L235.8 1304.4L235.2 1308.1L234.7 1311.8L234.2 1315.3L233.8 1318.8L233.4 1322.2L233.0 1325.5L232.6 1328.7L232.2 1331.8L231.8 1334.8L231.4 1337.7L230.8 1340.5L230.3 1343.1L229.6 1345.7L228.9 1348.1L228.1 1350.5L227.1 1352.7L226.1 1354.8L224.9 1356.9L223.6 1358.8L222.2 1360.7L220.7 1362.5L219.0 1364.2L217.1 1365.9L215.1 1367.6L213.0 1369.2L210.7 1370.8L208.2 1372.4L205.6 1374.0L202.9 1375.6L200.1 1377.2L197.2 1378.9L194.1 1380.6L190.9 1382.3L187.7 1384.1L184.3 1386.0L180.9 1388.0L177.5 1390.0L174.0 1392.2L170.5 1394.4L167.0 1396.8L163.4 1399.2L159.9 1401.8L156.5 1404.5L153.1 1407.3L149.7 1410.2L146.4 1413.2L143.3 1416.3L140.2 1419.6L137.2 1422.9L134.4 1426.4L131.7 1429.9L129.2 1433.5L126.8 1437.3L124.6 1441.1L122.5 1444.9L120.7 1448.9L119.0 1452.9L117.5 1456.9L116.2 1461.0L115.1 1465.1L114.3 1469.2L113.6 1473.4L113.1 1477.6L112.8 1481.8L112.7 1485.9L112.7 1490.1L113.0 1494.2L113.5 1498.4L114.1 1502.4L115.0 1506.5L116.0 1510.5L117.1 1514.5L118.5 1518.4L119.9 1522.2L121.6 1526.0L123.4 1529.7L125.3 1533.3L127.4 1536.9L129.6 1540.4L131.9 1543.8L134.4 1547.1L137.0 1550.3L139.7 1553.5L142.5 1556.5L145.4 1559.4L148.4 1562.3L151.5 1565.0L154.7 1567.6L158.0 1570.1L161.4 1572.4L164.8 1574.7L168.4 1576.8L172.0 1578.8L175.7 1580.7L179.5 1582.4L183.3 1584.0L187.2 1585.4L191.2 1586.7L195.2 1587.9L199.2 1588.9L203.3 1589.7L207.4 1590.4L211.5 1591.0L215.7 1591.4L219.9 1591.7L224.0 1591.8L228.2 1591.7L232.4 1591.6L236.6 1591.3L240.7 1590.8L244.8 1590.2L248.9 1589.5L252.9 1588.7L256.9 1587.8L260.9 1586.8L264.7 1585.7L268.6 1584.5L272.3 1583.3L276.0 1582.0L279.5 1580.7L283.0 1579.3L286.4 1577.9L289.8 1576.5L293.0 1575.1L296.1 1573.8L299.2 1572.5L302.2 1571.2L305.1 1570.0L307.9 1568.9L310.6 1567.8L313.2 1566.9L315.8 1566.1L318.4 1565.3L320.8 1564.8L323.3 1564.3L325.7 1564.0L328.0 1563.8L330.4 1563.8L332.7 1564.0L335.1 1564.2L337.4 1564.7L339.8 1565.3L342.2 1566.1L344.6 1567.0L347.1 1568.0L349.6 1569.2L352.2 1570.5L354.8 1572.0L357.6 1573.5L360.4 1575.2L363.3 1576.9L366.3 1578.7L369.4 1580.6L372.6 1582.5L375.9 1584.4L379.3 1586.4L382.8 1588.3L386.4 1590.3L390.1 1592.2L393.9 1594.1L397.8 1595.9L401.8 1597.6L405.8 1599.3L410.0 1600.9L414.2 1602.3L418.4 1603.6L422.7 1604.8L427.1 1605.9L431.4 1606.8L435.8 1607.5L440.2 1608.0L444.7 1608.4L449.1 1608.6L453.5 1608.6L457.8 1608.5L462.2 1608.1L466.5 1607.6L470.7 1606.8L474.9 1605.9L479.0 1604.8L483.0 1603.5L487.0 1602.0L490.9 1600.3L494.6 1598.5L498.3 1596.5L501.9 1594.4L505.3 1592.0L508.6 1589.6L511.9 1587.0L515.0 1584.2L517.9 1581.4L520.8 1578.4L523.5 1575.3L526.1 1572.1L528.5 1568.8L530.8 1565.3L533.0 1561.9L535.1 1558.3L537.0 1554.6L538.8 1550.9L540.4 1547.1L541.9 1543.3L543.3 1539.4L544.5 1535.4L545.6 1531.4L546.5 1527.4L547.3 1523.4L548.0 1519.3L548.5 1515.2L548.9 1511.1L549.1 1506.9L549.1 1502.8L549.0 1498.7L548.8 1494.5L548.4 1490.4L547.9 1486.3L547.2 1482.2L546.3 1478.1L545.3 1474.1L544.2 1470.1L542.9 1466.1L541.4 1462.2L539.9 1458.4L538.1 1454.5L536.3 1450.8L534.3 1447.1L532.1 1443.5L529.9 1440.0L527.6 1436.5L525.1 1433.2Z" stroke="rgb(22,22,22)" stroke-width="8.5" style="mix-blend-mode:plus-lighter"/>
<path d="M522.5 1429.9L519.9 1426.7L517.2 1423.6L514.4 1420.6L511.5 1417.7L508.7 1414.9L505.7 1412.2L502.8 1409.6L499.8 1407.1L496.9 1404.6L494.0 1402.3L491.1 1400.0L488.2 1397.8L485.4 1395.7L482.6 1393.7L480.0 1391.7L477.4 1389.8L474.9 1387.9L472.5 1386.0L470.3 1384.2L468.1 1382.3L466.1 1380.5L464.2 1378.7L462.5 1376.8L460.9 1374.9L459.4 1373.0L458.1 1371.0L456.9 1369.0L455.8 1366.9L454.9 1364.8L454.1 1362.5L453.5 1360.1L452.9 1357.7L452.5 1355.1L452.2 1352.5L452.0 1349.7L451.8 1346.8L451.7 1343.8L451.7 1340.6L451.7 1337.4L451.7 1334.0L451.8 1330.5L451.9 1326.8L451.9 1323.1L451.9 1319.3L451.9 1315.4L451.9 1311.3L451.8 1307.2L451.6 1303.1L451.3 1298.9L450.9 1294.6L450.5 1290.3L449.9 1285.9L449.2 1281.6L448.3 1277.2L447.3 1272.9L446.2 1268.6L445.0 1264.3L443.5 1260.0L442.0 1255.9L440.2 1251.8L438.4 1247.7L436.3 1243.8L434.2 1240.0L431.8 1236.3L429.3 1232.7L426.7 1229.3L424.0 1226.0L421.1 1222.8L418.0 1219.8L414.9 1217.0L411.6 1214.3L408.3 1211.8L404.8 1209.4L401.2 1207.3L397.6 1205.2L393.9 1203.4L390.1 1201.8L386.2 1200.3L382.3 1199.0L378.3 1197.8L374.3 1196.9L370.3 1196.1L366.2 1195.4L362.1 1195.0L358.0 1194.6L353.9 1194.5L349.7 1194.5L345.6 1194.7L341.5 1195.0L337.4 1195.5L333.3 1196.1L329.3 1196.9L325.2 1197.8L321.2 1198.8L317.3 1200.0L313.4 1201.4L309.5 1202.8L305.7 1204.4L302.0 1206.2L298.3 1208.1L294.7 1210.1L291.1 1212.2L287.7 1214.5L284.3 1216.9L281.0 1219.4L277.8 1222.1L274.7 1224.8L271.7 1227.7L268.8 1230.7L266.0 1233.8L263.4 1237.0L260.8 1240.3L258.4 1243.7L256.1 1247.2L253.9 1250.8L251.8 1254.4L249.9 1258.1L248.1 1261.9L246.4 1265.7L244.8 1269.6L243.4 1273.4L242.1 1277.3L240.9 1281.3L239.8 1285.2L238.8 1289.1L237.9 1293.0L237.1 1296.8L236.4 1300.6L235.8 1304.4L235.2 1308.1L234.7 1311.8L234.2 1315.3L233.8 1318.8L233.4 1322.2L233.0 1325.5L232.6 1328.7L232.2 1331.8L231.8 1334.8L231.4 1337.7L230.8 1340.5L230.3 1343.1L229.6 1345.7L228.9 1348.1L228.1 1350.5L227.1 1352.7L226.1 1354.8L224.9 1356.9L223.6 1358.8L222.2 1360.7L220.7 1362.5L219.0 1364.2L217.1 1365.9L215.1 1367.6L213.0 1369.2L210.7 1370.8L208.2 1372.4L205.6 1374.0L202.9 1375.6L200.1 1377.2L197.2 1378.9L194.1 1380.6L190.9 1382.3L187.7 1384.1L184.3 1386.0L180.9 1388.0L177.5 1390.0L174.0 1392.2L170.5 1394.4L167.0 1396.8L163.4 1399.2L159.9 1401.8L156.5 1404.5L153.1 1407.3L149.7 1410.2L146.4 1413.2L143.3 1416.3L140.2 1419.6L137.2 1422.9L134.4 1426.4L131.7 1429.9L129.2 1433.5L126.8 1437.3L124.6 1441.1L122.5 1444.9L120.7 1448.9L119.0 1452.9L117.5 1456.9L116.2 1461.0L115.1 1465.1L114.3 1469.2L113.6 1473.4L113.1 1477.6L112.8 1481.8L112.7 1485.9L112.7 1490.1L113.0 1494.2L113.5 1498.4L114.1 1502.4L115.0 1506.5L116.0 1510.5L117.1 1514.5L118.5 1518.4L119.9 1522.2L121.6 1526.0L123.4 1529.7L125.3 1533.3L127.4 1536.9L129.6 1540.4L131.9 1543.8L134.4 1547.1L137.0 1550.3L139.7 1553.5L142.5 1556.5L145.4 1559.4L148.4 1562.3L151.5 1565.0L154.7 1567.6L158.0 1570.1L161.4 1572.4L164.8 1574.7L168.4 1576.8L172.0 1578.8L175.7 1580.7L179.5 1582.4L183.3 1584.0L187.2 1585.4L191.2 1586.7L195.2 1587.9L199.2 1588.9L203.3 1589.7L207.4 1590.4L211.5 1591.0L215.7 1591.4L219.9 1591.7L224.0 1591.8L228.2 1591.7L232.4 1591.6L236.6 1591.3L240.7 1590.8L244.8 1590.2L248.9 1589.5L252.9 1588.7L256.9 1587.8L260.9 1586.8L264.7 1585.7L268.6 1584.5L272.3 1583.3L276.0 1582.0L279.5 1580.7L283.0 1579.3L286.4 1577.9L289.8 1576.5L293.0 1575.1L296.1 1573.8L299.2 1572.5L302.2 1571.2L305.1 1570.0L307.9 1568.9L310.6 1567.8L313.2 1566.9L315.8 1566.1L318.4 1565.3L320.8 1564.8L323.3 1564.3L325.7 1564.0L328.0 1563.8L330.4 1563.8L332.7 1564.0L335.1 1564.2L337.4 1564.7L339.8 1565.3L342.2 1566.1L344.6 1567.0L347.1 1568.0L349.6 1569.2L352.2 1570.5L354.8 1572.0L357.6 1573.5L360.4 1575.2L363.3 1576.9L366.3 1578.7L369.4 1580.6L372.6 1582.5L375.9 1584.4L379.3 1586.4L382.8 1588.3L386.4 1590.3L390.1 1592.2L393.9 1594.1L397.8 1595.9L401.8 1597.6L405.8 1599.3L410.0 1600.9L414.2 1602.3L418.4 1603.6L422.7 1604.8L427.1 1605.9L431.4 1606.8L435.8 1607.5L440.2 1608.0L444.7 1608.4L449.1 1608.6L453.5 1608.6L457.8 1608.5L462.2 1608.1L466.5 1607.6L470.7 1606.8L474.9 1605.9L479.0 1604.8L483.0 1603.5L487.0 1602.0L490.9 1600.3L494.6 1598.5L498.3 1596.5L501.9 1594.4L505.3 1592.0L508.6 1589.6L511.9 1587.0L515.0 1584.2L517.9 1581.4L520.8 1578.4L523.5 1575.3L526.1 1572.1L528.5 1568.8L530.8 1565.3L533.0 1561.9L535.1 1558.3L537.0 1554.6L538.8 1550.9L540.4 1547.1L541.9 1543.3L543.3 1539.4L544.5 1535.4L545.6 1531.4L546.5 1527.4L547.3 1523.4L548.0 1519.3L548.5 1515.2L548.9 1511.1L549.1 1506.9L549.1 1502.8L549.0 1498.7L548.8 1494.5L548.4 1490.4L547.9 1486.3L547.2 1482.2L546.3 1478.1L545.3 1474.1L544.2 1470.1L542.9 1466.1L541.4 1462.2L539.9 1458.4L538.1 1454.5L536.3 1450.8L534.3 1447.1L532.1 1443.5L529.9 1440.0L527.6 1436.5L525.1 1433.2Z" stroke="rgb(108,108,108)" stroke-width="3.3" style="mix-blend-mode:plus-lighter"/>
</g></g></g>
<rect x="49.3" y="1285" width="14.4" height="275.6" fill="url(#cbE)" stroke="#222" stroke-width="0.7"/>
<path d="M63.7 1330.9h-3M63.7 1376.9h-3M63.7 1422.8h-3M63.7 1468.7h-3M63.7 1514.7h-3" stroke="#222" stroke-width="0.9"/>
<clipPath id="clipF"><rect x="692.7" y="1215" width="430.5999999999999" height="430.5999999999999"/></clipPath>
<g clip-path="url(#clipF)"><g filter="url(#cmap)">
<rect x="690.7" y="1213" width="434.5999999999999" height="434.5999999999999" fill="#000"/>
<g fill="none" stroke-linejoin="round">
<path d="M908.9 1410.8C907.9 1410.8 907.1 1410.1 906.0 1409.1C904.9 1408.1 903.7 1406.6 902.3 1404.9C900.8 1403.1 898.7 1400.6 897.2 1398.5C895.7 1396.4 894.4 1394.1 893.1 1392.2C891.9 1390.3 891.2 1388.8 889.7 1387.0C888.2 1385.1 885.6 1383.0 884.3 1381.1C883.0 1379.1 882.2 1377.3 881.8 1375.4C881.3 1373.4 881.4 1371.5 881.5 1369.3C881.6 1367.2 881.6 1364.6 882.2 1362.4C882.8 1360.2 883.5 1357.8 885.1 1356.1C886.7 1354.3 889.1 1353.0 891.9 1352.0C894.7 1351.0 898.6 1350.4 902.1 1350.0C905.6 1349.7 909.5 1349.7 913.1 1350.0C916.8 1350.3 920.6 1350.7 924.0 1351.6C927.5 1352.4 931.2 1353.6 933.8 1355.0C936.5 1356.3 938.6 1358.0 940.0 1359.9C941.4 1361.8 941.7 1364.3 942.0 1366.6C942.3 1368.8 942.0 1371.4 941.7 1373.6C941.5 1375.7 941.4 1377.6 940.6 1379.5C939.9 1381.4 938.9 1383.0 937.3 1384.8C935.8 1386.5 932.9 1388.2 931.2 1389.9C929.5 1391.5 928.5 1392.8 927.0 1394.6C925.5 1396.3 923.9 1398.4 922.1 1400.2C920.3 1402.1 917.9 1404.3 916.2 1405.8C914.5 1407.4 913.2 1408.7 912.0 1409.6C910.7 1410.4 909.9 1410.9 908.9 1410.8Z" stroke="rgb(22,22,22)" stroke-width="8.5" style="mix-blend-mode:plus-lighter"/>
<path d="M908.9 1410.8C907.9 1410.8 907.1 1410.1 906.0 1409.1C904.9 1408.1 903.7 1406.6 902.3 1404.9C900.8 1403.1 898.7 1400.6 897.2 1398.5C895.7 1396.4 894.4 1394.1 893.1 1392.2C891.9 1390.3 891.2 1388.8 889.7 1387.0C888.2 1385.1 885.6 1383.0 884.3 1381.1C883.0 1379.1 882.2 1377.3 881.8 1375.4C881.3 1373.4 881.4 1371.5 881.5 1369.3C881.6 1367.2 881.6 1364.6 882.2 1362.4C882.8 1360.2 883.5 1357.8 885.1 1356.1C886.7 1354.3 889.1 1353.0 891.9 1352.0C894.7 1351.0 898.6 1350.4 902.1 1350.0C905.6 1349.7 909.5 1349.7 913.1 1350.0C916.8 1350.3 920.6 1350.7 924.0 1351.6C927.5 1352.4 931.2 1353.6 933.8 1355.0C936.5 1356.3 938.6 1358.0 940.0 1359.9C941.4 1361.8 941.7 1364.3 942.0 1366.6C942.3 1368.8 942.0 1371.4 941.7 1373.6C941.5 1375.7 941.4 1377.6 940.6 1379.5C939.9 1381.4 938.9 1383.0 937.3 1384.8C935.8 1386.5 932.9 1388.2 931.2 1389.9C929.5 1391.5 928.5 1392.8 927.0 1394.6C925.5 1396.3 923.9 1398.4 922.1 1400.2C920.3 1402.1 917.9 1404.3 916.2 1405.8C914.5 1407.4 913.2 1408.7 912.0 1409.6C910.7 1410.4 909.9 1410.9 908.9 1410.8Z" stroke="rgb(108,108,108)" stroke-width="3.3" style="mix-blend-mode:plus-lighter"/>
<path d="M891.3 1419.4C890.8 1420.2 889.8 1420.6 888.4 1421.0C887.0 1421.5 885.1 1421.7 882.9 1422.1C880.6 1422.5 877.4 1423.1 874.8 1423.3C872.2 1423.6 869.6 1423.6 867.3 1423.7C865.0 1423.8 863.4 1423.7 861.0 1424.1C858.7 1424.4 855.6 1425.6 853.2 1425.8C850.9 1426.0 849.0 1425.7 847.1 1425.1C845.1 1424.5 843.5 1423.5 841.7 1422.3C839.9 1421.2 837.6 1419.9 836.0 1418.3C834.4 1416.6 832.7 1414.8 832.0 1412.6C831.3 1410.3 831.4 1407.6 831.9 1404.7C832.5 1401.7 833.8 1398.1 835.3 1394.9C836.7 1391.6 838.7 1388.3 840.8 1385.3C842.8 1382.2 845.1 1379.2 847.6 1376.6C850.0 1374.0 852.9 1371.4 855.4 1369.8C857.9 1368.2 860.4 1367.2 862.8 1367.0C865.1 1366.7 867.4 1367.6 869.6 1368.5C871.7 1369.4 873.7 1371.0 875.5 1372.3C877.2 1373.6 878.8 1374.6 880.1 1376.2C881.3 1377.8 882.3 1379.5 883.0 1381.7C883.7 1383.9 883.8 1387.3 884.3 1389.6C884.9 1391.9 885.6 1393.3 886.3 1395.5C887.1 1397.7 888.1 1400.1 888.8 1402.6C889.5 1405.1 890.2 1408.3 890.7 1410.5C891.2 1412.8 891.7 1414.6 891.8 1416.1C891.9 1417.5 891.9 1418.6 891.3 1419.4Z" stroke="rgb(22,22,22)" stroke-width="8.5" style="mix-blend-mode:plus-lighter"/>
<path d="M891.3 1419.4C890.8 1420.2 889.8 1420.6 888.4 1421.0C887.0 1421.5 885.1 1421.7 882.9 1422.1C880.6 1422.5 877.4 1423.1 874.8 1423.3C872.2 1423.6 869.6 1423.6 867.3 1423.7C865.0 1423.8 863.4 1423.7 861.0 1424.1C858.7 1424.4 855.6 1425.6 853.2 1425.8C850.9 1426.0 849.0 1425.7 847.1 1425.1C845.1 1424.5 843.5 1423.5 841.7 1422.3C839.9 1421.2 837.6 1419.9 836.0 1418.3C834.4 1416.6 832.7 1414.8 832.0 1412.6C831.3 1410.3 831.4 1407.6 831.9 1404.7C832.5 1401.7 833.8 1398.1 835.3 1394.9C836.7 1391.6 838.7 1388.3 840.8 1385.3C842.8 1382.2 845.1 1379.2 847.6 1376.6C850.0 1374.0 852.9 1371.4 855.4 1369.8C857.9 1368.2 860.4 1367.2 862.8 1367.0C865.1 1366.7 867.4 1367.6 869.6 1368.5C871.7 1369.4 873.7 1371.0 875.5 1372.3C877.2 1373.6 878.8 1374.6 880.1 1376.2C881.3 1377.8 882.3 1379.5 883.0 1381.7C883.7 1383.9 883.8 1387.3 884.3 1389.6C884.9 1391.9 885.6 1393.3 886.3 1395.5C887.1 1397.7 888.1 1400.1 888.8 1402.6C889.5 1405.1 890.2 1408.3 890.7 1410.5C891.2 1412.8 891.7 1414.6 891.8 1416.1C891.9 1417.5 891.9 1418.6 891.3 1419.4Z" stroke="rgb(108,108,108)" stroke-width="3.3" style="mix-blend-mode:plus-lighter"/>
<path d="M890.0 1438.8C890.4 1439.7 890.3 1440.8 889.9 1442.2C889.6 1443.7 888.9 1445.4 888.1 1447.6C887.3 1449.7 886.2 1452.7 885.1 1455.1C884.1 1457.5 882.7 1459.8 881.7 1461.8C880.7 1463.8 879.7 1465.2 878.9 1467.4C878.0 1469.6 877.5 1472.9 876.5 1475.0C875.5 1477.1 874.3 1478.7 872.8 1480.0C871.3 1481.4 869.6 1482.3 867.7 1483.3C865.8 1484.3 863.6 1485.6 861.3 1486.2C859.1 1486.8 856.7 1487.3 854.4 1486.8C852.1 1486.3 849.8 1484.9 847.5 1482.9C845.2 1481.0 842.7 1478.0 840.7 1475.1C838.6 1472.2 836.8 1468.9 835.1 1465.6C833.5 1462.3 832.1 1458.8 831.0 1455.4C830.0 1451.9 829.2 1448.2 829.1 1445.2C829.0 1442.2 829.3 1439.5 830.3 1437.4C831.3 1435.2 833.2 1433.7 835.0 1432.3C836.9 1430.9 839.2 1429.9 841.2 1429.0C843.2 1428.1 844.9 1427.3 846.9 1427.0C848.9 1426.7 850.9 1426.7 853.1 1427.2C855.4 1427.7 858.4 1429.3 860.6 1430.0C862.9 1430.7 864.5 1430.8 866.8 1431.2C869.0 1431.7 871.6 1432.0 874.2 1432.7C876.7 1433.3 879.8 1434.3 882.0 1435.0C884.2 1435.7 886.0 1436.2 887.3 1436.8C888.6 1437.5 889.5 1437.9 890.0 1438.8Z" stroke="rgb(22,22,22)" stroke-width="8.5" style="mix-blend-mode:plus-lighter"/>
<path d="M890.0 1438.8C890.4 1439.7 890.3 1440.8 889.9 1442.2C889.6 1443.7 888.9 1445.4 888.1 1447.6C887.3 1449.7 886.2 1452.7 885.1 1455.1C884.1 1457.5 882.7 1459.8 881.7 1461.8C880.7 1463.8 879.7 1465.2 878.9 1467.4C878.0 1469.6 877.5 1472.9 876.5 1475.0C875.5 1477.1 874.3 1478.7 872.8 1480.0C871.3 1481.4 869.6 1482.3 867.7 1483.3C865.8 1484.3 863.6 1485.6 861.3 1486.2C859.1 1486.8 856.7 1487.3 854.4 1486.8C852.1 1486.3 849.8 1484.9 847.5 1482.9C845.2 1481.0 842.7 1478.0 840.7 1475.1C838.6 1472.2 836.8 1468.9 835.1 1465.6C833.5 1462.3 832.1 1458.8 831.0 1455.4C830.0 1451.9 829.2 1448.2 829.1 1445.2C829.0 1442.2 829.3 1439.5 830.3 1437.4C831.3 1435.2 833.2 1433.7 835.0 1432.3C836.9 1430.9 839.2 1429.9 841.2 1429.0C843.2 1428.1 844.9 1427.3 846.9 1427.0C848.9 1426.7 850.9 1426.7 853.1 1427.2C855.4 1427.7 858.4 1429.3 860.6 1430.0C862.9 1430.7 864.5 1430.8 866.8 1431.2C869.0 1431.7 871.6 1432.0 874.2 1432.7C876.7 1433.3 879.8 1434.3 882.0 1435.0C884.2 1435.7 886.0 1436.2 887.3 1436.8C888.6 1437.5 889.5 1437.9 890.0 1438.8Z" stroke="rgb(108,108,108)" stroke-width="3.3" style="mix-blend-mode:plus-lighter"/>
<path d="M906.1 1449.8C907.1 1449.8 907.9 1450.5 909.0 1451.5C910.1 1452.5 911.3 1454.0 912.7 1455.7C914.2 1457.5 916.3 1460.0 917.8 1462.1C919.3 1464.2 920.6 1466.5 921.9 1468.4C923.1 1470.3 923.8 1471.8 925.3 1473.6C926.8 1475.5 929.4 1477.6 930.7 1479.5C932.0 1481.5 932.8 1483.3 933.2 1485.2C933.7 1487.2 933.6 1489.1 933.5 1491.3C933.4 1493.4 933.4 1496.0 932.8 1498.2C932.2 1500.4 931.5 1502.8 929.9 1504.5C928.3 1506.3 925.9 1507.6 923.1 1508.6C920.3 1509.6 916.4 1510.2 912.9 1510.6C909.4 1510.9 905.5 1510.9 901.9 1510.6C898.2 1510.3 894.4 1509.9 891.0 1509.0C887.5 1508.2 883.8 1507.0 881.2 1505.6C878.5 1504.3 876.4 1502.6 875.0 1500.7C873.6 1498.8 873.3 1496.3 873.0 1494.0C872.7 1491.8 873.0 1489.2 873.3 1487.0C873.5 1484.9 873.6 1483.0 874.4 1481.1C875.1 1479.2 876.1 1477.6 877.7 1475.8C879.2 1474.1 882.1 1472.4 883.8 1470.7C885.5 1469.1 886.5 1467.8 888.0 1466.0C889.5 1464.3 891.1 1462.2 892.9 1460.4C894.7 1458.5 897.1 1456.3 898.8 1454.8C900.5 1453.2 901.8 1451.9 903.0 1451.0C904.3 1450.2 905.1 1449.7 906.1 1449.8Z" stroke="rgb(22,22,22)" stroke-width="8.5" style="mix-blend-mode:plus-lighter"/>
<path d="M906.1 1449.8C907.1 1449.8 907.9 1450.5 909.0 1451.5C910.1 1452.5 911.3 1454.0 912.7 1455.7C914.2 1457.5 916.3 1460.0 917.8 1462.1C919.3 1464.2 920.6 1466.5 921.9 1468.4C923.1 1470.3 923.8 1471.8 925.3 1473.6C926.8 1475.5 929.4 1477.6 930.7 1479.5C932.0 1481.5 932.8 1483.3 933.2 1485.2C933.7 1487.2 933.6 1489.1 933.5 1491.3C933.4 1493.4 933.4 1496.0 932.8 1498.2C932.2 1500.4 931.5 1502.8 929.9 1504.5C928.3 1506.3 925.9 1507.6 923.1 1508.6C920.3 1509.6 916.4 1510.2 912.9 1510.6C909.4 1510.9 905.5 1510.9 901.9 1510.6C898.2 1510.3 894.4 1509.9 891.0 1509.0C887.5 1508.2 883.8 1507.0 881.2 1505.6C878.5 1504.3 876.4 1502.6 875.0 1500.7C873.6 1498.8 873.3 1496.3 873.0 1494.0C872.7 1491.8 873.0 1489.2 873.3 1487.0C873.5 1484.9 873.6 1483.0 874.4 1481.1C875.1 1479.2 876.1 1477.6 877.7 1475.8C879.2 1474.1 882.1 1472.4 883.8 1470.7C885.5 1469.1 886.5 1467.8 888.0 1466.0C889.5 1464.3 891.1 1462.2 892.9 1460.4C894.7 1458.5 897.1 1456.3 898.8 1454.8C900.5 1453.2 901.8 1451.9 903.0 1451.0C904.3 1450.2 905.1 1449.7 906.1 1449.8Z" stroke="rgb(108,108,108)" stroke-width="3.3" style="mix-blend-mode:plus-lighter"/>
<path d="M923.7 1441.2C924.2 1440.4 925.2 1440.0 926.6 1439.6C928.0 1439.1 929.9 1438.9 932.1 1438.5C934.4 1438.1 937.6 1437.5 940.2 1437.3C942.8 1437.0 945.4 1437.0 947.7 1436.9C950.0 1436.8 951.6 1436.9 954.0 1436.5C956.3 1436.2 959.4 1435.0 961.8 1434.8C964.1 1434.6 966.0 1434.9 967.9 1435.5C969.9 1436.1 971.5 1437.1 973.3 1438.3C975.1 1439.4 977.4 1440.7 979.0 1442.3C980.6 1444.0 982.3 1445.8 983.0 1448.0C983.7 1450.3 983.6 1453.0 983.1 1455.9C982.5 1458.9 981.2 1462.5 979.7 1465.7C978.3 1469.0 976.3 1472.3 974.2 1475.3C972.2 1478.4 969.9 1481.4 967.4 1484.0C965.0 1486.6 962.1 1489.2 959.6 1490.8C957.1 1492.4 954.6 1493.4 952.2 1493.6C949.9 1493.9 947.6 1493.0 945.4 1492.1C943.3 1491.2 941.3 1489.6 939.5 1488.3C937.8 1487.0 936.2 1486.0 934.9 1484.4C933.7 1482.8 932.7 1481.1 932.0 1478.9C931.3 1476.7 931.2 1473.3 930.7 1471.0C930.1 1468.7 929.4 1467.3 928.7 1465.1C927.9 1462.9 926.9 1460.5 926.2 1458.0C925.5 1455.5 924.8 1452.3 924.3 1450.1C923.8 1447.8 923.3 1446.0 923.2 1444.5C923.1 1443.1 923.1 1442.0 923.7 1441.2Z" stroke="rgb(22,22,22)" stroke-width="8.5" style="mix-blend-mode:plus-lighter"/>
<path d="M923.7 1441.2C924.2 1440.4 925.2 1440.0 926.6 1439.6C928.0 1439.1 929.9 1438.9 932.1 1438.5C934.4 1438.1 937.6 1437.5 940.2 1437.3C942.8 1437.0 945.4 1437.0 947.7 1436.9C950.0 1436.8 951.6 1436.9 954.0 1436.5C956.3 1436.2 959.4 1435.0 961.8 1434.8C964.1 1434.6 966.0 1434.9 967.9 1435.5C969.9 1436.1 971.5 1437.1 973.3 1438.3C975.1 1439.4 977.4 1440.7 979.0 1442.3C980.6 1444.0 982.3 1445.8 983.0 1448.0C983.7 1450.3 983.6 1453.0 983.1 1455.9C982.5 1458.9 981.2 1462.5 979.7 1465.7C978.3 1469.0 976.3 1472.3 974.2 1475.3C972.2 1478.4 969.9 1481.4 967.4 1484.0C965.0 1486.6 962.1 1489.2 959.6 1490.8C957.1 1492.4 954.6 1493.4 952.2 1493.6C949.9 1493.9 947.6 1493.0 945.4 1492.1C943.3 1491.2 941.3 1489.6 939.5 1488.3C937.8 1487.0 936.2 1486.0 934.9 1484.4C933.7 1482.8 932.7 1481.1 932.0 1478.9C931.3 1476.7 931.2 1473.3 930.7 1471.0C930.1 1468.7 929.4 1467.3 928.7 1465.1C927.9 1462.9 926.9 1460.5 926.2 1458.0C925.5 1455.5 924.8 1452.3 924.3 1450.1C923.8 1447.8 923.3 1446.0 923.2 1444.5C923.1 1443.1 923.1 1442.0 923.7 1441.2Z" stroke="rgb(108,108,108)" stroke-width="3.3" style="mix-blend-mode:plus-lighter"/>
<path d="M925.0 1421.8C924.6 1420.9 924.7 1419.8 925.1 1418.4C925.4 1416.9 926.1 1415.2 926.9 1413.0C927.7 1410.9 928.8 1407.9 929.9 1405.5C930.9 1403.1 932.3 1400.8 933.3 1398.8C934.3 1396.8 935.3 1395.4 936.1 1393.2C937.0 1391.0 937.5 1387.7 938.5 1385.6C939.5 1383.5 940.7 1381.9 942.2 1380.6C943.7 1379.2 945.4 1378.3 947.3 1377.3C949.2 1376.3 951.4 1375.0 953.7 1374.4C955.9 1373.8 958.3 1373.3 960.6 1373.8C962.9 1374.3 965.2 1375.7 967.5 1377.7C969.8 1379.6 972.3 1382.6 974.3 1385.5C976.4 1388.4 978.2 1391.7 979.9 1395.0C981.5 1398.3 982.9 1401.8 984.0 1405.2C985.0 1408.7 985.8 1412.4 985.9 1415.4C986.0 1418.4 985.7 1421.1 984.7 1423.2C983.7 1425.4 981.8 1426.9 980.0 1428.3C978.1 1429.7 975.8 1430.7 973.8 1431.6C971.8 1432.5 970.1 1433.3 968.1 1433.6C966.1 1433.9 964.1 1433.9 961.9 1433.4C959.6 1432.9 956.6 1431.3 954.4 1430.6C952.1 1429.9 950.5 1429.8 948.2 1429.4C946.0 1428.9 943.4 1428.6 940.8 1427.9C938.3 1427.3 935.2 1426.3 933.0 1425.6C930.8 1424.9 929.0 1424.4 927.7 1423.8C926.4 1423.1 925.5 1422.7 925.0 1421.8Z" stroke="rgb(22,22,22)" stroke-width="8.5" style="mix-blend-mode:plus-lighter"/>
<path d="M925.0 1421.8C924.6 1420.9 924.7 1419.8 925.1 1418.4C925.4 1416.9 926.1 1415.2 926.9 1413.0C927.7 1410.9 928.8 1407.9 929.9 1405.5C930.9 1403.1 932.3 1400.8 933.3 1398.8C934.3 1396.8 935.3 1395.4 936.1 1393.2C937.0 1391.0 937.5 1387.7 938.5 1385.6C939.5 1383.5 940.7 1381.9 942.2 1380.6C943.7 1379.2 945.4 1378.3 947.3 1377.3C949.2 1376.3 951.4 1375.0 953.7 1374.4C955.9 1373.8 958.3 1373.3 960.6 1373.8C962.9 1374.3 965.2 1375.7 967.5 1377.7C969.8 1379.6 972.3 1382.6 974.3 1385.5C976.4 1388.4 978.2 1391.7 979.9 1395.0C981.5 1398.3 982.9 1401.8 984.0 1405.2C985.0 1408.7 985.8 1412.4 985.9 1415.4C986.0 1418.4 985.7 1421.1 984.7 1423.2C983.7 1425.4 981.8 1426.9 980.0 1428.3C978.1 1429.7 975.8 1430.7 973.8 1431.6C971.8 1432.5 970.1 1433.3 968.1 1433.6C966.1 1433.9 964.1 1433.9 961.9 1433.4C959.6 1432.9 956.6 1431.3 954.4 1430.6C952.1 1429.9 950.5 1429.8 948.2 1429.4C946.0 1428.9 943.4 1428.6 940.8 1427.9C938.3 1427.3 935.2 1426.3 933.0 1425.6C930.8 1424.9 929.0 1424.4 927.7 1423.8C926.4 1423.1 925.5 1422.7 925.0 1421.8Z" stroke="rgb(108,108,108)" stroke-width="3.3" style="mix-blend-mode:plus-lighter"/>
<path d="M1012.7 1430.3L1013.1 1428.5L1013.5 1426.6L1013.9 1424.7L1014.4 1422.8L1014.9 1420.9L1015.4 1419.0L1015.9 1417.0L1016.5 1415.0L1017.0 1413.0L1017.5 1410.9L1017.9 1408.8L1018.4 1406.7L1018.7 1404.6L1019.1 1402.5L1019.3 1400.3L1019.5 1398.2L1019.6 1396.0L1019.6 1393.9L1019.5 1391.7L1019.3 1389.6L1019.0 1387.5L1018.6 1385.4L1018.1 1383.4L1017.4 1381.4L1016.7 1379.4L1015.8 1377.5L1014.8 1375.6L1013.7 1373.8L1012.5 1372.1L1011.3 1370.4L1009.9 1368.8L1008.4 1367.3L1006.8 1365.8L1005.2 1364.4L1003.5 1363.1L1001.8 1361.8L999.9 1360.6L998.1 1359.5L996.2 1358.5L994.3 1357.4L992.4 1356.5L990.5 1355.6L988.6 1354.7L986.6 1353.9L984.7 1353.1L982.9 1352.3L981.0 1351.5L979.2 1350.7L977.4 1349.9L975.7 1349.1L973.9 1348.3L972.3 1347.4L970.6 1346.5L969.0 1345.6L967.5 1344.7L965.9 1343.7L964.4 1342.6L963.0 1341.5L961.5 1340.4L960.1 1339.2L958.7 1338.0L957.3 1336.7L955.9 1335.4L954.5 1334.0L953.1 1332.6L951.6 1331.2L950.2 1329.7L948.7 1328.3L947.2 1326.8L945.7 1325.4L944.1 1323.9L942.5 1322.5L940.9 1321.1L939.2 1319.8L937.5 1318.5L935.7 1317.3L933.9 1316.1L932.0 1315.0L930.1 1314.0L928.2 1313.1L926.2 1312.3L924.2 1311.7L922.1 1311.1L920.1 1310.6L918.0 1310.3L915.9 1310.1L913.8 1310.0L911.7 1310.0L909.6 1310.2L907.5 1310.5L905.4 1310.9L903.3 1311.4L901.3 1312.0L899.3 1312.7L897.3 1313.5L895.3 1314.4L893.4 1315.4L891.5 1316.4L889.6 1317.5L887.8 1318.7L886.0 1319.9L884.3 1321.1L882.6 1322.3L880.9 1323.5L879.2 1324.8L877.6 1326.0L876.0 1327.2L874.4 1328.4L872.8 1329.6L871.2 1330.7L869.7 1331.7L868.1 1332.8L866.5 1333.7L864.9 1334.7L863.3 1335.6L861.7 1336.4L860.0 1337.2L858.4 1337.9L856.6 1338.6L854.9 1339.2L853.1 1339.8L851.3 1340.4L849.5 1340.9L847.6 1341.5L845.7 1342.0L843.7 1342.5L841.8 1343.1L839.8 1343.6L837.7 1344.2L835.7 1344.8L833.7 1345.4L831.7 1346.1L829.6 1346.8L827.6 1347.6L825.6 1348.4L823.7 1349.4L821.8 1350.4L819.9 1351.4L818.1 1352.6L816.4 1353.8L814.7 1355.1L813.1 1356.5L811.6 1358.0L810.2 1359.6L808.8 1361.2L807.6 1362.9L806.5 1364.7L805.5 1366.5L804.5 1368.4L803.7 1370.4L803.0 1372.4L802.5 1374.4L802.0 1376.5L801.6 1378.6L801.3 1380.8L801.1 1382.9L800.9 1385.1L800.9 1387.2L800.9 1389.4L801.0 1391.5L801.1 1393.7L801.3 1395.8L801.5 1397.9L801.7 1400.0L802.0 1402.0L802.2 1404.1L802.5 1406.1L802.7 1408.0L802.9 1410.0L803.1 1411.9L803.2 1413.8L803.3 1415.7L803.4 1417.5L803.4 1419.4L803.4 1421.2L803.3 1423.0L803.1 1424.8L802.9 1426.6L802.6 1428.5L802.3 1430.3L801.9 1432.1L801.5 1434.0L801.1 1435.9L800.6 1437.8L800.1 1439.7L799.6 1441.6L799.1 1443.6L798.5 1445.6L798.0 1447.6L797.5 1449.7L797.1 1451.8L796.6 1453.9L796.3 1456.0L795.9 1458.1L795.7 1460.3L795.5 1462.4L795.4 1464.6L795.4 1466.7L795.5 1468.9L795.7 1471.0L796.0 1473.1L796.4 1475.2L796.9 1477.2L797.6 1479.2L798.3 1481.2L799.2 1483.1L800.2 1485.0L801.3 1486.8L802.5 1488.5L803.7 1490.2L805.1 1491.8L806.6 1493.3L808.2 1494.8L809.8 1496.2L811.5 1497.5L813.2 1498.8L815.1 1500.0L816.9 1501.1L818.8 1502.1L820.7 1503.2L822.6 1504.1L824.5 1505.0L826.4 1505.9L828.4 1506.7L830.3 1507.5L832.1 1508.3L834.0 1509.1L835.8 1509.9L837.6 1510.7L839.3 1511.5L841.1 1512.3L842.7 1513.2L844.4 1514.1L846.0 1515.0L847.5 1515.9L849.1 1516.9L850.6 1518.0L852.0 1519.1L853.5 1520.2L854.9 1521.4L856.3 1522.6L857.7 1523.9L859.1 1525.2L860.5 1526.6L861.9 1528.0L863.4 1529.4L864.8 1530.9L866.3 1532.3L867.8 1533.8L869.3 1535.2L870.9 1536.7L872.5 1538.1L874.1 1539.5L875.8 1540.8L877.5 1542.1L879.3 1543.3L881.1 1544.5L883.0 1545.6L884.9 1546.6L886.8 1547.5L888.8 1548.3L890.8 1548.9L892.9 1549.5L894.9 1550.0L897.0 1550.3L899.1 1550.5L901.2 1550.6L903.3 1550.6L905.4 1550.4L907.5 1550.1L909.6 1549.7L911.7 1549.2L913.7 1548.6L915.7 1547.9L917.7 1547.1L919.7 1546.2L921.6 1545.2L923.5 1544.2L925.4 1543.1L927.2 1541.9L929.0 1540.7L930.7 1539.5L932.4 1538.3L934.1 1537.1L935.8 1535.8L937.4 1534.6L939.0 1533.4L940.6 1532.2L942.2 1531.0L943.8 1529.9L945.3 1528.9L946.9 1527.8L948.5 1526.9L950.1 1525.9L951.7 1525.0L953.3 1524.2L955.0 1523.4L956.6 1522.7L958.4 1522.0L960.1 1521.4L961.9 1520.8L963.7 1520.2L965.5 1519.7L967.4 1519.1L969.3 1518.6L971.3 1518.1L973.2 1517.5L975.2 1517.0L977.3 1516.4L979.3 1515.8L981.3 1515.2L983.3 1514.5L985.4 1513.8L987.4 1513.0L989.4 1512.2L991.3 1511.2L993.2 1510.2L995.1 1509.2L996.9 1508.0L998.6 1506.8L1000.3 1505.5L1001.9 1504.1L1003.4 1502.6L1004.8 1501.0L1006.2 1499.4L1007.4 1497.7L1008.5 1495.9L1009.5 1494.1L1010.5 1492.2L1011.3 1490.2L1012.0 1488.2L1012.5 1486.2L1013.0 1484.1L1013.4 1482.0L1013.7 1479.8L1013.9 1477.7L1014.1 1475.5L1014.1 1473.4L1014.1 1471.2L1014.0 1469.1L1013.9 1466.9L1013.7 1464.8L1013.5 1462.7L1013.3 1460.6L1013.0 1458.6L1012.8 1456.5L1012.5 1454.5L1012.3 1452.6L1012.1 1450.6L1011.9 1448.7L1011.8 1446.8L1011.7 1444.9L1011.6 1443.1L1011.6 1441.2L1011.6 1439.4L1011.7 1437.6L1011.9 1435.8L1012.1 1434.0L1012.4 1432.1Z" stroke="rgb(22,22,22)" stroke-width="8.5" style="mix-blend-mode:plus-lighter"/>
<path d="M1012.7 1430.3L1013.1 1428.5L1013.5 1426.6L1013.9 1424.7L1014.4 1422.8L1014.9 1420.9L1015.4 1419.0L1015.9 1417.0L1016.5 1415.0L1017.0 1413.0L1017.5 1410.9L1017.9 1408.8L1018.4 1406.7L1018.7 1404.6L1019.1 1402.5L1019.3 1400.3L1019.5 1398.2L1019.6 1396.0L1019.6 1393.9L1019.5 1391.7L1019.3 1389.6L1019.0 1387.5L1018.6 1385.4L1018.1 1383.4L1017.4 1381.4L1016.7 1379.4L1015.8 1377.5L1014.8 1375.6L1013.7 1373.8L1012.5 1372.1L1011.3 1370.4L1009.9 1368.8L1008.4 1367.3L1006.8 1365.8L1005.2 1364.4L1003.5 1363.1L1001.8 1361.8L999.9 1360.6L998.1 1359.5L996.2 1358.5L994.3 1357.4L992.4 1356.5L990.5 1355.6L988.6 1354.7L986.6 1353.9L984.7 1353.1L982.9 1352.3L981.0 1351.5L979.2 1350.7L977.4 1349.9L975.7 1349.1L973.9 1348.3L972.3 1347.4L970.6 1346.5L969.0 1345.6L967.5 1344.7L965.9 1343.7L964.4 1342.6L963.0 1341.5L961.5 1340.4L960.1 1339.2L958.7 1338.0L957.3 1336.7L955.9 1335.4L954.5 1334.0L953.1 1332.6L951.6 1331.2L950.2 1329.7L948.7 1328.3L947.2 1326.8L945.7 1325.4L944.1 1323.9L942.5 1322.5L940.9 1321.1L939.2 1319.8L937.5 1318.5L935.7 1317.3L933.9 1316.1L932.0 1315.0L930.1 1314.0L928.2 1313.1L926.2 1312.3L924.2 1311.7L922.1 1311.1L920.1 1310.6L918.0 1310.3L915.9 1310.1L913.8 1310.0L911.7 1310.0L909.6 1310.2L907.5 1310.5L905.4 1310.9L903.3 1311.4L901.3 1312.0L899.3 1312.7L897.3 1313.5L895.3 1314.4L893.4 1315.4L891.5 1316.4L889.6 1317.5L887.8 1318.7L886.0 1319.9L884.3 1321.1L882.6 1322.3L880.9 1323.5L879.2 1324.8L877.6 1326.0L876.0 1327.2L874.4 1328.4L872.8 1329.6L871.2 1330.7L869.7 1331.7L868.1 1332.8L866.5 1333.7L864.9 1334.7L863.3 1335.6L861.7 1336.4L860.0 1337.2L858.4 1337.9L856.6 1338.6L854.9 1339.2L853.1 1339.8L851.3 1340.4L849.5 1340.9L847.6 1341.5L845.7 1342.0L843.7 1342.5L841.8 1343.1L839.8 1343.6L837.7 1344.2L835.7 1344.8L833.7 1345.4L831.7 1346.1L829.6 1346.8L827.6 1347.6L825.6 1348.4L823.7 1349.4L821.8 1350.4L819.9 1351.4L818.1 1352.6L816.4 1353.8L814.7 1355.1L813.1 1356.5L811.6 1358.0L810.2 1359.6L808.8 1361.2L807.6 1362.9L806.5 1364.7L805.5 1366.5L804.5 1368.4L803.7 1370.4L803.0 1372.4L802.5 1374.4L802.0 1376.5L801.6 1378.6L801.3 1380.8L801.1 1382.9L800.9 1385.1L800.9 1387.2L800.9 1389.4L801.0 1391.5L801.1 1393.7L801.3 1395.8L801.5 1397.9L801.7 1400.0L802.0 1402.0L802.2 1404.1L802.5 1406.1L802.7 1408.0L802.9 1410.0L803.1 1411.9L803.2 1413.8L803.3 1415.7L803.4 1417.5L803.4 1419.4L803.4 1421.2L803.3 1423.0L803.1 1424.8L802.9 1426.6L802.6 1428.5L802.3 1430.3L801.9 1432.1L801.5 1434.0L801.1 1435.9L800.6 1437.8L800.1 1439.7L799.6 1441.6L799.1 1443.6L798.5 1445.6L798.0 1447.6L797.5 1449.7L797.1 1451.8L796.6 1453.9L796.3 1456.0L795.9 1458.1L795.7 1460.3L795.5 1462.4L795.4 1464.6L795.4 1466.7L795.5 1468.9L795.7 1471.0L796.0 1473.1L796.4 1475.2L796.9 1477.2L797.6 1479.2L798.3 1481.2L799.2 1483.1L800.2 1485.0L801.3 1486.8L802.5 1488.5L803.7 1490.2L805.1 1491.8L806.6 1493.3L808.2 1494.8L809.8 1496.2L811.5 1497.5L813.2 1498.8L815.1 1500.0L816.9 1501.1L818.8 1502.1L820.7 1503.2L822.6 1504.1L824.5 1505.0L826.4 1505.9L828.4 1506.7L830.3 1507.5L832.1 1508.3L834.0 1509.1L835.8 1509.9L837.6 1510.7L839.3 1511.5L841.1 1512.3L842.7 1513.2L844.4 1514.1L846.0 1515.0L847.5 1515.9L849.1 1516.9L850.6 1518.0L852.0 1519.1L853.5 1520.2L854.9 1521.4L856.3 1522.6L857.7 1523.9L859.1 1525.2L860.5 1526.6L861.9 1528.0L863.4 1529.4L864.8 1530.9L866.3 1532.3L867.8 1533.8L869.3 1535.2L870.9 1536.7L872.5 1538.1L874.1 1539.5L875.8 1540.8L877.5 1542.1L879.3 1543.3L881.1 1544.5L883.0 1545.6L884.9 1546.6L886.8 1547.5L888.8 1548.3L890.8 1548.9L892.9 1549.5L894.9 1550.0L897.0 1550.3L899.1 1550.5L901.2 1550.6L903.3 1550.6L905.4 1550.4L907.5 1550.1L909.6 1549.7L911.7 1549.2L913.7 1548.6L915.7 1547.9L917.7 1547.1L919.7 1546.2L921.6 1545.2L923.5 1544.2L925.4 1543.1L927.2 1541.9L929.0 1540.7L930.7 1539.5L932.4 1538.3L934.1 1537.1L935.8 1535.8L937.4 1534.6L939.0 1533.4L940.6 1532.2L942.2 1531.0L943.8 1529.9L945.3 1528.9L946.9 1527.8L948.5 1526.9L950.1 1525.9L951.7 1525.0L953.3 1524.2L955.0 1523.4L956.6 1522.7L958.4 1522.0L960.1 1521.4L961.9 1520.8L963.7 1520.2L965.5 1519.7L967.4 1519.1L969.3 1518.6L971.3 1518.1L973.2 1517.5L975.2 1517.0L977.3 1516.4L979.3 1515.8L981.3 1515.2L983.3 1514.5L985.4 1513.8L987.4 1513.0L989.4 1512.2L991.3 1511.2L993.2 1510.2L995.1 1509.2L996.9 1508.0L998.6 1506.8L1000.3 1505.5L1001.9 1504.1L1003.4 1502.6L1004.8 1501.0L1006.2 1499.4L1007.4 1497.7L1008.5 1495.9L1009.5 1494.1L1010.5 1492.2L1011.3 1490.2L1012.0 1488.2L1012.5 1486.2L1013.0 1484.1L1013.4 1482.0L1013.7 1479.8L1013.9 1477.7L1014.1 1475.5L1014.1 1473.4L1014.1 1471.2L1014.0 1469.1L1013.9 1466.9L1013.7 1464.8L1013.5 1462.7L1013.3 1460.6L1013.0 1458.6L1012.8 1456.5L1012.5 1454.5L1012.3 1452.6L1012.1 1450.6L1011.9 1448.7L1011.8 1446.8L1011.7 1444.9L1011.6 1443.1L1011.6 1441.2L1011.6 1439.4L1011.7 1437.6L1011.9 1435.8L1012.1 1434.0L1012.4 1432.1Z" stroke="rgb(108,108,108)" stroke-width="3.3" style="mix-blend-mode:plus-lighter"/>
<path d="M1012.6 1430.3L1013.3 1429.4L1014.2 1428.4L1015.1 1427.5L1016.2 1426.5L1017.4 1425.5L1018.7 1424.5L1020.1 1423.4L1021.6 1422.3L1023.3 1421.2L1025.0 1420.0L1026.9 1418.8L1028.8 1417.5L1030.9 1416.2L1033.0 1414.9L1035.2 1413.5L1037.4 1412.0L1039.6 1410.6L1041.8 1409.0L1044.0 1407.5L1046.2 1405.9L1048.3 1404.2L1050.3 1402.5L1052.3 1400.8L1054.2 1399.1L1056.0 1397.4L1057.7 1395.6L1059.3 1393.9L1060.8 1392.1L1062.2 1390.3L1063.5 1388.5L1064.6 1386.7L1065.7 1384.9L1066.7 1383.1L1067.6 1381.3L1068.4 1379.6L1069.2 1377.8L1069.9 1376.0L1070.5 1374.2L1071.0 1372.4L1071.5 1370.6L1071.9 1368.8L1072.2 1367.1L1072.4 1365.3L1072.5 1363.6L1072.6 1361.9L1072.5 1360.2L1072.4 1358.6L1072.1 1357.0L1071.8 1355.4L1071.4 1353.9L1070.8 1352.4L1070.2 1351.0L1069.4 1349.6L1068.6 1348.2L1067.7 1346.9L1066.6 1345.7L1065.5 1344.5L1064.3 1343.4L1063.0 1342.3L1061.7 1341.3L1060.2 1340.3L1058.7 1339.4L1057.1 1338.6L1055.5 1337.8L1053.8 1337.1L1052.1 1336.4L1050.3 1335.8L1048.4 1335.2L1046.6 1334.7L1044.6 1334.3L1042.7 1333.9L1040.7 1333.5L1038.6 1333.3L1036.5 1333.1L1034.3 1333.0L1032.0 1333.0L1029.7 1333.1L1027.3 1333.3L1024.8 1333.6L1022.4 1333.9L1019.8 1334.4L1017.3 1334.9L1014.7 1335.4L1012.1 1336.1L1009.5 1336.8L1007.0 1337.5L1004.4 1338.4L1001.9 1339.2L999.4 1340.0L996.9 1340.9L994.5 1341.7L992.2 1342.5L990.1 1343.3L988.0 1344.0L986.0 1344.7L984.1 1345.3L982.3 1345.8L980.6 1346.3L978.9 1346.7L977.4 1347.0L976.0 1347.2L974.6 1347.4L973.4 1347.5L972.2 1347.5L971.1 1347.4L970.1 1347.2L969.1 1347.0L968.3 1346.7L967.4 1346.3L966.6 1345.9L965.8 1345.4L965.1 1344.9L964.4 1344.4L963.6 1343.9L962.9 1343.3L962.3 1342.6L961.6 1341.9L961.1 1341.2L960.5 1340.3L960.1 1339.3L959.6 1338.2L959.2 1337.0L958.9 1335.7L958.6 1334.3L958.3 1332.7L958.1 1331.1L957.8 1329.3L957.7 1327.5L957.5 1325.5L957.4 1323.4L957.2 1321.2L957.1 1318.8L957.0 1316.4L956.9 1313.9L956.8 1311.3L956.6 1308.7L956.5 1306.0L956.2 1303.3L956.0 1300.7L955.7 1298.0L955.3 1295.4L954.9 1292.8L954.4 1290.2L953.8 1287.7L953.2 1285.3L952.6 1282.9L951.8 1280.6L951.1 1278.4L950.2 1276.3L949.3 1274.3L948.3 1272.4L947.3 1270.6L946.3 1268.8L945.2 1267.2L944.0 1265.6L942.8 1264.0L941.6 1262.5L940.4 1261.1L939.1 1259.7L937.8 1258.4L936.5 1257.2L935.1 1256.1L933.7 1255.0L932.3 1254.0L930.8 1253.1L929.3 1252.4L927.9 1251.7L926.3 1251.1L924.8 1250.6L923.3 1250.2L921.7 1249.9L920.1 1249.7L918.5 1249.7L917.0 1249.7L915.4 1249.9L913.8 1250.2L912.2 1250.6L910.6 1251.0L909.1 1251.6L907.5 1252.3L906.0 1253.1L904.4 1253.9L902.9 1254.9L901.4 1255.9L899.9 1257.0L898.5 1258.2L897.0 1259.4L895.6 1260.7L894.3 1262.1L892.9 1263.5L891.6 1265.0L890.3 1266.6L889.0 1268.3L887.8 1270.0L886.6 1271.9L885.5 1273.8L884.4 1275.9L883.4 1278.1L882.4 1280.3L881.5 1282.6L880.6 1285.0L879.7 1287.5L879.0 1290.0L878.2 1292.6L877.5 1295.2L876.9 1297.8L876.3 1300.4L875.8 1303.0L875.3 1305.6L874.8 1308.2L874.3 1310.6L873.9 1313.0L873.4 1315.3L873.0 1317.5L872.6 1319.5L872.1 1321.5L871.7 1323.3L871.2 1325.0L870.8 1326.6L870.3 1328.1L869.8 1329.4L869.3 1330.7L868.7 1331.8L868.1 1332.9L867.5 1333.8L866.9 1334.6L866.2 1335.3L865.5 1335.9L864.7 1336.4L863.9 1336.9L863.2 1337.3L862.3 1337.7L861.5 1338.1L860.7 1338.5L859.9 1338.8L859.0 1339.0L858.1 1339.2L857.1 1339.3L856.0 1339.4L854.9 1339.3L853.8 1339.1L852.6 1338.8L851.2 1338.5L849.9 1338.1L848.4 1337.5L846.9 1336.9L845.2 1336.2L843.5 1335.4L841.7 1334.6L839.8 1333.7L837.9 1332.7L835.8 1331.6L833.6 1330.5L831.4 1329.3L829.1 1328.1L826.7 1326.9L824.3 1325.8L821.9 1324.6L819.5 1323.5L817.0 1322.4L814.5 1321.4L812.1 1320.5L809.6 1319.7L807.2 1318.9L804.8 1318.2L802.4 1317.6L800.0 1317.1L797.7 1316.6L795.5 1316.3L793.3 1316.1L791.2 1316.0L789.1 1316.0L787.1 1316.0L785.1 1316.1L783.1 1316.3L781.2 1316.5L779.3 1316.9L777.4 1317.2L775.6 1317.6L773.8 1318.1L772.1 1318.7L770.4 1319.3L768.8 1320.0L767.2 1320.7L765.7 1321.5L764.3 1322.4L763.0 1323.4L761.7 1324.4L760.5 1325.4L759.4 1326.6L758.4 1327.8L757.4 1329.1L756.6 1330.4L755.9 1331.8L755.2 1333.3L754.7 1334.8L754.2 1336.4L753.8 1338.0L753.5 1339.6L753.3 1341.3L753.2 1343.0L753.2 1344.8L753.3 1346.6L753.4 1348.4L753.6 1350.2L753.9 1352.0L754.3 1353.9L754.7 1355.8L755.2 1357.7L755.8 1359.5L756.4 1361.4L757.1 1363.4L757.9 1365.3L758.9 1367.2L759.9 1369.2L761.0 1371.1L762.2 1373.1L763.6 1375.1L765.1 1377.0L766.6 1379.0L768.2 1381.0L770.0 1382.9L771.7 1384.9L773.6 1386.8L775.5 1388.7L777.4 1390.5L779.4 1392.4L781.4 1394.1L783.4 1395.9L785.4 1397.6L787.3 1399.2L789.1 1400.8L790.9 1402.3L792.5 1403.8L794.1 1405.2L795.6 1406.5L796.9 1407.8L798.2 1409.1L799.3 1410.3L800.4 1411.4L801.3 1412.5L802.1 1413.6L802.8 1414.7L803.4 1415.7L803.9 1416.7L804.3 1417.6L804.5 1418.6L804.7 1419.5L804.8 1420.4L804.8 1421.3L804.8 1422.2L804.8 1423.1L804.7 1424.0L804.6 1424.9L804.4 1425.8L804.2 1426.7L803.9 1427.6L803.5 1428.5L803.0 1429.4L802.4 1430.3L801.7 1431.2L800.8 1432.2L799.9 1433.1L798.8 1434.1L797.6 1435.1L796.3 1436.1L794.9 1437.2L793.4 1438.3L791.7 1439.4L790.0 1440.6L788.1 1441.8L786.2 1443.1L784.1 1444.4L782.0 1445.7L779.8 1447.1L777.6 1448.6L775.4 1450.0L773.2 1451.6L771.0 1453.1L768.8 1454.7L766.7 1456.4L764.7 1458.1L762.7 1459.8L760.8 1461.5L759.0 1463.2L757.3 1465.0L755.7 1466.7L754.2 1468.5L752.8 1470.3L751.5 1472.1L750.4 1473.9L749.3 1475.7L748.3 1477.5L747.4 1479.3L746.6 1481.0L745.8 1482.8L745.1 1484.6L744.5 1486.4L744.0 1488.2L743.5 1490.0L743.1 1491.8L742.8 1493.5L742.6 1495.3L742.5 1497.0L742.4 1498.7L742.5 1500.4L742.6 1502.0L742.9 1503.6L743.2 1505.2L743.6 1506.7L744.2 1508.2L744.8 1509.6L745.6 1511.0L746.4 1512.4L747.3 1513.7L748.4 1514.9L749.5 1516.1L750.7 1517.2L752.0 1518.3L753.3 1519.3L754.8 1520.3L756.3 1521.2L757.9 1522.0L759.5 1522.8L761.2 1523.5L762.9 1524.2L764.7 1524.8L766.6 1525.4L768.4 1525.9L770.4 1526.3L772.3 1526.7L774.3 1527.1L776.4 1527.3L778.5 1527.5L780.7 1527.6L783.0 1527.6L785.3 1527.5L787.7 1527.3L790.2 1527.0L792.6 1526.7L795.2 1526.2L797.7 1525.7L800.3 1525.2L802.9 1524.5L805.5 1523.8L808.0 1523.1L810.6 1522.2L813.1 1521.4L815.6 1520.6L818.1 1519.7L820.5 1518.9L822.8 1518.1L824.9 1517.3L827.0 1516.6L829.0 1515.9L830.9 1515.3L832.7 1514.8L834.4 1514.3L836.1 1513.9L837.6 1513.6L839.0 1513.4L840.4 1513.2L841.6 1513.1L842.8 1513.1L843.9 1513.2L844.9 1513.4L845.9 1513.6L846.7 1513.9L847.6 1514.3L848.4 1514.7L849.2 1515.2L849.9 1515.7L850.6 1516.2L851.4 1516.7L852.1 1517.3L852.7 1518.0L853.4 1518.7L853.9 1519.4L854.5 1520.3L854.9 1521.3L855.4 1522.4L855.8 1523.6L856.1 1524.9L856.4 1526.3L856.7 1527.9L856.9 1529.5L857.2 1531.3L857.3 1533.1L857.5 1535.1L857.6 1537.2L857.8 1539.4L857.9 1541.8L858.0 1544.2L858.1 1546.7L858.2 1549.3L858.4 1551.9L858.5 1554.6L858.8 1557.3L859.0 1559.9L859.3 1562.6L859.7 1565.2L860.1 1567.8L860.6 1570.4L861.2 1572.9L861.8 1575.3L862.4 1577.7L863.2 1580.0L863.9 1582.2L864.8 1584.3L865.7 1586.3L866.7 1588.2L867.7 1590.0L868.7 1591.8L869.8 1593.4L871.0 1595.0L872.2 1596.6L873.4 1598.1L874.6 1599.5L875.9 1600.9L877.2 1602.2L878.5 1603.4L879.9 1604.5L881.3 1605.6L882.7 1606.6L884.2 1607.5L885.7 1608.2L887.1 1608.9L888.7 1609.5L890.2 1610.0L891.7 1610.4L893.3 1610.7L894.9 1610.9L896.5 1610.9L898.0 1610.9L899.6 1610.7L901.2 1610.4L902.8 1610.0L904.4 1609.6L905.9 1609.0L907.5 1608.3L909.0 1607.5L910.6 1606.7L912.1 1605.7L913.6 1604.7L915.1 1603.6L916.5 1602.4L918.0 1601.2L919.4 1599.9L920.7 1598.5L922.1 1597.1L923.4 1595.6L924.7 1594.0L926.0 1592.3L927.2 1590.6L928.4 1588.7L929.5 1586.8L930.6 1584.7L931.6 1582.5L932.6 1580.3L933.5 1578.0L934.4 1575.6L935.3 1573.1L936.0 1570.6L936.8 1568.0L937.5 1565.4L938.1 1562.8L938.7 1560.2L939.2 1557.6L939.7 1555.0L940.2 1552.4L940.7 1550.0L941.1 1547.6L941.6 1545.3L942.0 1543.1L942.4 1541.1L942.9 1539.1L943.3 1537.3L943.8 1535.6L944.2 1534.0L944.7 1532.5L945.2 1531.2L945.7 1529.9L946.3 1528.8L946.9 1527.7L947.5 1526.8L948.1 1526.0L948.8 1525.3L949.5 1524.7L950.3 1524.2L951.1 1523.7L951.8 1523.3L952.7 1522.9L953.5 1522.5L954.3 1522.1L955.1 1521.8L956.0 1521.6L956.9 1521.4L957.9 1521.3L959.0 1521.2L960.1 1521.3L961.2 1521.5L962.4 1521.8L963.8 1522.1L965.1 1522.5L966.6 1523.1L968.1 1523.7L969.8 1524.4L971.5 1525.2L973.3 1526.0L975.2 1526.9L977.1 1527.9L979.2 1529.0L981.4 1530.1L983.6 1531.3L985.9 1532.5L988.3 1533.7L990.7 1534.8L993.1 1536.0L995.5 1537.1L998.0 1538.2L1000.5 1539.2L1002.9 1540.1L1005.4 1540.9L1007.8 1541.7L1010.2 1542.4L1012.6 1543.0L1015.0 1543.5L1017.3 1544.0L1019.5 1544.3L1021.7 1544.5L1023.8 1544.6L1025.9 1544.6L1027.9 1544.6L1029.9 1544.5L1031.9 1544.3L1033.8 1544.1L1035.7 1543.7L1037.6 1543.4L1039.4 1543.0L1041.2 1542.5L1042.9 1541.9L1044.6 1541.3L1046.2 1540.6L1047.8 1539.9L1049.3 1539.1L1050.7 1538.2L1052.0 1537.2L1053.3 1536.2L1054.5 1535.2L1055.6 1534.0L1056.6 1532.8L1057.6 1531.5L1058.4 1530.2L1059.1 1528.8L1059.8 1527.3L1060.3 1525.8L1060.8 1524.2L1061.2 1522.6L1061.5 1521.0L1061.7 1519.3L1061.8 1517.6L1061.8 1515.8L1061.7 1514.0L1061.6 1512.2L1061.4 1510.4L1061.1 1508.6L1060.7 1506.7L1060.3 1504.8L1059.8 1502.9L1059.2 1501.1L1058.6 1499.2L1057.9 1497.2L1057.1 1495.3L1056.1 1493.4L1055.1 1491.4L1054.0 1489.5L1052.8 1487.5L1051.4 1485.5L1049.9 1483.6L1048.4 1481.6L1046.8 1479.6L1045.0 1477.7L1043.3 1475.7L1041.4 1473.8L1039.5 1471.9L1037.6 1470.1L1035.6 1468.2L1033.6 1466.5L1031.6 1464.7L1029.6 1463.0L1027.7 1461.4L1025.9 1459.8L1024.1 1458.3L1022.5 1456.8L1020.9 1455.4L1019.4 1454.1L1018.1 1452.8L1016.8 1451.5L1015.7 1450.3L1014.6 1449.2L1013.7 1448.1L1012.9 1447.0L1012.2 1445.9L1011.6 1444.9L1011.1 1443.9L1010.7 1443.0L1010.5 1442.0L1010.3 1441.1L1010.2 1440.2L1010.2 1439.3L1010.2 1438.4L1010.2 1437.5L1010.3 1436.6L1010.4 1435.7L1010.6 1434.8L1010.8 1433.9L1011.1 1433.0L1011.5 1432.1L1012.0 1431.2Z" stroke="rgb(22,22,22)" stroke-width="8.5" style="mix-blend-mode:plus-lighter"/>
<path d="M1012.6 1430.3L1013.3 1429.4L1014.2 1428.4L1015.1 1427.5L1016.2 1426.5L1017.4 1425.5L1018.7 1424.5L1020.1 1423.4L1021.6 1422.3L1023.3 1421.2L1025.0 1420.0L1026.9 1418.8L1028.8 1417.5L1030.9 1416.2L1033.0 1414.9L1035.2 1413.5L1037.4 1412.0L1039.6 1410.6L1041.8 1409.0L1044.0 1407.5L1046.2 1405.9L1048.3 1404.2L1050.3 1402.5L1052.3 1400.8L1054.2 1399.1L1056.0 1397.4L1057.7 1395.6L1059.3 1393.9L1060.8 1392.1L1062.2 1390.3L1063.5 1388.5L1064.6 1386.7L1065.7 1384.9L1066.7 1383.1L1067.6 1381.3L1068.4 1379.6L1069.2 1377.8L1069.9 1376.0L1070.5 1374.2L1071.0 1372.4L1071.5 1370.6L1071.9 1368.8L1072.2 1367.1L1072.4 1365.3L1072.5 1363.6L1072.6 1361.9L1072.5 1360.2L1072.4 1358.6L1072.1 1357.0L1071.8 1355.4L1071.4 1353.9L1070.8 1352.4L1070.2 1351.0L1069.4 1349.6L1068.6 1348.2L1067.7 1346.9L1066.6 1345.7L1065.5 1344.5L1064.3 1343.4L1063.0 1342.3L1061.7 1341.3L1060.2 1340.3L1058.7 1339.4L1057.1 1338.6L1055.5 1337.8L1053.8 1337.1L1052.1 1336.4L1050.3 1335.8L1048.4 1335.2L1046.6 1334.7L1044.6 1334.3L1042.7 1333.9L1040.7 1333.5L1038.6 1333.3L1036.5 1333.1L1034.3 1333.0L1032.0 1333.0L1029.7 1333.1L1027.3 1333.3L1024.8 1333.6L1022.4 1333.9L1019.8 1334.4L1017.3 1334.9L1014.7 1335.4L1012.1 1336.1L1009.5 1336.8L1007.0 1337.5L1004.4 1338.4L1001.9 1339.2L999.4 1340.0L996.9 1340.9L994.5 1341.7L992.2 1342.5L990.1 1343.3L988.0 1344.0L986.0 1344.7L984.1 1345.3L982.3 1345.8L980.6 1346.3L978.9 1346.7L977.4 1347.0L976.0 1347.2L974.6 1347.4L973.4 1347.5L972.2 1347.5L971.1 1347.4L970.1 1347.2L969.1 1347.0L968.3 1346.7L967.4 1346.3L966.6 1345.9L965.8 1345.4L965.1 1344.9L964.4 1344.4L963.6 1343.9L962.9 1343.3L962.3 1342.6L961.6 1341.9L961.1 1341.2L960.5 1340.3L960.1 1339.3L959.6 1338.2L959.2 1337.0L958.9 1335.7L958.6 1334.3L958.3 1332.7L958.1 1331.1L957.8 1329.3L957.7 1327.5L957.5 1325.5L957.4 1323.4L957.2 1321.2L957.1 1318.8L957.0 1316.4L956.9 1313.9L956.8 1311.3L956.6 1308.7L956.5 1306.0L956.2 1303.3L956.0 1300.7L955.7 1298.0L955.3 1295.4L954.9 1292.8L954.4 1290.2L953.8 1287.7L953.2 1285.3L952.6 1282.9L951.8 1280.6L951.1 1278.4L950.2 1276.3L949.3 1274.3L948.3 1272.4L947.3 1270.6L946.3 1268.8L945.2 1267.2L944.0 1265.6L942.8 1264.0L941.6 1262.5L940.4 1261.1L939.1 1259.7L937.8 1258.4L936.5 1257.2L935.1 1256.1L933.7 1255.0L932.3 1254.0L930.8 1253.1L929.3 1252.4L927.9 1251.7L926.3 1251.1L924.8 1250.6L923.3 1250.2L921.7 1249.9L920.1 1249.7L918.5 1249.7L917.0 1249.7L915.4 1249.9L913.8 1250.2L912.2 1250.6L910.6 1251.0L909.1 1251.6L907.5 1252.3L906.0 1253.1L904.4 1253.9L902.9 1254.9L901.4 1255.9L899.9 1257.0L898.5 1258.2L897.0 1259.4L895.6 1260.7L894.3 1262.1L892.9 1263.5L891.6 1265.0L890.3 1266.6L889.0 1268.3L887.8 1270.0L886.6 1271.9L885.5 1273.8L884.4 1275.9L883.4 1278.1L882.4 1280.3L881.5 1282.6L880.6 1285.0L879.7 1287.5L879.0 1290.0L878.2 1292.6L877.5 1295.2L876.9 1297.8L876.3 1300.4L875.8 1303.0L875.3 1305.6L874.8 1308.2L874.3 1310.6L873.9 1313.0L873.4 1315.3L873.0 1317.5L872.6 1319.5L872.1 1321.5L871.7 1323.3L871.2 1325.0L870.8 1326.6L870.3 1328.1L869.8 1329.4L869.3 1330.7L868.7 1331.8L868.1 1332.9L867.5 1333.8L866.9 1334.6L866.2 1335.3L865.5 1335.9L864.7 1336.4L863.9 1336.9L863.2 1337.3L862.3 1337.7L861.5 1338.1L860.7 1338.5L859.9 1338.8L859.0 1339.0L858.1 1339.2L857.1 1339.3L856.0 1339.4L854.9 1339.3L853.8 1339.1L852.6 1338.8L851.2 1338.5L849.9 1338.1L848.4 1337.5L846.9 1336.9L845.2 1336.2L843.5 1335.4L841.7 1334.6L839.8 1333.7L837.9 1332.7L835.8 1331.6L833.6 1330.5L831.4 1329.3L829.1 1328.1L826.7 1326.9L824.3 1325.8L821.9 1324.6L819.5 1323.5L817.0 1322.4L814.5 1321.4L812.1 1320.5L809.6 1319.7L807.2 1318.9L804.8 1318.2L802.4 1317.6L800.0 1317.1L797.7 1316.6L795.5 1316.3L793.3 1316.1L791.2 1316.0L789.1 1316.0L787.1 1316.0L785.1 1316.1L783.1 1316.3L781.2 1316.5L779.3 1316.9L777.4 1317.2L775.6 1317.6L773.8 1318.1L772.1 1318.7L770.4 1319.3L768.8 1320.0L767.2 1320.7L765.7 1321.5L764.3 1322.4L763.0 1323.4L761.7 1324.4L760.5 1325.4L759.4 1326.6L758.4 1327.8L757.4 1329.1L756.6 1330.4L755.9 1331.8L755.2 1333.3L754.7 1334.8L754.2 1336.4L753.8 1338.0L753.5 1339.6L753.3 1341.3L753.2 1343.0L753.2 1344.8L753.3 1346.6L753.4 1348.4L753.6 1350.2L753.9 1352.0L754.3 1353.9L754.7 1355.8L755.2 1357.7L755.8 1359.5L756.4 1361.4L757.1 1363.4L757.9 1365.3L758.9 1367.2L759.9 1369.2L761.0 1371.1L762.2 1373.1L763.6 1375.1L765.1 1377.0L766.6 1379.0L768.2 1381.0L770.0 1382.9L771.7 1384.9L773.6 1386.8L775.5 1388.7L777.4 1390.5L779.4 1392.4L781.4 1394.1L783.4 1395.9L785.4 1397.6L787.3 1399.2L789.1 1400.8L790.9 1402.3L792.5 1403.8L794.1 1405.2L795.6 1406.5L796.9 1407.8L798.2 1409.1L799.3 1410.3L800.4 1411.4L801.3 1412.5L802.1 1413.6L802.8 1414.7L803.4 1415.7L803.9 1416.7L804.3 1417.6L804.5 1418.6L804.7 1419.5L804.8 1420.4L804.8 1421.3L804.8 1422.2L804.8 1423.1L804.7 1424.0L804.6 1424.9L804.4 1425.8L804.2 1426.7L803.9 1427.6L803.5 1428.5L803.0 1429.4L802.4 1430.3L801.7 1431.2L800.8 1432.2L799.9 1433.1L798.8 1434.1L797.6 1435.1L796.3 1436.1L794.9 1437.2L793.4 1438.3L791.7 1439.4L790.0 1440.6L788.1 1441.8L786.2 1443.1L784.1 1444.4L782.0 1445.7L779.8 1447.1L777.6 1448.6L775.4 1450.0L773.2 1451.6L771.0 1453.1L768.8 1454.7L766.7 1456.4L764.7 1458.1L762.7 1459.8L760.8 1461.5L759.0 1463.2L757.3 1465.0L755.7 1466.7L754.2 1468.5L752.8 1470.3L751.5 1472.1L750.4 1473.9L749.3 1475.7L748.3 1477.5L747.4 1479.3L746.6 1481.0L745.8 1482.8L745.1 1484.6L744.5 1486.4L744.0 1488.2L743.5 1490.0L743.1 1491.8L742.8 1493.5L742.6 1495.3L742.5 1497.0L742.4 1498.7L742.5 1500.4L742.6 1502.0L742.9 1503.6L743.2 1505.2L743.6 1506.7L744.2 1508.2L744.8 1509.6L745.6 1511.0L746.4 1512.4L747.3 1513.7L748.4 1514.9L749.5 1516.1L750.7 1517.2L752.0 1518.3L753.3 1519.3L754.8 1520.3L756.3 1521.2L757.9 1522.0L759.5 1522.8L761.2 1523.5L762.9 1524.2L764.7 1524.8L766.6 1525.4L768.4 1525.9L770.4 1526.3L772.3 1526.7L774.3 1527.1L776.4 1527.3L778.5 1527.5L780.7 1527.6L783.0 1527.6L785.3 1527.5L787.7 1527.3L790.2 1527.0L792.6 1526.7L795.2 1526.2L797.7 1525.7L800.3 1525.2L802.9 1524.5L805.5 1523.8L808.0 1523.1L810.6 1522.2L813.1 1521.4L815.6 1520.6L818.1 1519.7L820.5 1518.9L822.8 1518.1L824.9 1517.3L827.0 1516.6L829.0 1515.9L830.9 1515.3L832.7 1514.8L834.4 1514.3L836.1 1513.9L837.6 1513.6L839.0 1513.4L840.4 1513.2L841.6 1513.1L842.8 1513.1L843.9 1513.2L844.9 1513.4L845.9 1513.6L846.7 1513.9L847.6 1514.3L848.4 1514.7L849.2 1515.2L849.9 1515.7L850.6 1516.2L851.4 1516.7L852.1 1517.3L852.7 1518.0L853.4 1518.7L853.9 1519.4L854.5 1520.3L854.9 1521.3L855.4 1522.4L855.8 1523.6L856.1 1524.9L856.4 1526.3L856.7 1527.9L856.9 1529.5L857.2 1531.3L857.3 1533.1L857.5 1535.1L857.6 1537.2L857.8 1539.4L857.9 1541.8L858.0 1544.2L858.1 1546.7L858.2 1549.3L858.4 1551.9L858.5 1554.6L858.8 1557.3L859.0 1559.9L859.3 1562.6L859.7 1565.2L860.1 1567.8L860.6 1570.4L861.2 1572.9L861.8 1575.3L862.4 1577.7L863.2 1580.0L863.9 1582.2L864.8 1584.3L865.7 1586.3L866.7 1588.2L867.7 1590.0L868.7 1591.8L869.8 1593.4L871.0 1595.0L872.2 1596.6L873.4 1598.1L874.6 1599.5L875.9 1600.9L877.2 1602.2L878.5 1603.4L879.9 1604.5L881.3 1605.6L882.7 1606.6L884.2 1607.5L885.7 1608.2L887.1 1608.9L888.7 1609.5L890.2 1610.0L891.7 1610.4L893.3 1610.7L894.9 1610.9L896.5 1610.9L898.0 1610.9L899.6 1610.7L901.2 1610.4L902.8 1610.0L904.4 1609.6L905.9 1609.0L907.5 1608.3L909.0 1607.5L910.6 1606.7L912.1 1605.7L913.6 1604.7L915.1 1603.6L916.5 1602.4L918.0 1601.2L919.4 1599.9L920.7 1598.5L922.1 1597.1L923.4 1595.6L924.7 1594.0L926.0 1592.3L927.2 1590.6L928.4 1588.7L929.5 1586.8L930.6 1584.7L931.6 1582.5L932.6 1580.3L933.5 1578.0L934.4 1575.6L935.3 1573.1L936.0 1570.6L936.8 1568.0L937.5 1565.4L938.1 1562.8L938.7 1560.2L939.2 1557.6L939.7 1555.0L940.2 1552.4L940.7 1550.0L941.1 1547.6L941.6 1545.3L942.0 1543.1L942.4 1541.1L942.9 1539.1L943.3 1537.3L943.8 1535.6L944.2 1534.0L944.7 1532.5L945.2 1531.2L945.7 1529.9L946.3 1528.8L946.9 1527.7L947.5 1526.8L948.1 1526.0L948.8 1525.3L949.5 1524.7L950.3 1524.2L951.1 1523.7L951.8 1523.3L952.7 1522.9L953.5 1522.5L954.3 1522.1L955.1 1521.8L956.0 1521.6L956.9 1521.4L957.9 1521.3L959.0 1521.2L960.1 1521.3L961.2 1521.5L962.4 1521.8L963.8 1522.1L965.1 1522.5L966.6 1523.1L968.1 1523.7L969.8 1524.4L971.5 1525.2L973.3 1526.0L975.2 1526.9L977.1 1527.9L979.2 1529.0L981.4 1530.1L983.6 1531.3L985.9 1532.5L988.3 1533.7L990.7 1534.8L993.1 1536.0L995.5 1537.1L998.0 1538.2L1000.5 1539.2L1002.9 1540.1L1005.4 1540.9L1007.8 1541.7L1010.2 1542.4L1012.6 1543.0L1015.0 1543.5L1017.3 1544.0L1019.5 1544.3L1021.7 1544.5L1023.8 1544.6L1025.9 1544.6L1027.9 1544.6L1029.9 1544.5L1031.9 1544.3L1033.8 1544.1L1035.7 1543.7L1037.6 1543.4L1039.4 1543.0L1041.2 1542.5L1042.9 1541.9L1044.6 1541.3L1046.2 1540.6L1047.8 1539.9L1049.3 1539.1L1050.7 1538.2L1052.0 1537.2L1053.3 1536.2L1054.5 1535.2L1055.6 1534.0L1056.6 1532.8L1057.6 1531.5L1058.4 1530.2L1059.1 1528.8L1059.8 1527.3L1060.3 1525.8L1060.8 1524.2L1061.2 1522.6L1061.5 1521.0L1061.7 1519.3L1061.8 1517.6L1061.8 1515.8L1061.7 1514.0L1061.6 1512.2L1061.4 1510.4L1061.1 1508.6L1060.7 1506.7L1060.3 1504.8L1059.8 1502.9L1059.2 1501.1L1058.6 1499.2L1057.9 1497.2L1057.1 1495.3L1056.1 1493.4L1055.1 1491.4L1054.0 1489.5L1052.8 1487.5L1051.4 1485.5L1049.9 1483.6L1048.4 1481.6L1046.8 1479.6L1045.0 1477.7L1043.3 1475.7L1041.4 1473.8L1039.5 1471.9L1037.6 1470.1L1035.6 1468.2L1033.6 1466.5L1031.6 1464.7L1029.6 1463.0L1027.7 1461.4L1025.9 1459.8L1024.1 1458.3L1022.5 1456.8L1020.9 1455.4L1019.4 1454.1L1018.1 1452.8L1016.8 1451.5L1015.7 1450.3L1014.6 1449.2L1013.7 1448.1L1012.9 1447.0L1012.2 1445.9L1011.6 1444.9L1011.1 1443.9L1010.7 1443.0L1010.5 1442.0L1010.3 1441.1L1010.2 1440.2L1010.2 1439.3L1010.2 1438.4L1010.2 1437.5L1010.3 1436.6L1010.4 1435.7L1010.6 1434.8L1010.8 1433.9L1011.1 1433.0L1011.5 1432.1L1012.0 1431.2Z" stroke="rgb(108,108,108)" stroke-width="3.3" style="mix-blend-mode:plus-lighter"/>
<path d="M1128.1 1430.3L1130.3 1426.4L1132.4 1422.4L1134.3 1418.4L1136.0 1414.3L1137.5 1410.2L1138.9 1406.0L1140.0 1401.7L1141.0 1397.5L1141.7 1393.2L1142.3 1388.9L1142.6 1384.6L1142.8 1380.3L1142.7 1376.0L1142.5 1371.7L1142.1 1367.4L1141.5 1363.2L1140.7 1359.0L1139.7 1354.9L1138.5 1350.7L1137.2 1346.7L1135.8 1342.7L1134.1 1338.7L1132.3 1334.9L1130.4 1331.1L1128.3 1327.3L1126.1 1323.7L1123.8 1320.1L1121.3 1316.6L1118.7 1313.2L1116.0 1309.9L1113.2 1306.7L1110.3 1303.6L1107.3 1300.5L1104.2 1297.6L1101.0 1294.8L1097.7 1292.1L1094.3 1289.6L1090.8 1287.1L1087.3 1284.7L1083.6 1282.5L1079.9 1280.4L1076.2 1278.4L1072.3 1276.6L1068.5 1274.9L1064.5 1273.3L1060.5 1271.8L1056.5 1270.5L1052.4 1269.3L1048.3 1268.3L1044.2 1267.4L1040.0 1266.6L1035.9 1266.0L1031.7 1265.5L1027.5 1265.2L1023.3 1265.0L1019.1 1264.9L1014.9 1264.9L1010.7 1265.1L1006.6 1265.3L1002.5 1265.7L998.5 1266.2L994.4 1266.8L990.5 1267.5L986.5 1268.2L982.7 1269.0L978.9 1269.9L975.2 1270.8L971.5 1271.8L968.0 1272.8L964.5 1273.8L961.0 1274.8L957.7 1275.8L954.4 1276.8L951.2 1277.7L948.1 1278.6L945.1 1279.5L942.1 1280.2L939.3 1280.9L936.4 1281.5L933.6 1282.0L930.9 1282.4L928.2 1282.7L925.6 1282.9L923.0 1282.9L920.4 1282.8L917.8 1282.6L915.3 1282.2L912.7 1281.7L910.1 1281.1L907.5 1280.3L904.9 1279.4L902.2 1278.4L899.5 1277.2L896.7 1275.9L893.9 1274.6L891.0 1273.1L888.0 1271.5L884.9 1269.8L881.8 1268.1L878.6 1266.3L875.3 1264.5L871.9 1262.6L868.4 1260.7L864.8 1258.9L861.1 1257.0L857.3 1255.1L853.4 1253.3L849.4 1251.6L845.4 1249.9L841.3 1248.3L837.1 1246.8L832.8 1245.4L828.5 1244.1L824.1 1243.0L819.7 1242.0L815.2 1241.1L810.7 1240.4L806.2 1239.9L801.7 1239.5L797.2 1239.3L792.7 1239.3L788.3 1239.5L783.8 1239.8L779.4 1240.4L775.0 1241.1L770.7 1242.1L766.5 1243.2L762.3 1244.5L758.3 1246.0L754.3 1247.7L750.4 1249.5L746.6 1251.6L742.9 1253.7L739.3 1256.1L735.8 1258.6L732.4 1261.2L729.2 1264.0L726.1 1266.9L723.1 1270.0L720.2 1273.2L717.5 1276.4L714.9 1279.8L712.4 1283.3L710.1 1286.9L707.9 1290.5L705.8 1294.3L703.9 1298.1L702.1 1302.0L700.5 1305.9L699.0 1309.9L697.6 1313.9L696.3 1318.0L695.2 1322.1L694.3 1326.3L693.4 1330.5L692.8 1334.7L692.2 1338.9L691.8 1343.2L691.6 1347.4L691.4 1351.7L691.5 1355.9L691.6 1360.2L691.9 1364.4L692.4 1368.6L693.0 1372.8L693.7 1377.0L694.6 1381.2L695.6 1385.3L696.8 1389.3L698.1 1393.4L699.5 1397.4L701.0 1401.3L702.7 1405.2L704.5 1409.0L706.4 1412.7L708.4 1416.4L710.6 1420.0L712.8 1423.5L715.1 1426.9L717.5 1430.3L719.9 1433.6L722.4 1436.8L725.0 1439.9L727.6 1442.9L730.3 1445.8L732.9 1448.7L735.6 1451.4L738.2 1454.1L740.9 1456.7L743.5 1459.2L746.1 1461.7L748.6 1464.1L751.1 1466.4L753.5 1468.7L755.8 1470.9L758.1 1473.1L760.2 1475.3L762.3 1477.5L764.2 1479.6L766.0 1481.8L767.7 1484.0L769.3 1486.1L770.8 1488.3L772.1 1490.6L773.3 1492.9L774.4 1495.2L775.4 1497.6L776.2 1500.1L777.0 1502.6L777.6 1505.3L778.1 1508.0L778.6 1510.9L778.9 1513.8L779.2 1516.8L779.4 1520.0L779.6 1523.2L779.7 1526.6L779.8 1530.1L779.9 1533.6L779.9 1537.3L780.0 1541.1L780.1 1545.0L780.2 1549.0L780.4 1553.0L780.6 1557.2L780.9 1561.4L781.3 1565.6L781.8 1569.9L782.3 1574.3L783.0 1578.7L783.8 1583.1L784.7 1587.4L785.8 1591.8L787.0 1596.2L788.3 1600.5L789.8 1604.8L791.4 1609.1L793.2 1613.2L795.1 1617.3L797.2 1621.3L799.5 1625.2L801.9 1629.0L804.4 1632.6L807.1 1636.2L809.9 1639.6L812.9 1642.8L816.0 1645.9L819.2 1648.9L822.5 1651.7L826.0 1654.3L829.5 1656.8L833.2 1659.1L836.9 1661.2L840.7 1663.1L844.6 1664.9L848.6 1666.5L852.7 1667.9L856.7 1669.1L860.9 1670.2L865.0 1671.1L869.3 1671.8L873.5 1672.4L877.7 1672.7L882.0 1673.0L886.3 1673.0L890.5 1673.0L894.8 1672.7L899.0 1672.3L903.3 1671.8L907.5 1671.1L911.7 1670.3L915.8 1669.3L920.0 1668.2L924.0 1667.0L928.1 1665.6L932.1 1664.1L936.0 1662.4L939.9 1660.7L943.7 1658.8L947.4 1656.7L951.1 1654.6L954.7 1652.3L958.2 1649.9L961.6 1647.4L965.0 1644.8L968.2 1642.1L971.4 1639.2L974.4 1636.3L977.4 1633.3L980.2 1630.1L983.0 1626.9L985.6 1623.6L988.1 1620.2L990.5 1616.8L992.8 1613.2L995.0 1609.6L997.0 1606.0L999.0 1602.3L1000.8 1598.6L1002.5 1594.9L1004.1 1591.1L1005.6 1587.3L1007.0 1583.6L1008.3 1579.8L1009.6 1576.0L1010.7 1572.3L1011.7 1568.6L1012.7 1565.0L1013.7 1561.4L1014.5 1557.9L1015.4 1554.4L1016.2 1551.0L1017.0 1547.7L1017.8 1544.5L1018.5 1541.3L1019.3 1538.3L1020.1 1535.3L1021.0 1532.5L1021.9 1529.7L1022.8 1527.1L1023.8 1524.5L1024.9 1522.1L1026.1 1519.7L1027.4 1517.4L1028.8 1515.2L1030.2 1513.1L1031.8 1511.0L1033.6 1509.1L1035.4 1507.2L1037.4 1505.3L1039.5 1503.5L1041.7 1501.7L1044.1 1499.9L1046.6 1498.1L1049.2 1496.4L1051.9 1494.6L1054.8 1492.8L1057.7 1491.0L1060.8 1489.2L1064.0 1487.3L1067.2 1485.3L1070.5 1483.3L1073.9 1481.2L1077.3 1479.0L1080.8 1476.7L1084.3 1474.4L1087.8 1471.9L1091.3 1469.4L1094.8 1466.7L1098.2 1463.9L1101.6 1461.0L1105.0 1458.1L1108.3 1454.9L1111.4 1451.7L1114.5 1448.4L1117.5 1445.0L1120.3 1441.5L1123.1 1437.8L1125.6 1434.1Z" stroke="rgb(22,22,22)" stroke-width="8.5" style="mix-blend-mode:plus-lighter"/>
<path d="M1128.1 1430.3L1130.3 1426.4L1132.4 1422.4L1134.3 1418.4L1136.0 1414.3L1137.5 1410.2L1138.9 1406.0L1140.0 1401.7L1141.0 1397.5L1141.7 1393.2L1142.3 1388.9L1142.6 1384.6L1142.8 1380.3L1142.7 1376.0L1142.5 1371.7L1142.1 1367.4L1141.5 1363.2L1140.7 1359.0L1139.7 1354.9L1138.5 1350.7L1137.2 1346.7L1135.8 1342.7L1134.1 1338.7L1132.3 1334.9L1130.4 1331.1L1128.3 1327.3L1126.1 1323.7L1123.8 1320.1L1121.3 1316.6L1118.7 1313.2L1116.0 1309.9L1113.2 1306.7L1110.3 1303.6L1107.3 1300.5L1104.2 1297.6L1101.0 1294.8L1097.7 1292.1L1094.3 1289.6L1090.8 1287.1L1087.3 1284.7L1083.6 1282.5L1079.9 1280.4L1076.2 1278.4L1072.3 1276.6L1068.5 1274.9L1064.5 1273.3L1060.5 1271.8L1056.5 1270.5L1052.4 1269.3L1048.3 1268.3L1044.2 1267.4L1040.0 1266.6L1035.9 1266.0L1031.7 1265.5L1027.5 1265.2L1023.3 1265.0L1019.1 1264.9L1014.9 1264.9L1010.7 1265.1L1006.6 1265.3L1002.5 1265.7L998.5 1266.2L994.4 1266.8L990.5 1267.5L986.5 1268.2L982.7 1269.0L978.9 1269.9L975.2 1270.8L971.5 1271.8L968.0 1272.8L964.5 1273.8L961.0 1274.8L957.7 1275.8L954.4 1276.8L951.2 1277.7L948.1 1278.6L945.1 1279.5L942.1 1280.2L939.3 1280.9L936.4 1281.5L933.6 1282.0L930.9 1282.4L928.2 1282.7L925.6 1282.9L923.0 1282.9L920.4 1282.8L917.8 1282.6L915.3 1282.2L912.7 1281.7L910.1 1281.1L907.5 1280.3L904.9 1279.4L902.2 1278.4L899.5 1277.2L896.7 1275.9L893.9 1274.6L891.0 1273.1L888.0 1271.5L884.9 1269.8L881.8 1268.1L878.6 1266.3L875.3 1264.5L871.9 1262.6L868.4 1260.7L864.8 1258.9L861.1 1257.0L857.3 1255.1L853.4 1253.3L849.4 1251.6L845.4 1249.9L841.3 1248.3L837.1 1246.8L832.8 1245.4L828.5 1244.1L824.1 1243.0L819.7 1242.0L815.2 1241.1L810.7 1240.4L806.2 1239.9L801.7 1239.5L797.2 1239.3L792.7 1239.3L788.3 1239.5L783.8 1239.8L779.4 1240.4L775.0 1241.1L770.7 1242.1L766.5 1243.2L762.3 1244.5L758.3 1246.0L754.3 1247.7L750.4 1249.5L746.6 1251.6L742.9 1253.7L739.3 1256.1L735.8 1258.6L732.4 1261.2L729.2 1264.0L726.1 1266.9L723.1 1270.0L720.2 1273.2L717.5 1276.4L714.9 1279.8L712.4 1283.3L710.1 1286.9L707.9 1290.5L705.8 1294.3L703.9 1298.1L702.1 1302.0L700.5 1305.9L699.0 1309.9L697.6 1313.9L696.3 1318.0L695.2 1322.1L694.3 1326.3L693.4 1330.5L692.8 1334.7L692.2 1338.9L691.8 1343.2L691.6 1347.4L691.4 1351.7L691.5 1355.9L691.6 1360.2L691.9 1364.4L692.4 1368.6L693.0 1372.8L693.7 1377.0L694.6 1381.2L695.6 1385.3L696.8 1389.3L698.1 1393.4L699.5 1397.4L701.0 1401.3L702.7 1405.2L704.5 1409.0L706.4 1412.7L708.4 1416.4L710.6 1420.0L712.8 1423.5L715.1 1426.9L717.5 1430.3L719.9 1433.6L722.4 1436.8L725.0 1439.9L727.6 1442.9L730.3 1445.8L732.9 1448.7L735.6 1451.4L738.2 1454.1L740.9 1456.7L743.5 1459.2L746.1 1461.7L748.6 1464.1L751.1 1466.4L753.5 1468.7L755.8 1470.9L758.1 1473.1L760.2 1475.3L762.3 1477.5L764.2 1479.6L766.0 1481.8L767.7 1484.0L769.3 1486.1L770.8 1488.3L772.1 1490.6L773.3 1492.9L774.4 1495.2L775.4 1497.6L776.2 1500.1L777.0 1502.6L777.6 1505.3L778.1 1508.0L778.6 1510.9L778.9 1513.8L779.2 1516.8L779.4 1520.0L779.6 1523.2L779.7 1526.6L779.8 1530.1L779.9 1533.6L779.9 1537.3L780.0 1541.1L780.1 1545.0L780.2 1549.0L780.4 1553.0L780.6 1557.2L780.9 1561.4L781.3 1565.6L781.8 1569.9L782.3 1574.3L783.0 1578.7L783.8 1583.1L784.7 1587.4L785.8 1591.8L787.0 1596.2L788.3 1600.5L789.8 1604.8L791.4 1609.1L793.2 1613.2L795.1 1617.3L797.2 1621.3L799.5 1625.2L801.9 1629.0L804.4 1632.6L807.1 1636.2L809.9 1639.6L812.9 1642.8L816.0 1645.9L819.2 1648.9L822.5 1651.7L826.0 1654.3L829.5 1656.8L833.2 1659.1L836.9 1661.2L840.7 1663.1L844.6 1664.9L848.6 1666.5L852.7 1667.9L856.7 1669.1L860.9 1670.2L865.0 1671.1L869.3 1671.8L873.5 1672.4L877.7 1672.7L882.0 1673.0L886.3 1673.0L890.5 1673.0L894.8 1672.7L899.0 1672.3L903.3 1671.8L907.5 1671.1L911.7 1670.3L915.8 1669.3L920.0 1668.2L924.0 1667.0L928.1 1665.6L932.1 1664.1L936.0 1662.4L939.9 1660.7L943.7 1658.8L947.4 1656.7L951.1 1654.6L954.7 1652.3L958.2 1649.9L961.6 1647.4L965.0 1644.8L968.2 1642.1L971.4 1639.2L974.4 1636.3L977.4 1633.3L980.2 1630.1L983.0 1626.9L985.6 1623.6L988.1 1620.2L990.5 1616.8L992.8 1613.2L995.0 1609.6L997.0 1606.0L999.0 1602.3L1000.8 1598.6L1002.5 1594.9L1004.1 1591.1L1005.6 1587.3L1007.0 1583.6L1008.3 1579.8L1009.6 1576.0L1010.7 1572.3L1011.7 1568.6L1012.7 1565.0L1013.7 1561.4L1014.5 1557.9L1015.4 1554.4L1016.2 1551.0L1017.0 1547.7L1017.8 1544.5L1018.5 1541.3L1019.3 1538.3L1020.1 1535.3L1021.0 1532.5L1021.9 1529.7L1022.8 1527.1L1023.8 1524.5L1024.9 1522.1L1026.1 1519.7L1027.4 1517.4L1028.8 1515.2L1030.2 1513.1L1031.8 1511.0L1033.6 1509.1L1035.4 1507.2L1037.4 1505.3L1039.5 1503.5L1041.7 1501.7L1044.1 1499.9L1046.6 1498.1L1049.2 1496.4L1051.9 1494.6L1054.8 1492.8L1057.7 1491.0L1060.8 1489.2L1064.0 1487.3L1067.2 1485.3L1070.5 1483.3L1073.9 1481.2L1077.3 1479.0L1080.8 1476.7L1084.3 1474.4L1087.8 1471.9L1091.3 1469.4L1094.8 1466.7L1098.2 1463.9L1101.6 1461.0L1105.0 1458.1L1108.3 1454.9L1111.4 1451.7L1114.5 1448.4L1117.5 1445.0L1120.3 1441.5L1123.1 1437.8L1125.6 1434.1Z" stroke="rgb(108,108,108)" stroke-width="3.3" style="mix-blend-mode:plus-lighter"/>
<path d="M1097.5 1430.3L1095.1 1427.0L1092.6 1423.8L1090.0 1420.7L1087.4 1417.7L1084.7 1414.8L1082.1 1411.9L1079.4 1409.2L1076.8 1406.5L1074.1 1403.9L1071.5 1401.4L1068.9 1398.9L1066.4 1396.5L1063.9 1394.2L1061.5 1391.9L1059.2 1389.7L1056.9 1387.5L1054.8 1385.3L1052.7 1383.1L1050.8 1381.0L1049.0 1378.8L1047.3 1376.6L1045.7 1374.5L1044.2 1372.3L1042.9 1370.0L1041.7 1367.7L1040.6 1365.4L1039.6 1363.0L1038.8 1360.5L1038.0 1358.0L1037.4 1355.3L1036.9 1352.6L1036.4 1349.7L1036.1 1346.8L1035.8 1343.8L1035.6 1340.6L1035.4 1337.4L1035.3 1334.0L1035.2 1330.5L1035.1 1327.0L1035.1 1323.3L1035.0 1319.5L1034.9 1315.6L1034.8 1311.6L1034.6 1307.6L1034.4 1303.4L1034.1 1299.2L1033.7 1295.0L1033.2 1290.7L1032.7 1286.3L1032.0 1281.9L1031.2 1277.5L1030.3 1273.2L1029.2 1268.8L1028.0 1264.4L1026.7 1260.1L1025.2 1255.8L1023.6 1251.5L1021.8 1247.4L1019.9 1243.3L1017.8 1239.3L1015.5 1235.4L1013.1 1231.6L1010.6 1228.0L1007.9 1224.4L1005.1 1221.0L1002.1 1217.8L999.0 1214.7L995.8 1211.7L992.5 1208.9L989.0 1206.3L985.5 1203.8L981.8 1201.5L978.1 1199.4L974.3 1197.5L970.4 1195.7L966.4 1194.1L962.3 1192.7L958.3 1191.5L954.1 1190.4L950.0 1189.5L945.7 1188.8L941.5 1188.2L937.3 1187.9L933.0 1187.6L928.7 1187.6L924.5 1187.6L920.2 1187.9L916.0 1188.3L911.7 1188.8L907.5 1189.5L903.3 1190.3L899.2 1191.3L895.0 1192.4L891.0 1193.6L886.9 1195.0L882.9 1196.5L879.0 1198.2L875.1 1199.9L871.3 1201.8L867.6 1203.9L863.9 1206.0L860.3 1208.3L856.8 1210.7L853.4 1213.2L850.0 1215.8L846.8 1218.5L843.6 1221.4L840.6 1224.3L837.6 1227.3L834.8 1230.5L832.0 1233.7L829.4 1237.0L826.9 1240.4L824.5 1243.8L822.2 1247.4L820.0 1251.0L818.0 1254.6L816.0 1258.3L814.2 1262.0L812.5 1265.7L810.9 1269.5L809.4 1273.3L808.0 1277.0L806.7 1280.8L805.4 1284.6L804.3 1288.3L803.3 1292.0L802.3 1295.6L801.3 1299.2L800.5 1302.7L799.6 1306.2L798.8 1309.6L798.0 1312.9L797.2 1316.1L796.5 1319.3L795.7 1322.3L794.9 1325.3L794.0 1328.1L793.1 1330.9L792.2 1333.5L791.2 1336.1L790.1 1338.5L788.9 1340.9L787.6 1343.2L786.2 1345.4L784.8 1347.5L783.2 1349.6L781.4 1351.5L779.6 1353.4L777.6 1355.3L775.5 1357.1L773.3 1358.9L770.9 1360.7L768.4 1362.5L765.8 1364.2L763.1 1366.0L760.2 1367.8L757.3 1369.6L754.2 1371.4L751.0 1373.3L747.8 1375.3L744.5 1377.3L741.1 1379.4L737.7 1381.6L734.2 1383.9L730.7 1386.2L727.2 1388.7L723.7 1391.2L720.2 1393.9L716.8 1396.7L713.4 1399.6L710.0 1402.5L706.7 1405.7L703.6 1408.9L700.5 1412.2L697.5 1415.6L694.7 1419.1L691.9 1422.8L689.4 1426.5L686.9 1430.3L684.7 1434.2L682.6 1438.2L680.7 1442.2L679.0 1446.3L677.5 1450.4L676.1 1454.6L675.0 1458.9L674.0 1463.1L673.3 1467.4L672.7 1471.7L672.4 1476.0L672.2 1480.3L672.3 1484.6L672.5 1488.9L672.9 1493.2L673.5 1497.4L674.3 1501.6L675.3 1505.7L676.5 1509.9L677.8 1513.9L679.2 1517.9L680.9 1521.9L682.7 1525.7L684.6 1529.5L686.7 1533.3L688.9 1536.9L691.2 1540.5L693.7 1544.0L696.3 1547.4L699.0 1550.7L701.8 1553.9L704.7 1557.0L707.7 1560.1L710.8 1563.0L714.0 1565.8L717.3 1568.5L720.7 1571.0L724.2 1573.5L727.7 1575.9L731.4 1578.1L735.1 1580.2L738.8 1582.2L742.7 1584.0L746.5 1585.7L750.5 1587.3L754.5 1588.8L758.5 1590.1L762.6 1591.3L766.7 1592.3L770.8 1593.2L775.0 1594.0L779.1 1594.6L783.3 1595.1L787.5 1595.4L791.7 1595.6L795.9 1595.7L800.1 1595.7L804.3 1595.5L808.4 1595.3L812.5 1594.9L816.5 1594.4L820.6 1593.8L824.5 1593.1L828.5 1592.4L832.3 1591.6L836.1 1590.7L839.8 1589.8L843.5 1588.8L847.0 1587.8L850.5 1586.8L854.0 1585.8L857.3 1584.8L860.6 1583.8L863.8 1582.9L866.9 1582.0L869.9 1581.1L872.9 1580.4L875.7 1579.7L878.6 1579.1L881.4 1578.6L884.1 1578.2L886.8 1577.9L889.4 1577.7L892.0 1577.7L894.6 1577.8L897.2 1578.0L899.7 1578.4L902.3 1578.9L904.9 1579.5L907.5 1580.3L910.1 1581.2L912.8 1582.2L915.5 1583.4L918.3 1584.7L921.1 1586.0L924.0 1587.5L927.0 1589.1L930.1 1590.8L933.2 1592.5L936.4 1594.3L939.7 1596.1L943.1 1598.0L946.6 1599.9L950.2 1601.7L953.9 1603.6L957.7 1605.5L961.6 1607.3L965.6 1609.0L969.6 1610.7L973.7 1612.3L977.9 1613.8L982.2 1615.2L986.5 1616.5L990.9 1617.6L995.3 1618.6L999.8 1619.5L1004.3 1620.2L1008.8 1620.7L1013.3 1621.1L1017.8 1621.3L1022.3 1621.3L1026.7 1621.1L1031.2 1620.8L1035.6 1620.2L1040.0 1619.5L1044.3 1618.5L1048.5 1617.4L1052.7 1616.1L1056.7 1614.6L1060.7 1612.9L1064.6 1611.1L1068.4 1609.0L1072.1 1606.9L1075.7 1604.5L1079.2 1602.0L1082.6 1599.4L1085.8 1596.6L1088.9 1593.7L1091.9 1590.6L1094.8 1587.4L1097.5 1584.2L1100.1 1580.8L1102.6 1577.3L1104.9 1573.7L1107.1 1570.1L1109.2 1566.3L1111.1 1562.5L1112.9 1558.6L1114.5 1554.7L1116.0 1550.7L1117.4 1546.7L1118.7 1542.6L1119.8 1538.5L1120.7 1534.3L1121.6 1530.1L1122.2 1525.9L1122.8 1521.7L1123.2 1517.4L1123.4 1513.2L1123.6 1508.9L1123.5 1504.7L1123.4 1500.4L1123.1 1496.2L1122.6 1492.0L1122.0 1487.8L1121.3 1483.6L1120.4 1479.4L1119.4 1475.3L1118.2 1471.3L1116.9 1467.2L1115.5 1463.2L1114.0 1459.3L1112.3 1455.4L1110.5 1451.6L1108.6 1447.9L1106.6 1444.2L1104.4 1440.6L1102.2 1437.1L1099.9 1433.7Z" stroke="rgb(22,22,22)" stroke-width="8.5" style="mix-blend-mode:plus-lighter"/>
<path d="M1097.5 1430.3L1095.1 1427.0L1092.6 1423.8L1090.0 1420.7L1087.4 1417.7L1084.7 1414.8L1082.1 1411.9L1079.4 1409.2L1076.8 1406.5L1074.1 1403.9L1071.5 1401.4L1068.9 1398.9L1066.4 1396.5L1063.9 1394.2L1061.5 1391.9L1059.2 1389.7L1056.9 1387.5L1054.8 1385.3L1052.7 1383.1L1050.8 1381.0L1049.0 1378.8L1047.3 1376.6L1045.7 1374.5L1044.2 1372.3L1042.9 1370.0L1041.7 1367.7L1040.6 1365.4L1039.6 1363.0L1038.8 1360.5L1038.0 1358.0L1037.4 1355.3L1036.9 1352.6L1036.4 1349.7L1036.1 1346.8L1035.8 1343.8L1035.6 1340.6L1035.4 1337.4L1035.3 1334.0L1035.2 1330.5L1035.1 1327.0L1035.1 1323.3L1035.0 1319.5L1034.9 1315.6L1034.8 1311.6L1034.6 1307.6L1034.4 1303.4L1034.1 1299.2L1033.7 1295.0L1033.2 1290.7L1032.7 1286.3L1032.0 1281.9L1031.2 1277.5L1030.3 1273.2L1029.2 1268.8L1028.0 1264.4L1026.7 1260.1L1025.2 1255.8L1023.6 1251.5L1021.8 1247.4L1019.9 1243.3L1017.8 1239.3L1015.5 1235.4L1013.1 1231.6L1010.6 1228.0L1007.9 1224.4L1005.1 1221.0L1002.1 1217.8L999.0 1214.7L995.8 1211.7L992.5 1208.9L989.0 1206.3L985.5 1203.8L981.8 1201.5L978.1 1199.4L974.3 1197.5L970.4 1195.7L966.4 1194.1L962.3 1192.7L958.3 1191.5L954.1 1190.4L950.0 1189.5L945.7 1188.8L941.5 1188.2L937.3 1187.9L933.0 1187.6L928.7 1187.6L924.5 1187.6L920.2 1187.9L916.0 1188.3L911.7 1188.8L907.5 1189.5L903.3 1190.3L899.2 1191.3L895.0 1192.4L891.0 1193.6L886.9 1195.0L882.9 1196.5L879.0 1198.2L875.1 1199.9L871.3 1201.8L867.6 1203.9L863.9 1206.0L860.3 1208.3L856.8 1210.7L853.4 1213.2L850.0 1215.8L846.8 1218.5L843.6 1221.4L840.6 1224.3L837.6 1227.3L834.8 1230.5L832.0 1233.7L829.4 1237.0L826.9 1240.4L824.5 1243.8L822.2 1247.4L820.0 1251.0L818.0 1254.6L816.0 1258.3L814.2 1262.0L812.5 1265.7L810.9 1269.5L809.4 1273.3L808.0 1277.0L806.7 1280.8L805.4 1284.6L804.3 1288.3L803.3 1292.0L802.3 1295.6L801.3 1299.2L800.5 1302.7L799.6 1306.2L798.8 1309.6L798.0 1312.9L797.2 1316.1L796.5 1319.3L795.7 1322.3L794.9 1325.3L794.0 1328.1L793.1 1330.9L792.2 1333.5L791.2 1336.1L790.1 1338.5L788.9 1340.9L787.6 1343.2L786.2 1345.4L784.8 1347.5L783.2 1349.6L781.4 1351.5L779.6 1353.4L777.6 1355.3L775.5 1357.1L773.3 1358.9L770.9 1360.7L768.4 1362.5L765.8 1364.2L763.1 1366.0L760.2 1367.8L757.3 1369.6L754.2 1371.4L751.0 1373.3L747.8 1375.3L744.5 1377.3L741.1 1379.4L737.7 1381.6L734.2 1383.9L730.7 1386.2L727.2 1388.7L723.7 1391.2L720.2 1393.9L716.8 1396.7L713.4 1399.6L710.0 1402.5L706.7 1405.7L703.6 1408.9L700.5 1412.2L697.5 1415.6L694.7 1419.1L691.9 1422.8L689.4 1426.5L686.9 1430.3L684.7 1434.2L682.6 1438.2L680.7 1442.2L679.0 1446.3L677.5 1450.4L676.1 1454.6L675.0 1458.9L674.0 1463.1L673.3 1467.4L672.7 1471.7L672.4 1476.0L672.2 1480.3L672.3 1484.6L672.5 1488.9L672.9 1493.2L673.5 1497.4L674.3 1501.6L675.3 1505.7L676.5 1509.9L677.8 1513.9L679.2 1517.9L680.9 1521.9L682.7 1525.7L684.6 1529.5L686.7 1533.3L688.9 1536.9L691.2 1540.5L693.7 1544.0L696.3 1547.4L699.0 1550.7L701.8 1553.9L704.7 1557.0L707.7 1560.1L710.8 1563.0L714.0 1565.8L717.3 1568.5L720.7 1571.0L724.2 1573.5L727.7 1575.9L731.4 1578.1L735.1 1580.2L738.8 1582.2L742.7 1584.0L746.5 1585.7L750.5 1587.3L754.5 1588.8L758.5 1590.1L762.6 1591.3L766.7 1592.3L770.8 1593.2L775.0 1594.0L779.1 1594.6L783.3 1595.1L787.5 1595.4L791.7 1595.6L795.9 1595.7L800.1 1595.7L804.3 1595.5L808.4 1595.3L812.5 1594.9L816.5 1594.4L820.6 1593.8L824.5 1593.1L828.5 1592.4L832.3 1591.6L836.1 1590.7L839.8 1589.8L843.5 1588.8L847.0 1587.8L850.5 1586.8L854.0 1585.8L857.3 1584.8L860.6 1583.8L863.8 1582.9L866.9 1582.0L869.9 1581.1L872.9 1580.4L875.7 1579.7L878.6 1579.1L881.4 1578.6L884.1 1578.2L886.8 1577.9L889.4 1577.7L892.0 1577.7L894.6 1577.8L897.2 1578.0L899.7 1578.4L902.3 1578.9L904.9 1579.5L907.5 1580.3L910.1 1581.2L912.8 1582.2L915.5 1583.4L918.3 1584.7L921.1 1586.0L924.0 1587.5L927.0 1589.1L930.1 1590.8L933.2 1592.5L936.4 1594.3L939.7 1596.1L943.1 1598.0L946.6 1599.9L950.2 1601.7L953.9 1603.6L957.7 1605.5L961.6 1607.3L965.6 1609.0L969.6 1610.7L973.7 1612.3L977.9 1613.8L982.2 1615.2L986.5 1616.5L990.9 1617.6L995.3 1618.6L999.8 1619.5L1004.3 1620.2L1008.8 1620.7L1013.3 1621.1L1017.8 1621.3L1022.3 1621.3L1026.7 1621.1L1031.2 1620.8L1035.6 1620.2L1040.0 1619.5L1044.3 1618.5L1048.5 1617.4L1052.7 1616.1L1056.7 1614.6L1060.7 1612.9L1064.6 1611.1L1068.4 1609.0L1072.1 1606.9L1075.7 1604.5L1079.2 1602.0L1082.6 1599.4L1085.8 1596.6L1088.9 1593.7L1091.9 1590.6L1094.8 1587.4L1097.5 1584.2L1100.1 1580.8L1102.6 1577.3L1104.9 1573.7L1107.1 1570.1L1109.2 1566.3L1111.1 1562.5L1112.9 1558.6L1114.5 1554.7L1116.0 1550.7L1117.4 1546.7L1118.7 1542.6L1119.8 1538.5L1120.7 1534.3L1121.6 1530.1L1122.2 1525.9L1122.8 1521.7L1123.2 1517.4L1123.4 1513.2L1123.6 1508.9L1123.5 1504.7L1123.4 1500.4L1123.1 1496.2L1122.6 1492.0L1122.0 1487.8L1121.3 1483.6L1120.4 1479.4L1119.4 1475.3L1118.2 1471.3L1116.9 1467.2L1115.5 1463.2L1114.0 1459.3L1112.3 1455.4L1110.5 1451.6L1108.6 1447.9L1106.6 1444.2L1104.4 1440.6L1102.2 1437.1L1099.9 1433.7Z" stroke="rgb(108,108,108)" stroke-width="3.3" style="mix-blend-mode:plus-lighter"/>
<path d="M907.5 1430.3L961.4 1434.1" stroke="rgb(22,22,22)" stroke-width="8" style="mix-blend-mode:plus-lighter"/>
<path d="M907.5 1430.3L961.4 1434.1" stroke="rgb(80,80,80)" stroke-width="2.4" style="mix-blend-mode:plus-lighter"/>
<path d="M907.5 1430.3L937.7 1385.5" stroke="rgb(22,22,22)" stroke-width="8" style="mix-blend-mode:plus-lighter"/>
<path d="M907.5 1430.3L937.7 1385.5" stroke="rgb(80,80,80)" stroke-width="2.4" style="mix-blend-mode:plus-lighter"/>
<path d="M907.5 1430.3L883.8 1381.8" stroke="rgb(22,22,22)" stroke-width="8" style="mix-blend-mode:plus-lighter"/>
<path d="M907.5 1430.3L883.8 1381.8" stroke="rgb(80,80,80)" stroke-width="2.4" style="mix-blend-mode:plus-lighter"/>
<path d="M907.5 1430.3L853.6 1426.5" stroke="rgb(22,22,22)" stroke-width="8" style="mix-blend-mode:plus-lighter"/>
<path d="M907.5 1430.3L853.6 1426.5" stroke="rgb(80,80,80)" stroke-width="2.4" style="mix-blend-mode:plus-lighter"/>
<path d="M907.5 1430.3L877.3 1475.1" stroke="rgb(22,22,22)" stroke-width="8" style="mix-blend-mode:plus-lighter"/>
<path d="M907.5 1430.3L877.3 1475.1" stroke="rgb(80,80,80)" stroke-width="2.4" style="mix-blend-mode:plus-lighter"/>
<path d="M907.5 1430.3L931.2 1478.8" stroke="rgb(22,22,22)" stroke-width="8" style="mix-blend-mode:plus-lighter"/>
<path d="M907.5 1430.3L931.2 1478.8" stroke="rgb(80,80,80)" stroke-width="2.4" style="mix-blend-mode:plus-lighter"/>
<radialGradient id="hazeF" cx="907.5" cy="1430.3" r="24" gradientUnits="userSpaceOnUse"><stop offset="0" stop-color="rgb(50,50,50)"/><stop offset="0.5" stop-color="rgb(22,22,22)"/><stop offset="1" stop-color="rgb(0,0,0)"/></radialGradient>
<circle cx="907.5" cy="1430.3" r="24" fill="url(#hazeF)" stroke="none" style="mix-blend-mode:plus-lighter"/>
<circle cx="907.5" cy="1430.3" r="5" fill="rgb(255,255,255)" stroke="none" style="mix-blend-mode:plus-lighter"/>
</g></g></g>
<rect x="619.8" y="1287.4" width="15.2" height="274.5" fill="url(#cbE)" stroke="#222" stroke-width="0.7"/>
<path d="M635 1333.2h-3M635 1378.9h-3M635 1424.7h-3M635 1470.4h-3M635 1516.2h-3" stroke="#222" stroke-width="0.9"/>
<rect x="129.5" y="69" width="430.20000000000005" height="430.2" fill="none" stroke="#3a3a3a" stroke-width="1.8"/>
<path d="M151.0 499.2v-3M151.0 69v3M172.5 499.2v-3M172.5 69v3M194.0 499.2v-3M194.0 69v3M215.5 499.2v-3M215.5 69v3M237.1 499.2v-9M237.1 69v9M258.6 499.2v-3M258.6 69v3M280.1 499.2v-3M280.1 69v3M301.6 499.2v-3M301.6 69v3M323.1 499.2v-3M323.1 69v3M344.6 499.2v-9M344.6 69v9M366.1 499.2v-3M366.1 69v3M387.6 499.2v-3M387.6 69v3M409.1 499.2v-3M409.1 69v3M430.6 499.2v-3M430.6 69v3M452.2 499.2v-9M452.2 69v9M473.7 499.2v-3M473.7 69v3M495.2 499.2v-3M495.2 69v3M516.7 499.2v-3M516.7 69v3M538.2 499.2v-3M538.2 69v3M129.5 90.5h3M559.7 90.5h-3M129.5 112.0h3M559.7 112.0h-3M129.5 133.5h3M559.7 133.5h-3M129.5 155.0h3M559.7 155.0h-3M129.5 176.6h3M559.7 176.6h-3M129.5 198.1h3M559.7 198.1h-3M129.5 219.6h3M559.7 219.6h-3M129.5 241.1h3M559.7 241.1h-3M129.5 262.6h3M559.7 262.6h-3M129.5 284.1h9M559.7 284.1h-9M129.5 305.6h3M559.7 305.6h-3M129.5 327.1h3M559.7 327.1h-3M129.5 348.6h3M559.7 348.6h-3M129.5 370.1h3M559.7 370.1h-3M129.5 391.6h3M559.7 391.6h-3M129.5 413.2h3M559.7 413.2h-3M129.5 434.7h3M559.7 434.7h-3M129.5 456.2h3M559.7 456.2h-3M129.5 477.7h3M559.7 477.7h-3" stroke="#3a3a3a" stroke-width="1.2" fill="none"/>
<rect x="679.3" y="66.3" width="430.10000000000014" height="429.2" fill="none" stroke="#3a3a3a" stroke-width="1.8"/>
<path d="M700.8 495.5v-3M700.8 66.3v3M722.3 495.5v-3M722.3 66.3v3M743.8 495.5v-3M743.8 66.3v3M765.3 495.5v-3M765.3 66.3v3M786.8 495.5v-3M786.8 66.3v3M808.3 495.5v-3M808.3 66.3v3M829.8 495.5v-3M829.8 66.3v3M851.3 495.5v-3M851.3 66.3v3M872.8 495.5v-3M872.8 66.3v3M894.4 495.5v-9M894.4 66.3v9M915.9 495.5v-3M915.9 66.3v3M937.4 495.5v-3M937.4 66.3v3M958.9 495.5v-3M958.9 66.3v3M980.4 495.5v-3M980.4 66.3v3M1001.9 495.5v-3M1001.9 66.3v3M1023.4 495.5v-3M1023.4 66.3v3M1044.9 495.5v-3M1044.9 66.3v3M1066.4 495.5v-3M1066.4 66.3v3M1087.9 495.5v-3M1087.9 66.3v3M679.3 94.9h3M1109.4 94.9h-3M679.3 123.5h3M1109.4 123.5h-3M679.3 152.1h3M1109.4 152.1h-3M679.3 180.8h3M1109.4 180.8h-3M679.3 209.4h9M1109.4 209.4h-9M679.3 238.0h3M1109.4 238.0h-3M679.3 266.6h3M1109.4 266.6h-3M679.3 295.2h3M1109.4 295.2h-3M679.3 323.8h3M1109.4 323.8h-3M679.3 352.4h9M1109.4 352.4h-9M679.3 381.0h3M1109.4 381.0h-3M679.3 409.7h3M1109.4 409.7h-3M679.3 438.3h3M1109.4 438.3h-3M679.3 466.9h3M1109.4 466.9h-3" stroke="#3a3a3a" stroke-width="1.2" fill="none"/>
<rect x="125.2" y="680" width="430.09999999999997" height="429.20000000000005" fill="none" stroke="#3a3a3a" stroke-width="1.8"/>
<path d="M146.7 1109.2v-3M146.7 680v3M168.2 1109.2v-3M168.2 680v3M189.7 1109.2v-3M189.7 680v3M211.2 1109.2v-3M211.2 680v3M232.7 1109.2v-3M232.7 680v3M254.2 1109.2v-3M254.2 680v3M275.7 1109.2v-3M275.7 680v3M297.2 1109.2v-3M297.2 680v3M318.7 1109.2v-3M318.7 680v3M340.2 1109.2v-9M340.2 680v9M361.8 1109.2v-3M361.8 680v3M383.3 1109.2v-3M383.3 680v3M404.8 1109.2v-3M404.8 680v3M426.3 1109.2v-3M426.3 680v3M447.8 1109.2v-3M447.8 680v3M469.3 1109.2v-3M469.3 680v3M490.8 1109.2v-3M490.8 680v3M512.3 1109.2v-3M512.3 680v3M533.8 1109.2v-3M533.8 680v3M125.2 706.8h3M555.3 706.8h-3M125.2 733.6h3M555.3 733.6h-3M125.2 760.5h9M555.3 760.5h-9M125.2 787.3h3M555.3 787.3h-3M125.2 814.1h3M555.3 814.1h-3M125.2 841.0h3M555.3 841.0h-3M125.2 867.8h3M555.3 867.8h-3M125.2 894.6h9M555.3 894.6h-9M125.2 921.4h3M555.3 921.4h-3M125.2 948.2h3M555.3 948.2h-3M125.2 975.1h3M555.3 975.1h-3M125.2 1001.9h3M555.3 1001.9h-3M125.2 1028.7h9M555.3 1028.7h-9M125.2 1055.6h3M555.3 1055.6h-3M125.2 1082.4h3M555.3 1082.4h-3" stroke="#3a3a3a" stroke-width="1.2" fill="none"/>
<rect x="680.6" y="683" width="430.1" height="429.4000000000001" fill="none" stroke="#3a3a3a" stroke-width="1.8"/>
<path d="M702.1 1112.4v-3M702.1 683v3M723.6 1112.4v-3M723.6 683v3M745.1 1112.4v-3M745.1 683v3M766.6 1112.4v-3M766.6 683v3M788.1 1112.4v-3M788.1 683v3M809.6 1112.4v-3M809.6 683v3M831.1 1112.4v-3M831.1 683v3M852.6 1112.4v-3M852.6 683v3M874.1 1112.4v-3M874.1 683v3M895.7 1112.4v-9M895.7 683v9M917.2 1112.4v-3M917.2 683v3M938.7 1112.4v-3M938.7 683v3M960.2 1112.4v-3M960.2 683v3M981.7 1112.4v-3M981.7 683v3M1003.2 1112.4v-3M1003.2 683v3M1024.7 1112.4v-3M1024.7 683v3M1046.2 1112.4v-3M1046.2 683v3M1067.7 1112.4v-3M1067.7 683v3M1089.2 1112.4v-3M1089.2 683v3M680.6 709.8h3M1110.7 709.8h-3M680.6 736.7h3M1110.7 736.7h-3M680.6 763.5h9M1110.7 763.5h-9M680.6 790.4h3M1110.7 790.4h-3M680.6 817.2h3M1110.7 817.2h-3M680.6 844.0h3M1110.7 844.0h-3M680.6 870.9h3M1110.7 870.9h-3M680.6 897.7h9M1110.7 897.7h-9M680.6 924.5h3M1110.7 924.5h-3M680.6 951.4h3M1110.7 951.4h-3M680.6 978.2h3M1110.7 978.2h-3M680.6 1005.1h3M1110.7 1005.1h-3M680.6 1031.9h9M1110.7 1031.9h-9M680.6 1058.7h3M1110.7 1058.7h-3M680.6 1085.6h3M1110.7 1085.6h-3" stroke="#3a3a3a" stroke-width="1.2" fill="none"/>
<g fill="#111"><text transform="translate(40.60 42.28) scale(0.4262 0.4200)" font-size="100">(a)</text>
<text transform="translate(119.88 33.08) scale(0.4574 0.4089)" font-size="100">⟨<tspan font-style="italic">S</tspan><tspan font-size="70" dy="14" font-style="italic">x</tspan><tspan dy="-14">⟩</tspan></text>
<text transform="translate(188.31 54.54) scale(0.3387 0.3284)" font-size="100">−0.5</text>
<text transform="translate(367.79 54.54) scale(0.3524 0.3284)" font-size="100">0</text>
<text transform="translate(511.30 54.54) scale(0.3496 0.3284)" font-size="100">0.5</text>
<text transform="translate(73.06 95.15) scale(0.3861 0.3761)" font-size="100">0.2</text>
<text transform="translate(101.14 296.54) scale(0.3905 0.3776)" font-size="100">0</text>
<text transform="translate(50.35 512.04) scale(0.3901 0.3776)" font-size="100">−0.2</text>
<text transform="translate(126.34 542.30) scale(0.4865 0.4200)" font-size="100">Γ</text>
<text transform="translate(259.74 542.30) scale(0.3529 0.3954)" font-size="100">K</text>
<text transform="translate(324.84 542.30) scale(0.3855 0.3954)" font-size="100">M</text>
<text transform="translate(400.92 542.30) scale(0.3614 0.3954)" font-size="100">K'</text>
<text transform="translate(529.04 542.30) scale(0.4865 0.4200)" font-size="100">Γ</text>
<text transform="translate(77.35 387.94) rotate(-90) scale(0.5103 0.5022)" font-size="100">(<tspan font-style="italic">E</tspan> − <tspan font-style="italic">μ</tspan><tspan font-size="70" dy="14">4</tspan><tspan dy="-14">)/</tspan><tspan font-style="italic">t</tspan><tspan font-size="70" dy="14">⊥</tspan></text>
<text transform="translate(622.46 44.04) scale(0.4352 0.4267)" font-size="100">(b)</text>
<text transform="translate(622.53 92.24) scale(0.3675 0.3806)" font-size="100">0.3</text>
<text transform="translate(622.47 222.51) scale(0.3817 0.3955)" font-size="100">0.2</text>
<text transform="translate(624.54 365.22) scale(0.3643 0.3897)" font-size="100">0.1</text>
<text transform="translate(650.73 508.83) scale(0.3929 0.3866)" font-size="100">0</text>
<text transform="translate(669.65 538.92) scale(0.3881 0.3896)" font-size="100">0</text>
<text transform="translate(861.23 538.44) scale(0.3677 0.3821)" font-size="100">0.05</text>
<text transform="translate(1069.86 538.45) scale(0.3609 0.3765)" font-size="100">0.1</text>
<text transform="translate(865.52 589.31) scale(0.3830 0.5278)" font-size="100">V/<tspan font-style="italic">t</tspan><tspan font-size="70" dy="14">⊥</tspan></text>
<text transform="translate(615.94 334.27) rotate(-90) scale(0.4314 0.4021)" font-size="100"><tspan font-style="italic">E</tspan><tspan font-size="70" dy="14" font-style="italic">g</tspan><tspan dy="-14">/2Δ</tspan></text>
<text transform="translate(906.60 418.04) scale(0.3755 0.3791)" font-size="100">C=2</text>
<text transform="translate(1044.50 458.27) scale(0.3739 0.3642)" font-size="100">C=0</text>
<text transform="translate(94.76 644.26) scale(0.4350 0.4256)" font-size="100">(c)</text>
<text transform="translate(195.13 654.44) scale(0.3673 0.3838)" font-size="100">upper</text>
<text transform="translate(339.60 659.33) scale(0.3657 0.3657)" font-size="100">bulk</text>
<text transform="translate(471.16 659.33) scale(0.3693 0.3657)" font-size="100">lower</text>
<text transform="translate(55.72 771.70) scale(0.3461 0.3507)" font-size="100">0.25</text>
<text transform="translate(99.02 905.80) scale(0.3452 0.3478)" font-size="100">0</text>
<text transform="translate(35.46 1040.40) scale(0.3484 0.3478)" font-size="100">−0.25</text>
<text transform="translate(77.73 983.41) rotate(-90) scale(0.4772 0.5178)" font-size="100">(<tspan font-style="italic">E</tspan> − <tspan font-style="italic">μ</tspan><tspan font-size="70" dy="14">4</tspan><tspan dy="-14">)/Δ</tspan></text>
<text transform="translate(120.82 1154.20) scale(0.3746 0.4308)" font-size="100"><tspan font-style="italic">X</tspan></text>
<text transform="translate(320.44 1155.50) scale(0.5192 0.4308)" font-size="100">Γ</text>
<text transform="translate(526.87 1155.50) scale(0.3582 0.4308)" font-size="100"><tspan font-style="italic">X</tspan></text>
<text transform="translate(639.92 644.34) scale(0.4444 0.4267)" font-size="100">(d)</text>
<text transform="translate(716.03 657.89) scale(0.3730 0.3912)" font-size="100">upper</text>
<text transform="translate(860.70 661.53) scale(0.3596 0.3657)" font-size="100">bulk</text>
<text transform="translate(991.16 661.53) scale(0.3693 0.3657)" font-size="100">lower</text>
<text transform="translate(610.32 775.10) scale(0.3461 0.3478)" font-size="100">0.25</text>
<text transform="translate(653.62 909.20) scale(0.3452 0.3478)" font-size="100">0</text>
<text transform="translate(590.06 1043.50) scale(0.3484 0.3478)" font-size="100">−0.25</text>
<text transform="translate(633.64 991.23) rotate(-90) scale(0.4837 0.4744)" font-size="100">(<tspan font-style="italic">E</tspan> − <tspan font-style="italic">μ</tspan><tspan font-size="70" dy="14">4</tspan><tspan dy="-14">)/Δ</tspan></text>
<text transform="translate(686.95 1152.40) scale(0.3507 0.4308)" font-size="100"><tspan font-style="italic">X</tspan></text>
<text transform="translate(886.50 1152.40) scale(0.5000 0.4308)" font-size="100">Γ</text>
<text transform="translate(1090.50 1152.40) scale(0.3657 0.4308)" font-size="100"><tspan font-style="italic">X</tspan></text>
<text transform="translate(28.68 1230.90) scale(0.4301 0.4333)" font-size="100">(e)</text>
<text transform="translate(26.97 1273.22) scale(0.3663 0.3771)" font-size="100">max</text>
<text transform="translate(44.41 1597.67) scale(0.3976 0.4149)" font-size="100">0</text>
<text transform="translate(29.70 1477.56) rotate(-90) scale(0.4078 0.4144)" font-size="100"><tspan font-style="italic">A</tspan>(<tspan font-style="italic">k</tspan>, <tspan font-style="italic">ω</tspan>)</text>
<text transform="translate(78.10 1433.03) scale(0.4024 0.4454)" font-size="100">k<tspan font-size="75" dy="12">y</tspan></text>
<text transform="translate(323.28 1692.86) scale(0.4612 0.4617)" font-size="100">k<tspan font-size="75" dy="12">x</tspan></text>
<text transform="translate(616.69 1229.43) scale(0.4275 0.4174)" font-size="100">(f)</text>
<text transform="translate(597.96 1275.12) scale(0.3692 0.3771)" font-size="100">max</text>
<text transform="translate(615.19 1599.16) scale(0.4024 0.4179)" font-size="100">0</text>
<text transform="translate(600.94 1478.97) rotate(-90) scale(0.4061 0.3933)" font-size="100"><tspan font-style="italic">A</tspan>(<tspan font-style="italic">k</tspan>, <tspan font-style="italic">ω</tspan>)</text>
<text transform="translate(642.57 1431.31) scale(0.4165 0.4175)" font-size="100">k<tspan font-size="75" dy="12">y</tspan></text>
<text transform="translate(888.88 1691.03) scale(0.4612 0.4642)" font-size="100">k<tspan font-size="75" dy="12">x</tspan></text></g>
<path d="M163.9 1138.4H241.3" stroke="#111" stroke-width="1.6"/><path d="M157.9 1138.4l11 -4.7l-2.5 4.7l2.5 4.7z" fill="#111"/>
<path d="M421 1142H499" stroke="#111" stroke-width="1.6"/><path d="M505 1142l-11 -4.7l2.5 4.7l-2.5 4.7z" fill="#111"/>
<path d="M727.9 1135.6H806.3" stroke="#111" stroke-width="1.6"/><path d="M721.9 1135.6l11 -4.7l-2.5 4.7l2.5 4.7z" fill="#111"/>
<path d="M985.9 1139H1063.4" stroke="#111" stroke-width="1.6"/><path d="M1069.4 1139l-11 -4.7l2.5 4.7l-2.5 4.7z" fill="#111"/>
</svg></body></html>
